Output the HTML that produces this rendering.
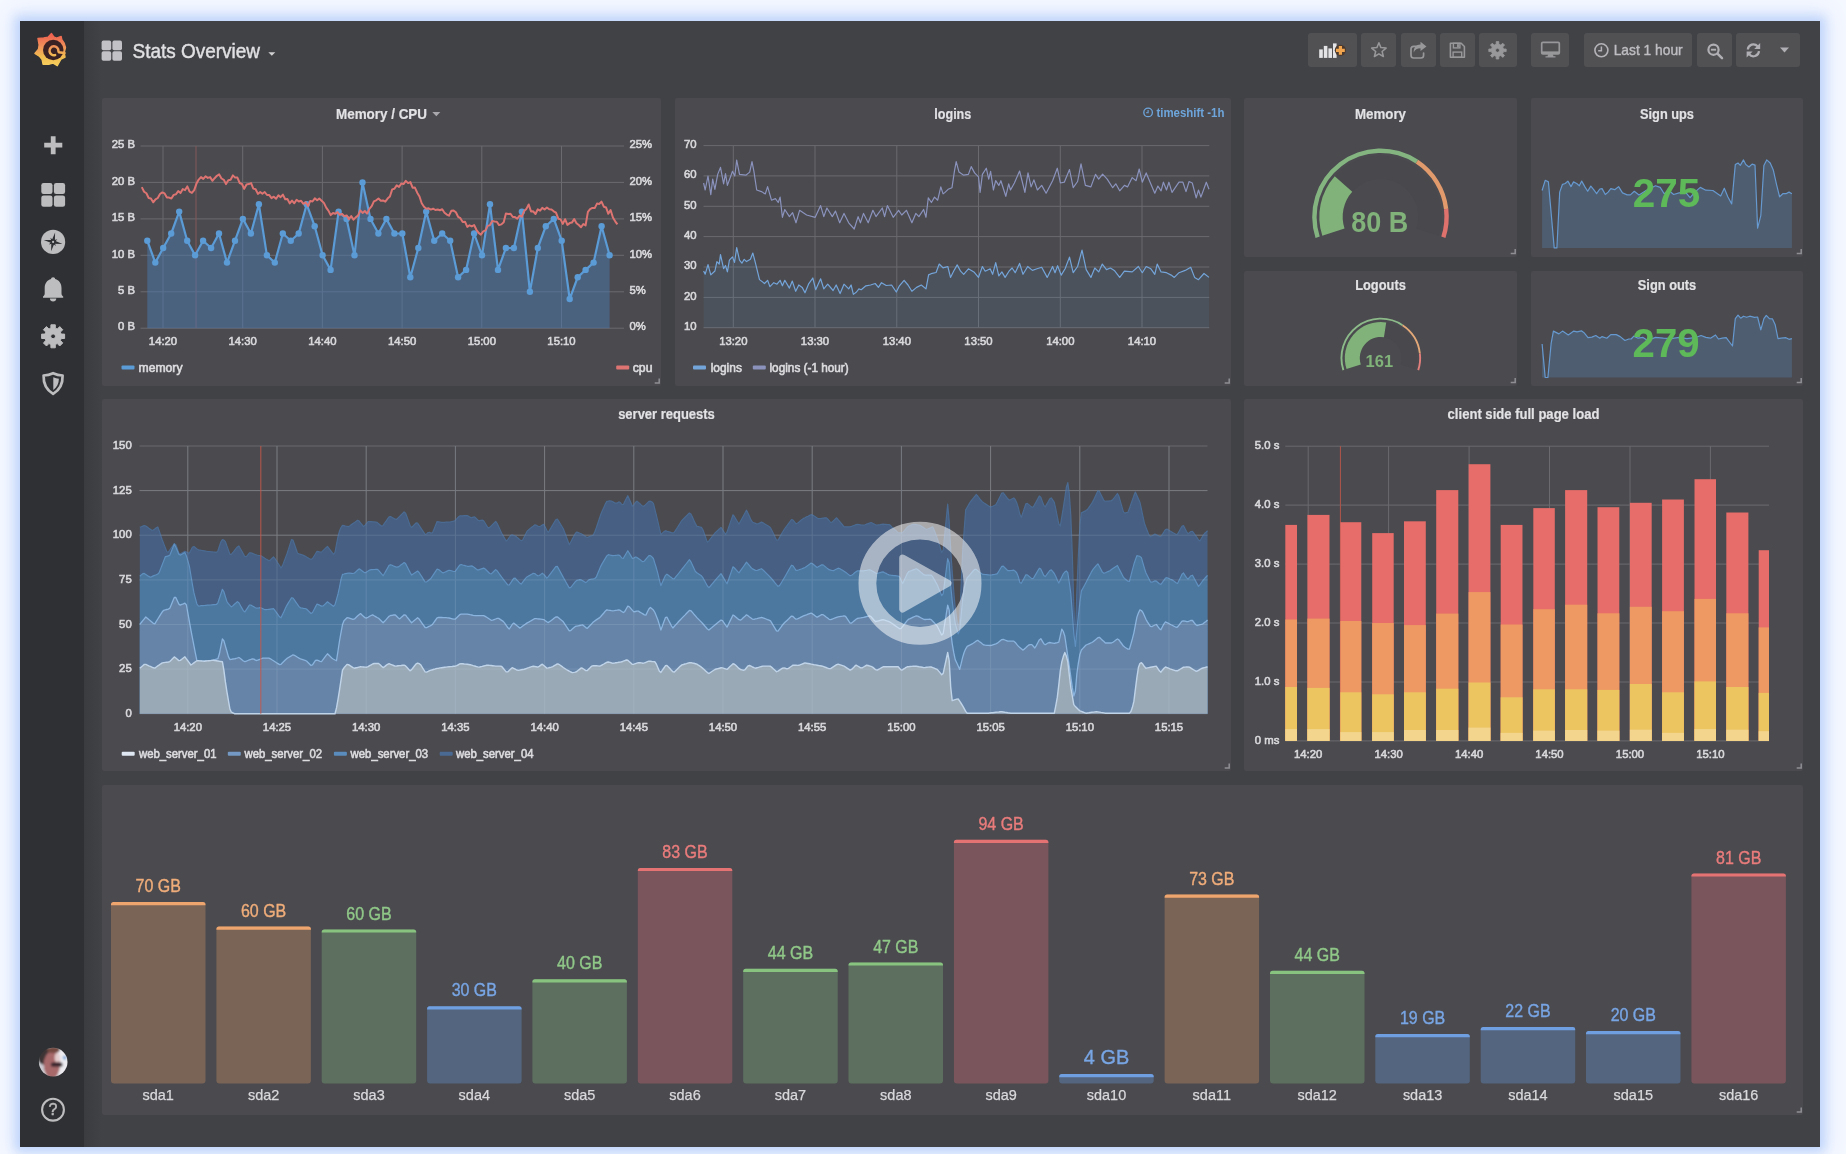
<!DOCTYPE html>
<html lang="en">
<head>
<meta charset="utf-8">
<title>Stats Overview - Grafana</title>
<style>
*{box-sizing:border-box;margin:0;padding:0}
html,body{width:1846px;height:1154px;overflow:hidden}
body{background:#f5f8ff;font-family:"Liberation Sans",sans-serif;position:relative}
.glow{position:absolute;left:20px;top:21px;width:1800px;height:1126px;box-shadow:0 0 10px 5px #c0d5fb,0 -2px 22px 8px #e2ebfd;}
.window{position:absolute;left:20px;top:21px;width:1800px;height:1126px;background:#414245;overflow:hidden}
.sidebar{position:absolute;left:0;top:0;width:64px;height:1126px;background:#2f3033}
.sideshade{position:absolute;left:64px;top:0;width:18px;height:1126px;background:linear-gradient(90deg,#3b3c3f,#414245)}
.panel{position:absolute;background:#4a4a4f;border-radius:2px}
svg{position:absolute;left:0;top:0;overflow:visible;will-change:transform;filter:blur(0.45px)}
svg text{font-family:"Liberation Sans",sans-serif}
.navbtn{position:absolute;top:12px;height:34px;background:#515154;border-radius:3px}
</style>
</head>
<body>
<div class="glow"></div>
<div class="window">
<nav class="sidebar" aria-label="Side menu"></nav>
<div class="sideshade"></div>
<header class="navbar"><div class="navbtn" style="left:1287.6px;width:49.2px"></div><div class="navbtn" style="left:1341.1px;width:35.3px"></div><div class="navbtn" style="left:1380.6px;width:35.3px"></div><div class="navbtn" style="left:1420.3px;width:34.8px"></div><div class="navbtn" style="left:1459.0px;width:37.6px"></div><div class="navbtn" style="left:1511.3px;width:38.0px"></div><div class="navbtn" style="left:1564.0px;width:108.3px"></div><div class="navbtn" style="left:1676.7px;width:35.2px"></div><div class="navbtn" style="left:1716.1px;width:63.5px"></div></header>
<main>
<section class="panel" aria-label="Memory / CPU" style="left:82px;top:77px;width:559px;height:288px"></section>
<section class="panel" aria-label="logins" style="left:654.5px;top:77px;width:556.5px;height:288px"></section>
<section class="panel" aria-label="Memory" style="left:1224px;top:77px;width:273px;height:158.5px"></section>
<section class="panel" aria-label="Sign ups" style="left:1511px;top:77px;width:272px;height:158.5px"></section>
<section class="panel" aria-label="Logouts" style="left:1224px;top:249.5px;width:273px;height:115.0px"></section>
<section class="panel" aria-label="Sign outs" style="left:1511px;top:249.5px;width:272px;height:115.0px"></section>
<section class="panel" aria-label="server requests" style="left:82px;top:377.5px;width:1129px;height:372.5px"></section>
<section class="panel" aria-label="client side full page load" style="left:1224px;top:377.5px;width:559px;height:372.5px"></section>
<section class="panel" aria-label="disk usage" style="left:82px;top:763.5px;width:1701px;height:330.5px"></section>
</main>
</div>
<svg width="1846" height="1154" viewBox="0 0 1846 1154" role="img" aria-label="Stats Overview dashboard">
<g id="logo"><defs><linearGradient id="lg" gradientUnits="userSpaceOnUse" x1="0" y1="195" x2="0" y2="940"><stop offset="0" stop-color="#ee5c50"/><stop offset="0.4" stop-color="#f0925a"/><stop offset="0.72" stop-color="#f2bd50"/><stop offset="1" stop-color="#f6cf5e"/></linearGradient></defs><g transform="translate(25 25) scale(0.04335)"><path d="M610 195 L665 275 L725 300 L835 262 L850 340 L905 420 L935 520 L905 640 L925 740 L830 790 L745 940 L650 880 L560 905 L415 905 L395 800 L330 720 L228 655 L310 560 L325 460 L298 310 L430 300 L530 280Z" fill="url(#lg)" stroke="url(#lg)" stroke-width="30" stroke-linejoin="round"/><circle cx="652" cy="578" r="236" fill="#3a2224"/><path d="M912 648 L779 626 L771 601 A103 103 0 1 0 695 695" fill="none" stroke="url(#lg)" stroke-width="58" stroke-linecap="round" stroke-linejoin="round"/></g></g>
<g id="sidemenu"><path d="M53.2 136.300V154.200M44.200 145.2H62.300" stroke="#bdbdbf" stroke-width="4.800" fill="none"/><rect x="41.3" y="182.9" width="11.2" height="11.2" rx="2.3" fill="#bdbdbf"/><rect x="53.9" y="182.9" width="11.2" height="11.2" rx="2.3" fill="#bdbdbf"/><rect x="41.3" y="195.5" width="11.2" height="11.2" rx="2.3" fill="#bdbdbf"/><rect x="53.9" y="195.5" width="11.2" height="11.2" rx="2.3" fill="#bdbdbf"/><circle cx="53.1" cy="241.9" r="12.1" fill="#bdbdbf"/><path d="M55.1 232.5 L54.9 240.7 L62.5 243.9 L54.3 243.7 L51.1 251.3 L51.3 243.1 L43.7 239.9 L51.9 240.1Z" fill="#2f3033"/><path d="M57.3 239.2 L54.7 242.2 L55.8 246.1 L52.8 243.5 L48.9 244.6 L51.5 241.6 L50.4 237.7 L53.4 240.3Z" fill="#2f3033"/><circle cx="53.1" cy="241.9" r="1.1" fill="#bdbdbf"/><path d="M53.1 277.2c1.3 0 2 .8 2 1.8c4 1 6.4 4.400 6.400 9v5.400c0 1.400 .8 2.300 1.700 3v1.300h-20.200v-1.300c.9-.7 1.700-1.600 1.700-3v-5.400c0-4.600 2.400-8 6.400-9c0-1 .7-1.800 2-1.800z" fill="#bdbdbf"/><path d="M49.9 298.4h6.400c0 1.800-1.400 3.100-3.200 3.100s-3.200-1.300-3.200-3.100z" fill="#bdbdbf"/><path d="M50.9 328.2 L50.9 324.8 L55.3 324.8 L55.3 328.2 L57.3 329 L59.7 326.6 L62.8 329.7 L60.4 332.1 L61.2 334.1 L64.6 334.1 L64.6 338.5 L61.2 338.5 L60.4 340.5 L62.8 342.9 L59.7 346 L57.3 343.6 L55.3 344.4 L55.3 347.8 L50.9 347.8 L50.9 344.4 L48.9 343.6 L46.5 346 L43.4 342.9 L45.8 340.5 L45 338.5 L41.6 338.5 L41.6 334.1 L45 334.1 L45.8 332.1 L43.4 329.7 L46.5 326.6 L48.9 329ZM50.70 336.30a2.4 2.4 0 1 0 4.8 0a2.4 2.4 0 1 0 -4.8 0Z" fill="#bdbdbf" fill-rule="evenodd" stroke="#bdbdbf" stroke-width="1" stroke-linejoin="round"/><path d="M53.1 373.200c3.400 1.500 6.300 2.100 9.500 2.300c.3 8.200-3.200 14.600-9.500 18.400c-6.300-3.800-9.800-10.200-9.500-18.400c3.200-.2 6.100-.8 9.500-2.300z" fill="none" stroke="#bdbdbf" stroke-width="2.7" stroke-linejoin="round"/><path d="M53.3 377.3c2 .8 3.700 1.200 5.600 1.400c-.1 4.900-2 8.700-5.600 11.300z" fill="#bdbdbf"/><defs><clipPath id="avc"><circle cx="53.200" cy="1062.100" r="14.300"/></clipPath><filter id="avb" x="-20%" y="-20%" width="140%" height="140%"><feGaussianBlur stdDeviation="0.9"/></filter></defs><g clip-path="url(#avc)"><g filter="url(#avb)"><rect x="36" y="1045" width="35" height="35" fill="#d9d9de"/><ellipse cx="44.500" cy="1056" rx="7" ry="9.500" fill="#3d3436"/><ellipse cx="62" cy="1062" rx="6.500" ry="14" fill="#ececf1"/><ellipse cx="51.800" cy="1065" rx="8.200" ry="13.500" fill="#a8696b"/><ellipse cx="53.500" cy="1049.800" rx="6.500" ry="3.300" fill="#74483f"/><ellipse cx="57.300" cy="1057.500" rx="2.600" ry="4.600" fill="#e3cccc"/><rect x="50.800" y="1062.400" width="11.800" height="4.300" rx="1.800" fill="#38282e"/><circle cx="64.600" cy="1057.700" r="1.900" fill="#7ea9da"/><ellipse cx="41.500" cy="1068" rx="2.500" ry="4" fill="#c9c9cf"/></g></g><circle cx="53" cy="1109.700" r="10.900" fill="none" stroke="#bdbdbf" stroke-width="2.100"/><text x="53.0" y="1115.3" font-size="16" text-anchor="middle" fill="#bdbdbf" stroke="#bdbdbf" stroke-width="0.5">?</text></g>
<g id="header"><rect x="101.6" y="40.6" width="9.600" height="9.600" rx="1.800" fill="#c2c2c6"/><rect x="112.4" y="40.6" width="9.600" height="9.600" rx="1.800" fill="#c2c2c6"/><rect x="101.6" y="51.2" width="9.600" height="9.600" rx="1.800" fill="#c2c2c6"/><rect x="112.4" y="51.2" width="9.600" height="9.600" rx="1.800" fill="#c2c2c6"/><text x="132.5" y="58.2" font-size="21" fill="#e0e0e3" textLength="127.5" lengthAdjust="spacingAndGlyphs" stroke="#e0e0e3" stroke-width="0.45">Stats Overview</text><path d="M268.300 52.200h7l-3.500 3.600z" fill="#d0d0d3"/></g>
<g id="navbar"><rect x="1319.2" y="49.4" width="3.600" height="8.5" fill="#e4e4e6"/><rect x="1323.8" y="45.9" width="3.600" height="12" fill="#e4e4e6"/><rect x="1328.4" y="48.4" width="3.600" height="9.5" fill="#e4e4e6"/><rect x="1333.0" y="43.4" width="3.600" height="14.5" fill="#e4e4e6"/><circle cx="1340.4" cy="50.300" r="5.600" fill="#4d3a2e"/><path d="M1340.4 45.900v8.800M1336 50.300h8.800" stroke="#f0a54e" stroke-width="3.200" fill="none"/><path d="M1378.9 42.8 L1380.9 47.6 L1386.1 48.1 L1382.1 51.5 L1383.4 56.5 L1378.9 53.8 L1374.4 56.5 L1375.7 51.5 L1371.7 48.1 L1376.9 47.6Z" fill="none" stroke="#98989b" stroke-width="1.500" stroke-linejoin="round"/><path d="M1419.0 46.4h-5.300c-1.600 0-2.700 1.100-2.700 2.700v6.200c0 1.600 1.100 2.700 2.700 2.700h7.200c1.600 0 2.700-1.100 2.700-2.700v-2.300" fill="none" stroke="#98989b" stroke-width="1.700" stroke-linecap="round"/><path d="M1420.5 41.800000000000004l6 4.600l-6 4.600v-2.700c-3.400 0-5.400 1.200-6.800 4.100c0-5 2.300-7.700 6.800-7.900z" fill="#98989b"/><path d="M1450.4 43.3h10.800l3.200 3.200v10.800h-14z" fill="none" stroke="#98989b" stroke-width="1.600" stroke-linejoin="round"/><rect x="1453.4" y="43.3" width="6.500" height="4.600" fill="none" stroke="#98989b" stroke-width="1.400"/><rect x="1457.1000000000001" y="44.099999999999994" width="1.800" height="3" fill="#98989b"/><rect x="1453.1000000000001" y="52.099999999999994" width="8.600" height="5.200" fill="none" stroke="#98989b" stroke-width="1.400"/><path d="M1496.2 44.2 L1496.2 41.6 L1498.8 41.6 L1498.8 44.2 L1500.8 45.1 L1502.7 43.2 L1504.6 45.1 L1502.7 47 L1503.6 49 L1506.2 49 L1506.2 51.6 L1503.6 51.6 L1502.7 53.6 L1504.6 55.5 L1502.7 57.4 L1500.8 55.5 L1498.8 56.4 L1498.8 59 L1496.2 59 L1496.2 56.4 L1494.2 55.5 L1492.3 57.4 L1490.4 55.5 L1492.3 53.6 L1491.4 51.6 L1488.8 51.6 L1488.8 49 L1491.4 49 L1492.3 47 L1490.4 45.1 L1492.3 43.2 L1494.2 45.1ZM1495.50 50.30a2.0 2.0 0 1 0 4.0 0a2.0 2.0 0 1 0 -4.0 0Z" fill="#98989b" fill-rule="evenodd" stroke="#98989b" stroke-width="0.800" stroke-linejoin="round"/><rect x="1541.7" y="42.300000000000004" width="17.600" height="11.600" rx="1.200" fill="none" stroke="#98989b" stroke-width="1.700"/><rect x="1541.7" y="51.4" width="17.600" height="2.600" fill="#98989b"/><path d="M1548.3 53.9h4.400l.8 2.400h2v1.300h-10v-1.300h2z" fill="#98989b"/><circle cx="1601.4" cy="50.3" r="6.500" fill="none" stroke="#b4b4b8" stroke-width="1.600"/><path d="M1601.4 46.5v4.200h-3.200" fill="none" stroke="#b4b4b8" stroke-width="1.500"/><text x="1613.7" y="55.0" font-size="14.6" fill="#bebec2" textLength="69.0" lengthAdjust="spacingAndGlyphs" stroke="#bebec2" stroke-width="0.4">Last 1 hour</text><circle cx="1713.5" cy="49.7" r="5.100" fill="none" stroke="#b0b0b4" stroke-width="2.200"/><path d="M1717.7 53.900000000000006l4.300 4.300" stroke="#b0b0b4" stroke-width="2.500" stroke-linecap="round"/><path d="M1710.9 49.7h5.200" stroke="#b0b0b4" stroke-width="1.900"/><path d="M1747.8000000000002 49.5a5.6 5.6 0 0 1 9.800 -3.200" fill="none" stroke="#b0b0b4" stroke-width="2.200"/><path d="M1760.2 43.099999999999994v6h-6z" fill="#b0b0b4"/><path d="M1759.0 51.099999999999994a5.6 5.6 0 0 1 -9.800 3.200" fill="none" stroke="#b0b0b4" stroke-width="2.200"/><path d="M1746.6000000000001 57.5v-6h6z" fill="#b0b0b4"/><path d="M1780 47.600h9l-4.500 4.800z" fill="#b0b0b4"/></g>
<g id="memcpu"><text x="381.5" y="119.3" font-size="14" text-anchor="middle" font-weight="bold" fill="#e2e2e5" textLength="91.0" lengthAdjust="spacingAndGlyphs" stroke="#e2e2e5" stroke-width="0.2">Memory / CPU</text><path d="M432.300 112h8l-4 4.200z" fill="#a9a9ad"/><path d="M140.5 146.0H624" stroke="#6a6a6f" stroke-width="1"/><path d="M140.5 182.4H624" stroke="#6a6a6f" stroke-width="1"/><path d="M140.5 218.9H624" stroke="#6a6a6f" stroke-width="1"/><path d="M140.5 255.3H624" stroke="#6a6a6f" stroke-width="1"/><path d="M140.5 291.8H624" stroke="#6a6a6f" stroke-width="1"/><path d="M140.5 328.2H624" stroke="#6a6a6f" stroke-width="1"/><path d="M163.0 146V328.2" stroke="#6a6a6f" stroke-width="1"/><path d="M242.7 146V328.2" stroke="#6a6a6f" stroke-width="1"/><path d="M322.4 146V328.2" stroke="#6a6a6f" stroke-width="1"/><path d="M402.1 146V328.2" stroke="#6a6a6f" stroke-width="1"/><path d="M481.8 146V328.2" stroke="#6a6a6f" stroke-width="1"/><path d="M561.5 146V328.2" stroke="#6a6a6f" stroke-width="1"/><text x="135.0" y="148.2" font-size="11.5" text-anchor="end" fill="#d9d9dc" textLength="23.3" lengthAdjust="spacingAndGlyphs" stroke="#d9d9dc" stroke-width="0.6">25 B</text><text x="135.0" y="184.6" font-size="11.5" text-anchor="end" fill="#d9d9dc" textLength="23.3" lengthAdjust="spacingAndGlyphs" stroke="#d9d9dc" stroke-width="0.6">20 B</text><text x="135.0" y="221.1" font-size="11.5" text-anchor="end" fill="#d9d9dc" textLength="23.3" lengthAdjust="spacingAndGlyphs" stroke="#d9d9dc" stroke-width="0.6">15 B</text><text x="135.0" y="257.5" font-size="11.5" text-anchor="end" fill="#d9d9dc" textLength="23.3" lengthAdjust="spacingAndGlyphs" stroke="#d9d9dc" stroke-width="0.6">10 B</text><text x="135.0" y="294.0" font-size="11.5" text-anchor="end" fill="#d9d9dc" textLength="17.0" lengthAdjust="spacingAndGlyphs" stroke="#d9d9dc" stroke-width="0.6">5 B</text><text x="135.0" y="330.4" font-size="11.5" text-anchor="end" fill="#d9d9dc" textLength="17.0" lengthAdjust="spacingAndGlyphs" stroke="#d9d9dc" stroke-width="0.6">0 B</text><text x="629.5" y="148.2" font-size="11.5" fill="#d9d9dc" textLength="22.6" lengthAdjust="spacingAndGlyphs" stroke="#d9d9dc" stroke-width="0.6">25%</text><text x="629.5" y="184.6" font-size="11.5" fill="#d9d9dc" textLength="22.6" lengthAdjust="spacingAndGlyphs" stroke="#d9d9dc" stroke-width="0.6">20%</text><text x="629.5" y="221.1" font-size="11.5" fill="#d9d9dc" textLength="22.6" lengthAdjust="spacingAndGlyphs" stroke="#d9d9dc" stroke-width="0.6">15%</text><text x="629.5" y="257.5" font-size="11.5" fill="#d9d9dc" textLength="22.6" lengthAdjust="spacingAndGlyphs" stroke="#d9d9dc" stroke-width="0.6">10%</text><text x="629.5" y="294.0" font-size="11.5" fill="#d9d9dc" textLength="16.3" lengthAdjust="spacingAndGlyphs" stroke="#d9d9dc" stroke-width="0.6">5%</text><text x="629.5" y="330.4" font-size="11.5" fill="#d9d9dc" textLength="16.3" lengthAdjust="spacingAndGlyphs" stroke="#d9d9dc" stroke-width="0.6">0%</text><text x="163.0" y="345.2" font-size="11.5" text-anchor="middle" fill="#d9d9dc" textLength="28.3" lengthAdjust="spacingAndGlyphs" stroke="#d9d9dc" stroke-width="0.6">14:20</text><text x="242.7" y="345.2" font-size="11.5" text-anchor="middle" fill="#d9d9dc" textLength="28.3" lengthAdjust="spacingAndGlyphs" stroke="#d9d9dc" stroke-width="0.6">14:30</text><text x="322.4" y="345.2" font-size="11.5" text-anchor="middle" fill="#d9d9dc" textLength="28.3" lengthAdjust="spacingAndGlyphs" stroke="#d9d9dc" stroke-width="0.6">14:40</text><text x="402.1" y="345.2" font-size="11.5" text-anchor="middle" fill="#d9d9dc" textLength="28.3" lengthAdjust="spacingAndGlyphs" stroke="#d9d9dc" stroke-width="0.6">14:50</text><text x="481.8" y="345.2" font-size="11.5" text-anchor="middle" fill="#d9d9dc" textLength="28.3" lengthAdjust="spacingAndGlyphs" stroke="#d9d9dc" stroke-width="0.6">15:00</text><text x="561.5" y="345.2" font-size="11.5" text-anchor="middle" fill="#d9d9dc" textLength="28.3" lengthAdjust="spacingAndGlyphs" stroke="#d9d9dc" stroke-width="0.6">15:10</text><path d="M196 146V328.2" stroke="#85585a" stroke-width="1"/><path d="M147.3 240.7 L155.3 262.6 L163.2 248 L171.2 233.5 L179.2 211.6 L187.2 240.7 L195.1 255.3 L203.1 240.7 L211.1 248 L219 233.5 L227 262.6 L235 240.7 L242.9 218.9 L250.9 233.5 L258.9 204.3 L266.9 255.3 L274.8 262.6 L282.8 233.5 L290.8 240.7 L298.7 233.5 L306.7 204.3 L314.7 226.2 L322.6 255.3 L330.6 269.9 L338.6 211.6 L346.6 218.9 L354.5 255.3 L362.5 182.4 L370.5 218.9 L378.4 233.5 L386.4 218.9 L394.4 233.5 L402.3 233.5 L410.3 277.2 L418.3 248 L426.2 211.6 L434.2 240.7 L442.2 233.5 L450.2 240.7 L458.1 277.2 L466.1 269.9 L474.1 233.5 L482 255.3 L490 204.3 L498 269.9 L505.9 248 L513.9 248 L521.9 211.6 L529.9 291.8 L537.8 248 L545.8 226.2 L553.8 218.9 L561.7 240.7 L569.7 299 L577.7 277.2 L585.6 269.9 L593.6 262.6 L601.6 226.2 L609.6 255.3 L609.6 328.2 L147.3 328.2Z" fill="#4c79ad" fill-opacity="0.52"/><path d="M147.3 240.7 L155.3 262.6 L163.2 248 L171.2 233.5 L179.2 211.6 L187.2 240.7 L195.1 255.3 L203.1 240.7 L211.1 248 L219 233.5 L227 262.6 L235 240.7 L242.9 218.9 L250.9 233.5 L258.9 204.3 L266.9 255.3 L274.8 262.6 L282.8 233.5 L290.8 240.7 L298.7 233.5 L306.7 204.3 L314.7 226.2 L322.6 255.3 L330.6 269.9 L338.6 211.6 L346.6 218.9 L354.5 255.3 L362.5 182.4 L370.5 218.9 L378.4 233.5 L386.4 218.9 L394.4 233.5 L402.3 233.5 L410.3 277.2 L418.3 248 L426.2 211.6 L434.2 240.7 L442.2 233.5 L450.2 240.7 L458.1 277.2 L466.1 269.9 L474.1 233.5 L482 255.3 L490 204.3 L498 269.9 L505.9 248 L513.9 248 L521.9 211.6 L529.9 291.8 L537.8 248 L545.8 226.2 L553.8 218.9 L561.7 240.7 L569.7 299 L577.7 277.2 L585.6 269.9 L593.6 262.6 L601.6 226.2 L609.6 255.3" fill="none" stroke="#5b9bd6" stroke-width="2.200" stroke-linejoin="round"/><circle cx="147.3" cy="240.7" r="3.200" fill="#5b9bd6"/><circle cx="155.3" cy="262.6" r="3.200" fill="#5b9bd6"/><circle cx="163.2" cy="248.0" r="3.200" fill="#5b9bd6"/><circle cx="171.2" cy="233.5" r="3.200" fill="#5b9bd6"/><circle cx="179.2" cy="211.6" r="3.200" fill="#5b9bd6"/><circle cx="187.2" cy="240.7" r="3.200" fill="#5b9bd6"/><circle cx="195.1" cy="255.3" r="3.200" fill="#5b9bd6"/><circle cx="203.1" cy="240.7" r="3.200" fill="#5b9bd6"/><circle cx="211.1" cy="248.0" r="3.200" fill="#5b9bd6"/><circle cx="219.0" cy="233.5" r="3.200" fill="#5b9bd6"/><circle cx="227.0" cy="262.6" r="3.200" fill="#5b9bd6"/><circle cx="235.0" cy="240.7" r="3.200" fill="#5b9bd6"/><circle cx="242.9" cy="218.9" r="3.200" fill="#5b9bd6"/><circle cx="250.9" cy="233.5" r="3.200" fill="#5b9bd6"/><circle cx="258.9" cy="204.3" r="3.200" fill="#5b9bd6"/><circle cx="266.9" cy="255.3" r="3.200" fill="#5b9bd6"/><circle cx="274.8" cy="262.6" r="3.200" fill="#5b9bd6"/><circle cx="282.8" cy="233.5" r="3.200" fill="#5b9bd6"/><circle cx="290.8" cy="240.7" r="3.200" fill="#5b9bd6"/><circle cx="298.7" cy="233.5" r="3.200" fill="#5b9bd6"/><circle cx="306.7" cy="204.3" r="3.200" fill="#5b9bd6"/><circle cx="314.7" cy="226.2" r="3.200" fill="#5b9bd6"/><circle cx="322.6" cy="255.3" r="3.200" fill="#5b9bd6"/><circle cx="330.6" cy="269.9" r="3.200" fill="#5b9bd6"/><circle cx="338.6" cy="211.6" r="3.200" fill="#5b9bd6"/><circle cx="346.6" cy="218.9" r="3.200" fill="#5b9bd6"/><circle cx="354.5" cy="255.3" r="3.200" fill="#5b9bd6"/><circle cx="362.5" cy="182.4" r="3.200" fill="#5b9bd6"/><circle cx="370.5" cy="218.9" r="3.200" fill="#5b9bd6"/><circle cx="378.4" cy="233.5" r="3.200" fill="#5b9bd6"/><circle cx="386.4" cy="218.9" r="3.200" fill="#5b9bd6"/><circle cx="394.4" cy="233.5" r="3.200" fill="#5b9bd6"/><circle cx="402.3" cy="233.5" r="3.200" fill="#5b9bd6"/><circle cx="410.3" cy="277.2" r="3.200" fill="#5b9bd6"/><circle cx="418.3" cy="248.0" r="3.200" fill="#5b9bd6"/><circle cx="426.2" cy="211.6" r="3.200" fill="#5b9bd6"/><circle cx="434.2" cy="240.7" r="3.200" fill="#5b9bd6"/><circle cx="442.2" cy="233.5" r="3.200" fill="#5b9bd6"/><circle cx="450.2" cy="240.7" r="3.200" fill="#5b9bd6"/><circle cx="458.1" cy="277.2" r="3.200" fill="#5b9bd6"/><circle cx="466.1" cy="269.9" r="3.200" fill="#5b9bd6"/><circle cx="474.1" cy="233.5" r="3.200" fill="#5b9bd6"/><circle cx="482.0" cy="255.3" r="3.200" fill="#5b9bd6"/><circle cx="490.0" cy="204.3" r="3.200" fill="#5b9bd6"/><circle cx="498.0" cy="269.9" r="3.200" fill="#5b9bd6"/><circle cx="505.9" cy="248.0" r="3.200" fill="#5b9bd6"/><circle cx="513.9" cy="248.0" r="3.200" fill="#5b9bd6"/><circle cx="521.9" cy="211.6" r="3.200" fill="#5b9bd6"/><circle cx="529.9" cy="291.8" r="3.200" fill="#5b9bd6"/><circle cx="537.8" cy="248.0" r="3.200" fill="#5b9bd6"/><circle cx="545.8" cy="226.2" r="3.200" fill="#5b9bd6"/><circle cx="553.8" cy="218.9" r="3.200" fill="#5b9bd6"/><circle cx="561.7" cy="240.7" r="3.200" fill="#5b9bd6"/><circle cx="569.7" cy="299.0" r="3.200" fill="#5b9bd6"/><circle cx="577.7" cy="277.2" r="3.200" fill="#5b9bd6"/><circle cx="585.6" cy="269.9" r="3.200" fill="#5b9bd6"/><circle cx="593.6" cy="262.6" r="3.200" fill="#5b9bd6"/><circle cx="601.6" cy="226.2" r="3.200" fill="#5b9bd6"/><circle cx="609.6" cy="255.3" r="3.200" fill="#5b9bd6"/><path d="M141.8 187.1 L144.1 191.7 L146.4 193.3 L148.7 198 L150.9 198.5 L153.2 202.3 L155.5 199.4 L157.8 198 L160 194 L162.3 192.4 L164.6 193.4 L166.9 197.5 L169.1 197.6 L171.4 198.5 L173.7 194.9 L176 194.3 L178.2 191.1 L180.5 193.1 L182.8 189.1 L185.1 190.1 L187.3 186.4 L189.6 191.7 L191.9 192.9 L194.2 190.1 L196.4 183.8 L198.7 179.6 L201 177.1 L203.3 178.9 L205.5 176.3 L207.8 177.9 L210.1 177.1 L212.4 180.8 L214.6 178.2 L216.9 175.8 L219.2 174.4 L221.5 178.5 L223.8 179.8 L226 184.1 L228.3 180.2 L230.6 179.8 L232.9 175.4 L235.1 177.6 L237.4 177.6 L239.7 183 L242 184 L244.2 188.9 L246.5 184.5 L248.8 184.1 L251.1 183.1 L253.3 188.6 L255.6 189.3 L257.9 193.9 L260.2 192 L262.4 193.7 L264.7 192 L267 195 L269.3 195.1 L271.5 198.2 L273.8 196.7 L276.1 198.8 L278.4 195.3 L280.6 197.2 L282.9 194.6 L285.2 199.3 L287.5 199.1 L289.7 203.4 L292 200.6 L294.3 203.3 L296.6 199.8 L298.8 201.5 L301.1 200.8 L303.4 203.8 L305.7 202.3 L308 206.1 L310.2 200.9 L312.5 201.5 L314.8 198.3 L317.1 200.3 L319.3 198.6 L321.6 200.7 L323.9 202.9 L326.2 207.6 L328.4 210.6 L330.7 215.1 L333 213 L335.3 213.8 L337.5 212.1 L339.8 214.8 L342.1 213.9 L344.4 216.3 L346.6 215.4 L348.9 219.1 L351.2 216.1 L353.5 219.6 L355.7 217.4 L358 215.6 L360.3 210.4 L362.6 212.9 L364.8 211 L367.1 213.6 L369.4 208.9 L371.7 206.2 L373.9 201.3 L376.2 200.3 L378.5 198.5 L380.8 200.8 L383 200.4 L385.3 201.7 L387.6 198.6 L389.9 196.5 L392.2 189.4 L394.4 188.8 L396.7 185.4 L399 186.9 L401.3 183.5 L403.5 184.1 L405.8 180.9 L408.1 183.1 L410.4 182.1 L412.6 187.7 L414.9 187.6 L417.2 192.7 L419.5 196.5 L421.7 203.2 L424 206.7 L426.3 208.8 L428.6 208.3 L430.8 209.6 L433.1 208.7 L435.4 210 L437.7 209.5 L439.9 210.2 L442.2 209.3 L444.5 212.7 L446.8 214.6 L449 215.7 L451.3 210.8 L453.6 210.6 L455.9 212.3 L458.1 216.8 L460.4 218.2 L462.7 222 L465 221.7 L467.3 226.9 L469.5 225.3 L471.8 226.4 L474.1 225 L476.4 229.8 L478.6 232.9 L480.9 234.6 L483.2 231.4 L485.5 230.4 L487.7 225.9 L490 225.1 L492.3 221.1 L494.6 221.5 L496.8 221.7 L499.1 225.1 L501.4 224.4 L503.7 222.2 L505.9 213.5 L508.2 213.9 L510.5 213.7 L512.8 217 L515 217.1 L517.3 218.7 L519.6 215.6 L521.9 216.7 L524.1 211 L526.4 208.9 L528.7 204.5 L531 211.4 L533.2 211.3 L535.5 214 L537.8 209.3 L540.1 210.7 L542.3 207.9 L544.6 209.5 L546.9 207.5 L549.2 209.2 L551.5 209.5 L553.7 211.3 L556 212.7 L558.3 218.7 L560.6 219.4 L562.8 223.9 L565.1 219.2 L567.4 224.9 L569.7 223.1 L571.9 222.6 L574.2 219.1 L576.5 223.2 L578.8 225 L581 227.3 L583.3 224 L585.6 225.4 L587.9 211.9 L590.1 209.1 L592.4 207.9 L594.7 208.1 L597 203.6 L599.2 204 L601.5 201.6 L603.8 206.7 L606.1 207.5 L608.3 213.8 L610.6 210 L612.9 217.5 L615.2 221.3 L617.4 224.4" fill="none" stroke="#dd7472" stroke-width="2" stroke-linejoin="round"/><rect x="121.5" y="365.5" width="13" height="4" rx="1" fill="#5b9bd6"/><text x="138.5" y="371.7" font-size="12" fill="#dcdcdf" textLength="44.0" lengthAdjust="spacingAndGlyphs" stroke="#dcdcdf" stroke-width="0.6">memory</text><rect x="616.2" y="365.5" width="13" height="4" rx="1" fill="#dd7472"/><text x="632.7" y="371.7" font-size="12" fill="#dcdcdf" textLength="19.8" lengthAdjust="spacingAndGlyphs" stroke="#dcdcdf" stroke-width="0.6">cpu</text><path d="M654.7 383.0H659.2V378.5" stroke="#8e8e94" stroke-width="1.500" fill="none"/></g>
<g id="logins"><text x="952.8" y="119.3" font-size="14" text-anchor="middle" font-weight="bold" fill="#e2e2e5" textLength="37.0" lengthAdjust="spacingAndGlyphs" stroke="#e2e2e5" stroke-width="0.2">logins</text><path d="M703.5 145.6H1209.3" stroke="#6a6a6f" stroke-width="1"/><path d="M703.5 175.9H1209.3" stroke="#6a6a6f" stroke-width="1"/><path d="M703.5 206.3H1209.3" stroke="#6a6a6f" stroke-width="1"/><path d="M703.5 236.6H1209.3" stroke="#6a6a6f" stroke-width="1"/><path d="M703.5 267.0H1209.3" stroke="#6a6a6f" stroke-width="1"/><path d="M703.5 297.4H1209.3" stroke="#6a6a6f" stroke-width="1"/><path d="M703.5 327.7H1209.3" stroke="#6a6a6f" stroke-width="1"/><path d="M733.3 145.6V327.7" stroke="#6a6a6f" stroke-width="1"/><path d="M815.0 145.6V327.7" stroke="#6a6a6f" stroke-width="1"/><path d="M896.8 145.6V327.7" stroke="#6a6a6f" stroke-width="1"/><path d="M978.5 145.6V327.7" stroke="#6a6a6f" stroke-width="1"/><path d="M1060.3 145.6V327.7" stroke="#6a6a6f" stroke-width="1"/><path d="M1142.0 145.6V327.7" stroke="#6a6a6f" stroke-width="1"/><text x="696.6" y="148.0" font-size="11.5" text-anchor="end" fill="#d9d9dc" textLength="12.6" lengthAdjust="spacingAndGlyphs" stroke="#d9d9dc" stroke-width="0.6">70</text><text x="696.6" y="178.3" font-size="11.5" text-anchor="end" fill="#d9d9dc" textLength="12.6" lengthAdjust="spacingAndGlyphs" stroke="#d9d9dc" stroke-width="0.6">60</text><text x="696.6" y="208.7" font-size="11.5" text-anchor="end" fill="#d9d9dc" textLength="12.6" lengthAdjust="spacingAndGlyphs" stroke="#d9d9dc" stroke-width="0.6">50</text><text x="696.6" y="239.0" font-size="11.5" text-anchor="end" fill="#d9d9dc" textLength="12.6" lengthAdjust="spacingAndGlyphs" stroke="#d9d9dc" stroke-width="0.6">40</text><text x="696.6" y="269.4" font-size="11.5" text-anchor="end" fill="#d9d9dc" textLength="12.6" lengthAdjust="spacingAndGlyphs" stroke="#d9d9dc" stroke-width="0.6">30</text><text x="696.6" y="299.8" font-size="11.5" text-anchor="end" fill="#d9d9dc" textLength="12.6" lengthAdjust="spacingAndGlyphs" stroke="#d9d9dc" stroke-width="0.6">20</text><text x="696.6" y="330.1" font-size="11.5" text-anchor="end" fill="#d9d9dc" textLength="12.6" lengthAdjust="spacingAndGlyphs" stroke="#d9d9dc" stroke-width="0.6">10</text><text x="733.3" y="345.2" font-size="11.5" text-anchor="middle" fill="#d9d9dc" textLength="28.3" lengthAdjust="spacingAndGlyphs" stroke="#d9d9dc" stroke-width="0.6">13:20</text><text x="815.0" y="345.2" font-size="11.5" text-anchor="middle" fill="#d9d9dc" textLength="28.3" lengthAdjust="spacingAndGlyphs" stroke="#d9d9dc" stroke-width="0.6">13:30</text><text x="896.8" y="345.2" font-size="11.5" text-anchor="middle" fill="#d9d9dc" textLength="28.3" lengthAdjust="spacingAndGlyphs" stroke="#d9d9dc" stroke-width="0.6">13:40</text><text x="978.5" y="345.2" font-size="11.5" text-anchor="middle" fill="#d9d9dc" textLength="28.3" lengthAdjust="spacingAndGlyphs" stroke="#d9d9dc" stroke-width="0.6">13:50</text><text x="1060.3" y="345.2" font-size="11.5" text-anchor="middle" fill="#d9d9dc" textLength="28.3" lengthAdjust="spacingAndGlyphs" stroke="#d9d9dc" stroke-width="0.6">14:00</text><text x="1142.0" y="345.2" font-size="11.5" text-anchor="middle" fill="#d9d9dc" textLength="28.3" lengthAdjust="spacingAndGlyphs" stroke="#d9d9dc" stroke-width="0.6">14:10</text><circle cx="1148.1" cy="112.4" r="4.300" fill="none" stroke="#6ea6dc" stroke-width="1.300"/><path d="M1148.1 109.9v2.800h-2" fill="none" stroke="#6ea6dc" stroke-width="1.100"/><text x="1156.4" y="116.6" font-size="12" font-weight="bold" fill="#6ea6dc" textLength="68.0" lengthAdjust="spacingAndGlyphs">timeshift -1h</text><path d="M703.6 183 L705.2 190 L708 176 L710.8 194.7 L712.7 179.1 L714.9 189.3 L717.7 174.4 L720.5 167.4 L723.6 183.8 L725.5 173.7 L727.4 185.4 L732.5 171.3 L734.8 176 L736.7 160.1 L739.5 174.4 L745.8 175.2 L749.7 172.1 L752 161.7 L753.9 171.3 L756.7 190 L761.4 191.6 L765.3 193.9 L767.6 186.6 L771.5 200.2 L775.4 198.6 L778.2 202.5 L780.1 197.1 L782.4 217.3 L784.8 209.5 L789.4 216.6 L792.6 212.7 L796 222.8 L799.6 210.3 L806.6 215 L815.2 217.3 L820.6 205.6 L823.8 216.6 L826.9 208 L832.3 216.6 L835.5 211.1 L839.7 222.8 L844 213.4 L848.7 222.8 L854.2 229 L858.1 216.6 L860.4 222.8 L863.5 213.4 L868.2 222.8 L872.9 210.3 L876 216.6 L882.3 208 L884.6 216.6 L887.4 205.6 L893.2 217.3 L898.6 210.3 L901.8 215 L906.4 210.3 L911.9 222.8 L915.8 213.4 L918.9 216.6 L923.6 209.5 L926 217.3 L928.3 197.8 L931.4 202.5 L934.5 197.1 L937.7 200.2 L940.8 186.9 L943.1 193.9 L945 192.4 L948.1 189.3 L952 187.7 L954.4 171.3 L956.2 161.7 L959 172.1 L963.7 175.2 L968.4 174.4 L971.2 166.6 L974.6 172.9 L978.5 176.8 L980.1 192.4 L982.4 174.4 L986.3 168.2 L988.7 179.1 L990.6 171.3 L993.4 190 L995.7 180.7 L998.8 185.4 L1000.9 180.7 L1005.8 196.3 L1008.7 183.8 L1010.5 190 L1014.4 183 L1019.6 171 L1024.9 192.4 L1028 172.9 L1031.1 186.9 L1033.9 179.9 L1037.4 190 L1041.7 185.4 L1046.1 193.2 L1052.6 180.7 L1057.3 168.2 L1060.4 183 L1064.3 182.2 L1069.5 169.5 L1073.2 187.7 L1077.6 181.5 L1081 163.8 L1085.4 185.4 L1090.9 186.9 L1095.5 174.4 L1098.7 179.1 L1102.6 174.1 L1107.2 179.1 L1112.7 187.7 L1115.8 183.8 L1119.7 190.8 L1124.4 185.4 L1127.5 186.9 L1132.2 177.6 L1136.1 180.7 L1139.2 169 L1142.3 182.2 L1146.2 172.9 L1150.1 182.2 L1154.8 193.2 L1157.9 186.1 L1161.1 190.8 L1163.4 182.2 L1166.5 190 L1168.9 182.2 L1172 192.4 L1179 182.2 L1182.9 182.2 L1186 191.6 L1189.1 181.5 L1192.3 183 L1196.2 197.8 L1198.5 190 L1200.9 197.1 L1206.3 182.2 L1209 189.3" fill="none" stroke="#8b93bd" stroke-width="1.200" stroke-linejoin="round"/><path d="M703.6 271 L705.2 274.1 L708 264.7 L710.8 274.9 L714.9 271 L716.9 261.6 L719.2 264 L720.5 254.6 L723.6 268.6 L725.5 265.5 L727.4 271.8 L729.4 260.1 L732.5 256.9 L734.5 262.4 L736.7 247.6 L739.5 260.1 L741.9 263.2 L744.2 259.3 L746.5 261.6 L750.4 259.3 L752.8 253 L755.1 261.6 L759.5 279.6 L764.5 283.5 L767.6 280.3 L769.9 286.6 L773.8 282.7 L777 284.2 L780.1 280.3 L782.4 285.8 L784.8 280.3 L789.4 288.1 L792.3 281.1 L795.7 291.3 L798.8 285 L802.2 287.4 L805 292.8 L808.5 284.2 L812.8 278 L815.7 289.7 L820.6 278.8 L823.8 288.9 L827.7 284.2 L833.1 290.5 L836.2 285 L840.1 293.6 L844 284.2 L848.7 288.9 L851.1 285 L853.4 294.4 L856.5 292 L858.9 288.9 L861.2 289.7 L865.9 285.8 L870.6 285 L875.2 283.5 L878.4 287.4 L881.5 282.7 L886.2 285.5 L891.6 285 L896.3 292 L899.4 285.8 L904.1 280.3 L908 285 L911.9 291.3 L916.6 287.4 L921.3 285 L926 288.9 L928.6 274.9 L932.2 273.3 L936.1 272.5 L939.2 264 L943.1 267.9 L945 267.3 L947.8 266.5 L950.5 277.4 L953.6 271.2 L957.2 264.9 L960.6 271.2 L963.7 274.3 L968.4 268.8 L973.9 271.9 L978.5 277.4 L982.4 266.5 L985.2 271.2 L990.2 268.8 L992.6 274.3 L995.7 262.6 L998.8 275.8 L1001.9 271.9 L1005.1 277.4 L1009 271.2 L1012.1 268 L1015.2 272.7 L1019.6 263.4 L1023 274.3 L1027.7 266.5 L1032.4 270.4 L1037 268.8 L1041.7 267.3 L1047.2 277.4 L1052.6 266.5 L1055 272.7 L1057.6 265.7 L1061.2 275.1 L1065.1 268.8 L1069.5 257.1 L1073.2 272.7 L1077.6 266.5 L1082 250.1 L1086.2 269.6 L1090.9 277.4 L1094.8 268 L1098.7 271.9 L1102.3 264.1 L1106.5 269.6 L1110.4 268 L1114.3 270.4 L1119.7 277.4 L1124.4 271.2 L1132.2 271.9 L1138.4 266.5 L1142.3 272.7 L1146.2 266.5 L1150.9 268.8 L1154.8 274.3 L1157.2 264.1 L1161.1 271.9 L1166.5 272.7 L1171.2 275.1 L1174.3 277.4 L1179 272.7 L1185.2 270.4 L1190.7 267.3 L1194.6 277.4 L1198.5 279.7 L1204 273.5 L1209 277.4 L1209.0 327.7 L703.6 327.7Z" fill="#5f9bd0" fill-opacity="0.1"/><path d="M703.6 271 L705.2 274.1 L708 264.7 L710.8 274.9 L714.9 271 L716.9 261.6 L719.2 264 L720.5 254.6 L723.6 268.6 L725.5 265.5 L727.4 271.8 L729.4 260.1 L732.5 256.9 L734.5 262.4 L736.7 247.6 L739.5 260.1 L741.9 263.2 L744.2 259.3 L746.5 261.6 L750.4 259.3 L752.8 253 L755.1 261.6 L759.5 279.6 L764.5 283.5 L767.6 280.3 L769.9 286.6 L773.8 282.7 L777 284.2 L780.1 280.3 L782.4 285.8 L784.8 280.3 L789.4 288.1 L792.3 281.1 L795.7 291.3 L798.8 285 L802.2 287.4 L805 292.8 L808.5 284.2 L812.8 278 L815.7 289.7 L820.6 278.8 L823.8 288.9 L827.7 284.2 L833.1 290.5 L836.2 285 L840.1 293.6 L844 284.2 L848.7 288.9 L851.1 285 L853.4 294.4 L856.5 292 L858.9 288.9 L861.2 289.7 L865.9 285.8 L870.6 285 L875.2 283.5 L878.4 287.4 L881.5 282.7 L886.2 285.5 L891.6 285 L896.3 292 L899.4 285.8 L904.1 280.3 L908 285 L911.9 291.3 L916.6 287.4 L921.3 285 L926 288.9 L928.6 274.9 L932.2 273.3 L936.1 272.5 L939.2 264 L943.1 267.9 L945 267.3 L947.8 266.5 L950.5 277.4 L953.6 271.2 L957.2 264.9 L960.6 271.2 L963.7 274.3 L968.4 268.8 L973.9 271.9 L978.5 277.4 L982.4 266.5 L985.2 271.2 L990.2 268.8 L992.6 274.3 L995.7 262.6 L998.8 275.8 L1001.9 271.9 L1005.1 277.4 L1009 271.2 L1012.1 268 L1015.2 272.7 L1019.6 263.4 L1023 274.3 L1027.7 266.5 L1032.4 270.4 L1037 268.8 L1041.7 267.3 L1047.2 277.4 L1052.6 266.5 L1055 272.7 L1057.6 265.7 L1061.2 275.1 L1065.1 268.8 L1069.5 257.1 L1073.2 272.7 L1077.6 266.5 L1082 250.1 L1086.2 269.6 L1090.9 277.4 L1094.8 268 L1098.7 271.9 L1102.3 264.1 L1106.5 269.6 L1110.4 268 L1114.3 270.4 L1119.7 277.4 L1124.4 271.2 L1132.2 271.9 L1138.4 266.5 L1142.3 272.7 L1146.2 266.5 L1150.9 268.8 L1154.8 274.3 L1157.2 264.1 L1161.1 271.9 L1166.5 272.7 L1171.2 275.1 L1174.3 277.4 L1179 272.7 L1185.2 270.4 L1190.7 267.3 L1194.6 277.4 L1198.5 279.7 L1204 273.5 L1209 277.4" fill="none" stroke="#74a5da" stroke-width="1.200" stroke-linejoin="round"/><rect x="693.0" y="365.6" width="13" height="4" rx="1" fill="#74a5da"/><text x="710.7" y="371.8" font-size="12" fill="#dcdcdf" textLength="31.2" lengthAdjust="spacingAndGlyphs" stroke="#dcdcdf" stroke-width="0.6">logins</text><rect x="752.8" y="365.6" width="13" height="4" rx="1" fill="#8b93bd"/><text x="769.5" y="371.8" font-size="12" fill="#dcdcdf" textLength="79.2" lengthAdjust="spacingAndGlyphs" stroke="#dcdcdf" stroke-width="0.6">logins (-1 hour)</text><path d="M1224.7 383.0H1229.2V378.5" stroke="#8e8e94" stroke-width="1.500" fill="none"/></g>
<g id="memory"><text x="1380.5" y="119.1" font-size="14" text-anchor="middle" font-weight="bold" fill="#e2e2e5" textLength="51.0" lengthAdjust="spacingAndGlyphs" stroke="#e2e2e5" stroke-width="0.2">Memory</text><path d="M1322.30 235.71A61.2 61.2 0 1 1 1438.70 235.71L1416.45 228.48A37.8 37.8 0 1 0 1344.55 228.48Z" fill="#48484d"/><path d="M1315.54 237.91A68.3 68.3 0 0 1 1418.18 159.83L1415.75 163.50A63.9 63.9 0 0 0 1319.73 236.55Z" fill="#84b581"/><path d="M1418.18 159.83A68.3 68.3 0 0 1 1448.31 208.67L1443.95 209.19A63.9 63.9 0 0 0 1415.75 163.50Z" fill="#e09a6c"/><path d="M1448.31 208.67A68.3 68.3 0 0 1 1445.46 237.91L1441.27 236.55A63.9 63.9 0 0 0 1443.95 209.19Z" fill="#e0726e"/><path d="M1322.30 235.71A61.2 61.2 0 0 1 1334.75 176.15L1352.24 191.70A37.8 37.8 0 0 0 1344.55 228.48Z" fill="#80b279"/><text x="1379.8" y="232.1" font-size="29" text-anchor="middle" font-weight="bold" fill="#80b279" textLength="57.0" lengthAdjust="spacingAndGlyphs">80 B</text><path d="M1510.7 253.5H1515.2V249.0" stroke="#8e8e94" stroke-width="1.500" fill="none"/></g>
<g id="logouts"><text x="1380.5" y="290.3" font-size="14" text-anchor="middle" font-weight="bold" fill="#e2e2e5" textLength="50.7" lengthAdjust="spacingAndGlyphs" stroke="#e2e2e5" stroke-width="0.2">Logouts</text><clipPath id="lgc"><rect x="1244" y="270" width="273" height="115.500"/></clipPath><g clip-path="url(#lgc)"><path d="M1346.56 369.12A36 36 0 1 1 1415.04 369.12L1400.77 364.49A21 21 0 1 0 1360.83 364.49Z" fill="#48484d"/><path d="M1342.47 370.45A40.3 40.3 0 0 1 1403.03 324.39L1401.98 325.97A38.4 38.4 0 0 0 1344.28 369.87Z" fill="#8cba89"/><path d="M1403.03 324.39A40.3 40.3 0 0 1 1420.81 353.20L1418.93 353.43A38.4 38.4 0 0 0 1401.98 325.97Z" fill="#e3a878"/><path d="M1420.81 353.20A40.3 40.3 0 0 1 1419.13 370.45L1417.32 369.87A38.4 38.4 0 0 0 1418.93 353.43Z" fill="#e27f7c"/><path d="M1346.56 369.12A36 36 0 0 1 1386.21 322.41L1383.95 337.24A21 21 0 0 0 1360.83 364.49Z" fill="#80b279"/></g><text x="1379.3" y="367.2" font-size="16.5" text-anchor="middle" font-weight="bold" fill="#80b279" textLength="27.5" lengthAdjust="spacingAndGlyphs">161</text><path d="M1510.7 382.5H1515.2V378.0" stroke="#8e8e94" stroke-width="1.500" fill="none"/></g>
<g id="signups"><text x="1667.0" y="119.1" font-size="14" text-anchor="middle" font-weight="bold" fill="#e2e2e5" textLength="53.9" lengthAdjust="spacingAndGlyphs" stroke="#e2e2e5" stroke-width="0.2">Sign ups</text><path d="M1542.1 190.5 L1545.2 180.3 L1548.4 181.9 L1554.2 247.9 L1556.9 247.9 L1559.7 192.1 L1562.5 184.3 L1565.2 183.5 L1567.9 181.1 L1571 186.6 L1573.5 181.9 L1576.7 183.5 L1579.3 185.8 L1581.7 181.1 L1584.8 186.6 L1587.7 191.3 L1590.8 186.1 L1593.5 189.3 L1596.6 193.7 L1599.8 189 L1602.1 188.6 L1605.3 194.5 L1608.1 192.1 L1610.8 188.6 L1614.7 189.7 L1618.6 186.6 L1622.5 192.9 L1627.2 194.9 L1630.4 194.9 L1634.3 191.3 L1639 194.9 L1646.1 190.5 L1655.5 185.8 L1660.2 187.4 L1664.2 193.7 L1668.9 190.5 L1673.6 194.5 L1679.1 192.9 L1685.4 192.1 L1690.1 197.6 L1694.8 192.1 L1700.3 187.4 L1705.8 190.2 L1712.9 190.5 L1720.7 196 L1724.3 188.2 L1727.8 196.8 L1731.7 203.9 L1735.3 164.6 L1738 163 L1740.3 165.4 L1743.5 159.9 L1745.8 164.6 L1749 167 L1752.1 164.1 L1755 165.1 L1757.6 228.2 L1760.8 215.7 L1763.9 165.4 L1766.7 159.9 L1770.2 163 L1773.3 170.1 L1776.5 184.3 L1779.6 196.8 L1782.8 193.7 L1785.9 193.7 L1789 192.1 L1791.9 193.7 L1791.9 247.9 L1542.1 247.9Z" fill="#5f8ec4" fill-opacity="0.28"/><path d="M1542.1 190.5 L1545.2 180.3 L1548.4 181.9 L1554.2 247.9 L1556.9 247.9 L1559.7 192.1 L1562.5 184.3 L1565.2 183.5 L1567.9 181.1 L1571 186.6 L1573.5 181.9 L1576.7 183.5 L1579.3 185.8 L1581.7 181.1 L1584.8 186.6 L1587.7 191.3 L1590.8 186.1 L1593.5 189.3 L1596.6 193.7 L1599.8 189 L1602.1 188.6 L1605.3 194.5 L1608.1 192.1 L1610.8 188.6 L1614.7 189.7 L1618.6 186.6 L1622.5 192.9 L1627.2 194.9 L1630.4 194.9 L1634.3 191.3 L1639 194.9 L1646.1 190.5 L1655.5 185.8 L1660.2 187.4 L1664.2 193.7 L1668.9 190.5 L1673.6 194.5 L1679.1 192.9 L1685.4 192.1 L1690.1 197.6 L1694.8 192.1 L1700.3 187.4 L1705.8 190.2 L1712.9 190.5 L1720.7 196 L1724.3 188.2 L1727.8 196.8 L1731.7 203.9 L1735.3 164.6 L1738 163 L1740.3 165.4 L1743.5 159.9 L1745.8 164.6 L1749 167 L1752.1 164.1 L1755 165.1 L1757.6 228.2 L1760.8 215.7 L1763.9 165.4 L1766.7 159.9 L1770.2 163 L1773.3 170.1 L1776.5 184.3 L1779.6 196.8 L1782.8 193.7 L1785.9 193.7 L1789 192.1 L1791.9 193.7" fill="none" stroke="#6699cf" stroke-width="1.200" stroke-linejoin="round"/><text x="1666.5" y="207.0" font-size="40" text-anchor="middle" font-weight="bold" fill="#5eba59" textLength="67.5" lengthAdjust="spacingAndGlyphs">275</text><path d="M1796.7 253.5H1801.2V249.0" stroke="#8e8e94" stroke-width="1.500" fill="none"/></g>
<g id="signouts"><text x="1667.0" y="290.3" font-size="14" text-anchor="middle" font-weight="bold" fill="#e2e2e5" textLength="58.4" lengthAdjust="spacingAndGlyphs" stroke="#e2e2e5" stroke-width="0.2">Sign outs</text><path d="M1542.1 344 L1545.2 377.5 L1547.9 377.5 L1551.1 343.7 L1553.4 331.1 L1558.9 333.9 L1562.5 331.1 L1568.3 335 L1573.8 331.1 L1577 331.9 L1581.4 330.8 L1584 332.7 L1588 337.7 L1591.9 337.1 L1595.8 335.5 L1599.8 338.2 L1602.1 336.6 L1606.8 338.2 L1610.8 334.6 L1616.3 334.6 L1620.2 336.6 L1624.9 340.5 L1628.8 339 L1631.2 339 L1633.8 336.1 L1638.2 338.2 L1643 337.4 L1647.7 340.5 L1655.5 337.4 L1663.4 338.2 L1671.2 338.7 L1679.1 337.4 L1686.9 338.7 L1694.8 337.7 L1701.1 335.5 L1705.8 337.4 L1710.5 338.2 L1715.5 335 L1718.4 339 L1722.3 338.2 L1726.2 337.7 L1732.5 346 L1735.3 318.6 L1738 315.1 L1740.7 318.2 L1743.5 316.2 L1746.6 317.3 L1749.8 316.2 L1754.5 317.3 L1757.6 317 L1760.8 329.9 L1763.9 318.6 L1766.3 315.4 L1769.4 318.6 L1772.5 318.9 L1775.2 324.8 L1778 338.7 L1781.2 338.2 L1785.9 337.7 L1789 339.3 L1791.9 338.7 L1791.9 377.5 L1542.1 377.5Z" fill="#5f8ec4" fill-opacity="0.28"/><path d="M1542.1 344 L1545.2 377.5 L1547.9 377.5 L1551.1 343.7 L1553.4 331.1 L1558.9 333.9 L1562.5 331.1 L1568.3 335 L1573.8 331.1 L1577 331.9 L1581.4 330.8 L1584 332.7 L1588 337.7 L1591.9 337.1 L1595.8 335.5 L1599.8 338.2 L1602.1 336.6 L1606.8 338.2 L1610.8 334.6 L1616.3 334.6 L1620.2 336.6 L1624.9 340.5 L1628.8 339 L1631.2 339 L1633.8 336.1 L1638.2 338.2 L1643 337.4 L1647.7 340.5 L1655.5 337.4 L1663.4 338.2 L1671.2 338.7 L1679.1 337.4 L1686.9 338.7 L1694.8 337.7 L1701.1 335.5 L1705.8 337.4 L1710.5 338.2 L1715.5 335 L1718.4 339 L1722.3 338.2 L1726.2 337.7 L1732.5 346 L1735.3 318.6 L1738 315.1 L1740.7 318.2 L1743.5 316.2 L1746.6 317.3 L1749.8 316.2 L1754.5 317.3 L1757.6 317 L1760.8 329.9 L1763.9 318.6 L1766.3 315.4 L1769.4 318.6 L1772.5 318.9 L1775.2 324.8 L1778 338.7 L1781.2 338.2 L1785.9 337.7 L1789 339.3 L1791.9 338.7" fill="none" stroke="#6699cf" stroke-width="1.200" stroke-linejoin="round"/><text x="1666.1" y="357.0" font-size="40" text-anchor="middle" font-weight="bold" fill="#5eba59" textLength="67.0" lengthAdjust="spacingAndGlyphs">279</text><path d="M1796.7 382.5H1801.2V378.0" stroke="#8e8e94" stroke-width="1.500" fill="none"/></g>
<g id="server"><text x="666.5" y="419.0" font-size="14" text-anchor="middle" font-weight="bold" fill="#e2e2e5" textLength="96.7" lengthAdjust="spacingAndGlyphs" stroke="#e2e2e5" stroke-width="0.2">server requests</text><path d="M139.5 446.0H1207.5" stroke="#6a6a6f" stroke-width="1"/><path d="M139.5 490.6H1207.5" stroke="#6a6a6f" stroke-width="1"/><path d="M139.5 535.2H1207.5" stroke="#6a6a6f" stroke-width="1"/><path d="M139.5 579.9H1207.5" stroke="#6a6a6f" stroke-width="1"/><path d="M139.5 624.5H1207.5" stroke="#6a6a6f" stroke-width="1"/><path d="M139.5 669.1H1207.5" stroke="#6a6a6f" stroke-width="1"/><path d="M139.5 713.7H1207.5" stroke="#6a6a6f" stroke-width="1"/><path d="M187.8 446V713.7" stroke="#6a6a6f" stroke-width="1"/><path d="M277.0 446V713.7" stroke="#6a6a6f" stroke-width="1"/><path d="M366.2 446V713.7" stroke="#6a6a6f" stroke-width="1"/><path d="M455.4 446V713.7" stroke="#6a6a6f" stroke-width="1"/><path d="M544.6 446V713.7" stroke="#6a6a6f" stroke-width="1"/><path d="M633.8 446V713.7" stroke="#6a6a6f" stroke-width="1"/><path d="M723.0 446V713.7" stroke="#6a6a6f" stroke-width="1"/><path d="M812.2 446V713.7" stroke="#6a6a6f" stroke-width="1"/><path d="M901.4 446V713.7" stroke="#6a6a6f" stroke-width="1"/><path d="M990.6 446V713.7" stroke="#6a6a6f" stroke-width="1"/><path d="M1079.8 446V713.7" stroke="#6a6a6f" stroke-width="1"/><path d="M1169.0 446V713.7" stroke="#6a6a6f" stroke-width="1"/><text x="131.7" y="449.2" font-size="11.5" text-anchor="end" fill="#d9d9dc" textLength="18.9" lengthAdjust="spacingAndGlyphs" stroke="#d9d9dc" stroke-width="0.6">150</text><text x="131.7" y="493.8" font-size="11.5" text-anchor="end" fill="#d9d9dc" textLength="18.9" lengthAdjust="spacingAndGlyphs" stroke="#d9d9dc" stroke-width="0.6">125</text><text x="131.7" y="538.4" font-size="11.5" text-anchor="end" fill="#d9d9dc" textLength="18.9" lengthAdjust="spacingAndGlyphs" stroke="#d9d9dc" stroke-width="0.6">100</text><text x="131.7" y="583.1" font-size="11.5" text-anchor="end" fill="#d9d9dc" textLength="12.6" lengthAdjust="spacingAndGlyphs" stroke="#d9d9dc" stroke-width="0.6">75</text><text x="131.7" y="627.7" font-size="11.5" text-anchor="end" fill="#d9d9dc" textLength="12.6" lengthAdjust="spacingAndGlyphs" stroke="#d9d9dc" stroke-width="0.6">50</text><text x="131.7" y="672.3" font-size="11.5" text-anchor="end" fill="#d9d9dc" textLength="12.6" lengthAdjust="spacingAndGlyphs" stroke="#d9d9dc" stroke-width="0.6">25</text><text x="131.7" y="716.9" font-size="11.5" text-anchor="end" fill="#d9d9dc" textLength="6.3" lengthAdjust="spacingAndGlyphs" stroke="#d9d9dc" stroke-width="0.6">0</text><text x="187.8" y="731.2" font-size="11.5" text-anchor="middle" fill="#d9d9dc" textLength="28.3" lengthAdjust="spacingAndGlyphs" stroke="#d9d9dc" stroke-width="0.6">14:20</text><text x="277.0" y="731.2" font-size="11.5" text-anchor="middle" fill="#d9d9dc" textLength="28.3" lengthAdjust="spacingAndGlyphs" stroke="#d9d9dc" stroke-width="0.6">14:25</text><text x="366.2" y="731.2" font-size="11.5" text-anchor="middle" fill="#d9d9dc" textLength="28.3" lengthAdjust="spacingAndGlyphs" stroke="#d9d9dc" stroke-width="0.6">14:30</text><text x="455.4" y="731.2" font-size="11.5" text-anchor="middle" fill="#d9d9dc" textLength="28.3" lengthAdjust="spacingAndGlyphs" stroke="#d9d9dc" stroke-width="0.6">14:35</text><text x="544.6" y="731.2" font-size="11.5" text-anchor="middle" fill="#d9d9dc" textLength="28.3" lengthAdjust="spacingAndGlyphs" stroke="#d9d9dc" stroke-width="0.6">14:40</text><text x="633.8" y="731.2" font-size="11.5" text-anchor="middle" fill="#d9d9dc" textLength="28.3" lengthAdjust="spacingAndGlyphs" stroke="#d9d9dc" stroke-width="0.6">14:45</text><text x="723.0" y="731.2" font-size="11.5" text-anchor="middle" fill="#d9d9dc" textLength="28.3" lengthAdjust="spacingAndGlyphs" stroke="#d9d9dc" stroke-width="0.6">14:50</text><text x="812.2" y="731.2" font-size="11.5" text-anchor="middle" fill="#d9d9dc" textLength="28.3" lengthAdjust="spacingAndGlyphs" stroke="#d9d9dc" stroke-width="0.6">14:55</text><text x="901.4" y="731.2" font-size="11.5" text-anchor="middle" fill="#d9d9dc" textLength="28.3" lengthAdjust="spacingAndGlyphs" stroke="#d9d9dc" stroke-width="0.6">15:00</text><text x="990.6" y="731.2" font-size="11.5" text-anchor="middle" fill="#d9d9dc" textLength="28.3" lengthAdjust="spacingAndGlyphs" stroke="#d9d9dc" stroke-width="0.6">15:05</text><text x="1079.8" y="731.2" font-size="11.5" text-anchor="middle" fill="#d9d9dc" textLength="28.3" lengthAdjust="spacingAndGlyphs" stroke="#d9d9dc" stroke-width="0.6">15:10</text><text x="1169.0" y="731.2" font-size="11.5" text-anchor="middle" fill="#d9d9dc" textLength="28.3" lengthAdjust="spacingAndGlyphs" stroke="#d9d9dc" stroke-width="0.6">15:15</text><path d="M139.8 527.4 L141.3 526.8 L142.8 526.1 L144.3 525.5 L145.8 526 L147.3 527.1 L148.8 528.2 L150.3 529.2 L151.8 530.3 L153.3 530 L154.8 528.9 L156.3 527.8 L157.8 527 L159.3 531.3 L160.8 535.7 L162.3 540 L163.8 543.9 L165.3 547.8 L166.8 551.7 L168.3 552.2 L169.8 550 L171.3 547.9 L172.8 545.8 L174.3 543.7 L175.8 544.7 L177.3 548.8 L178.8 552.9 L180.3 554 L181.8 553.1 L183.3 552.2 L184.9 551.3 L186.4 552 L187.9 552.8 L189.4 553.1 L190.9 550.2 L192.4 547.3 L193.9 546.5 L195.4 547.7 L196.9 548.9 L198.4 549.8 L199.9 550.1 L201.4 550.4 L202.9 550.6 L204.4 550.9 L205.9 551.2 L207.4 551.4 L208.9 551.5 L210.4 551.7 L211.9 551.8 L213.4 552 L214.9 552.1 L216.4 552.3 L217.9 550.8 L219.4 546.3 L220.9 541.8 L222.4 539.6 L223.9 540.1 L225.4 541.7 L226.9 545.9 L228.4 550.1 L229.9 554.3 L231.4 554.3 L232.9 552.5 L234.4 550.6 L235.9 548.7 L237.4 546.9 L238.9 546 L240.4 548.7 L241.9 551.3 L243.4 554 L244.9 556.7 L246.4 556.7 L247.9 554.8 L249.4 552.9 L250.9 552.8 L252.4 553.4 L253.9 554 L255.4 554.6 L256.9 555 L258.4 555.3 L259.9 555.5 L261.4 556.1 L262.9 557 L264.4 557.9 L265.9 558.9 L267.4 559.8 L268.9 560.8 L270.4 560 L271.9 558.5 L273.5 557 L275 558.6 L276.5 561 L278 563.4 L279.5 565.7 L281 568.1 L282.5 565.6 L284 561.7 L285.5 557.8 L287 553.7 L288.5 549.1 L290 544.4 L291.5 539.7 L293 540.1 L294.5 544.5 L296 548.8 L297.5 553.2 L299 553.9 L300.5 554.4 L302 554.9 L303.5 555.4 L305 556.1 L306.5 557 L308 557.9 L309.5 558.7 L311 559.6 L312.5 558.6 L314 556.2 L315.5 553.8 L317 551.4 L318.5 551.6 L320 552 L321.5 552.2 L323 550.7 L324.5 549.2 L326 547.7 L327.5 546.4 L329 548.4 L330.5 550.4 L332 552.4 L333.5 554.4 L335 552.3 L336.5 544.4 L338 536.6 L339.5 531 L341 527.5 L342.5 525.4 L344 525.7 L345.5 526.1 L347 526.4 L348.5 526.7 L350 525.7 L351.5 524.6 L353 523.5 L354.5 522.5 L356 521.4 L357.5 520.3 L359 520.9 L360.5 522.8 L362 524.7 L363.6 526.7 L365.1 525.1 L366.6 523.3 L368.1 521.6 L369.6 521.7 L371.1 521.7 L372.6 521.8 L374.1 521.9 L375.6 522 L377.1 522.4 L378.6 523.7 L380.1 525 L381.6 526.3 L383.1 525.4 L384.6 523.2 L386.1 521.1 L387.6 518.9 L389.1 516.8 L390.6 516.5 L392.1 517.4 L393.6 518.3 L395.1 519.2 L396.6 519.4 L398.1 517.9 L399.6 516.4 L401.1 514.9 L402.6 513.4 L404.1 511.9 L405.6 513.3 L407.1 517.3 L408.6 521.4 L410.1 525.5 L411.6 527.5 L413.1 526 L414.6 524.4 L416.1 522.9 L417.6 523.1 L419.1 525.3 L420.6 527.6 L422.1 529.8 L423.6 532.1 L425.1 534.3 L426.6 534 L428.1 532.5 L429.6 532.3 L431.1 533.3 L432.6 532.6 L434.1 528.9 L435.6 525.2 L437.1 521.6 L438.6 521.8 L440.1 522 L441.6 522.3 L443.1 522.4 L444.6 522.3 L446.1 522.2 L447.6 522.1 L449.1 522 L450.6 521.8 L452.2 521.5 L453.7 521.2 L455.2 520.6 L456.7 518.9 L458.2 517.1 L459.7 515.9 L461.2 515.8 L462.7 515.8 L464.2 515.7 L465.7 515.6 L467.2 515.5 L468.7 516.2 L470.2 517.4 L471.7 517.8 L473.2 517.1 L474.7 516.9 L476.2 518.4 L477.7 519.9 L479.2 520.8 L480.7 520.4 L482.2 520.1 L483.7 520.9 L485.2 523.3 L486.7 525.7 L488.2 528.1 L489.7 527.3 L491.2 525.8 L492.7 524.3 L494.2 522.8 L495.7 521.3 L497.2 523.5 L498.7 526.8 L500.2 530.1 L501.7 533.3 L503.2 535.9 L504.7 538.5 L506.2 541.1 L507.7 539.7 L509.2 537.5 L510.7 535.3 L512.2 534.9 L513.7 535.5 L515.2 536 L516.7 537.1 L518.2 538.3 L519.7 539.6 L521.2 540.8 L522.7 540.1 L524.2 537.1 L525.7 534.1 L527.2 531.1 L528.7 529.7 L530.2 528.5 L531.7 527.3 L533.2 526.1 L534.7 524.9 L536.2 525.2 L537.7 526 L539.2 526.7 L540.8 526 L542.3 525.1 L543.8 524.3 L545.3 527.3 L546.8 530.3 L548.3 532.5 L549.8 529.9 L551.3 527.4 L552.8 524.8 L554.3 522.3 L555.8 519.7 L557.3 519 L558.8 521.4 L560.3 523.8 L561.8 526.2 L563.3 528.7 L564.8 532.7 L566.3 536.7 L567.8 540.8 L569.3 544.8 L570.8 542 L572.3 539.1 L573.8 536.3 L575.3 533.5 L576.8 532 L578.3 532.6 L579.8 533.2 L581.3 533.8 L582.8 534.7 L584.3 535.7 L585.8 536.8 L587.3 537.5 L588.8 536.9 L590.3 536.3 L591.8 535.7 L593.3 535.1 L594.8 531.7 L596.3 527.7 L597.8 523.3 L599.3 518.8 L600.8 514.3 L602.3 510.8 L603.8 507.5 L605.3 504.1 L606.8 501.4 L608.3 501.2 L609.8 500.9 L611.3 501 L612.8 501.8 L614.3 502.6 L615.8 503.3 L617.3 502.9 L618.8 501.9 L620.3 502.5 L621.8 504.5 L623.3 504.7 L624.8 501.6 L626.3 498.5 L627.8 495.7 L629.4 499.2 L630.9 502.8 L632.4 506.3 L633.9 504.8 L635.4 502.5 L636.9 501.1 L638.4 502.4 L639.9 503.7 L641.4 505.1 L642.9 506.4 L644.4 505.9 L645.9 504.4 L647.4 502.9 L648.9 501.4 L650.4 501.2 L651.9 501.9 L653.4 503.4 L654.9 509.4 L656.4 515.4 L657.9 521.6 L659.4 528.4 L660.9 534.5 L662.4 533.1 L663.9 531.8 L665.4 530.8 L666.9 531.2 L668.4 531.7 L669.9 532.1 L671.4 532.6 L672.9 533 L674.4 532.2 L675.9 529.9 L677.4 527.5 L678.9 525.1 L680.4 522.7 L681.9 520.5 L683.4 519 L684.9 517.5 L686.4 516 L687.9 514.5 L689.4 513 L690.9 513.9 L692.4 517.1 L693.9 520.4 L695.4 523.6 L696.9 526.4 L698.4 526.7 L699.9 527 L701.4 527.3 L702.9 529.8 L704.4 534 L705.9 538.2 L707.4 542.4 L708.9 540.8 L710.4 538.8 L711.9 536.9 L713.4 535 L714.9 533 L716.4 531.6 L717.9 530.2 L719.5 528.8 L721 527.4 L722.5 529.7 L724 532 L725.5 534.3 L727 532.1 L728.5 527.7 L730 523.4 L731.5 519.1 L733 514.8 L734.5 516.7 L736 519.2 L737.5 521.7 L739 524.1 L740.5 521.3 L742 518.5 L743.5 515.7 L745 513 L746.5 510.2 L748 513.3 L749.5 516.6 L751 519.9 L752.5 522.2 L754 522.8 L755.5 523.4 L757 524 L758.5 523.6 L760 522.9 L761.5 522.1 L763 522.8 L764.5 523.8 L766 524.7 L767.5 525.6 L769 526.6 L770.5 527.7 L772 530.8 L773.5 533.8 L775 536.9 L776.5 539.9 L778 540.2 L779.5 537.6 L781 534.9 L782.5 532.2 L784 529.8 L785.5 527.7 L787 525.7 L788.5 523.6 L790 521.5 L791.5 519.5 L793 520 L794.5 521.9 L796 523.8 L797.5 523.2 L799 522 L800.5 520.7 L802 519.5 L803.5 518.4 L805 517.7 L806.5 516.9 L808.1 516.2 L809.6 515.4 L811.1 514.7 L812.6 515.1 L814.1 516.1 L815.6 517.1 L817.1 518.1 L818.6 518.7 L820.1 518.5 L821.6 518.3 L823.1 518.1 L824.6 517.9 L826.1 517.8 L827.6 518.8 L829.1 520.6 L830.6 522.5 L832.1 522.1 L833.6 520.6 L835.1 519.1 L836.6 517.8 L838.1 519.6 L839.6 521.4 L841.1 523.2 L842.6 525 L844.1 526.8 L845.6 526.8 L847.1 526.8 L848.6 526.8 L850.1 526.8 L851.6 526.4 L853.1 525.8 L854.6 525.2 L856.1 524.6 L857.6 524.3 L859.1 524.5 L860.6 524.8 L862.1 525 L863.6 525.2 L865.1 524.7 L866.6 524.1 L868.1 523.6 L869.6 523 L871.1 522.5 L872.6 523.2 L874.1 524 L875.6 524.8 L877.1 525.2 L878.6 524.9 L880.1 524.7 L881.6 524.4 L883.1 524.2 L884.6 524.3 L886.1 524.4 L887.6 524.5 L889.1 524.6 L890.6 525.6 L892.1 527.1 L893.6 528.5 L895.1 529.9 L896.7 531.3 L898.2 532.8 L899.7 532.9 L901.2 532.9 L902.7 532.7 L904.2 530.9 L905.7 529.1 L907.2 527.3 L908.7 526.1 L910.2 525.5 L911.7 524.9 L913.2 524.3 L914.7 524.4 L916.2 524.6 L917.7 524.9 L919.2 525.1 L920.7 525.8 L922.2 526.8 L923.7 527.8 L925.2 528.8 L926.7 529.5 L928.2 528.8 L929.7 528.2 L931.2 527.5 L932.7 526.9 L934.2 530.3 L935.7 534.4 L937.2 538.4 L938.7 542.7 L940.2 547.6 L941.7 552.5 L943.2 550.1 L944.7 534.8 L946.2 519.5 L947.7 504.2 L949.2 521.6 L950.7 550 L952.2 571.5 L953.7 590.9 L955.2 607.7 L956.7 618.6 L958.2 629.5 L959.7 620.4 L961.2 583.8 L962.7 551.2 L964.2 529.6 L965.7 509.9 L967.2 507.2 L968.7 504.6 L970.2 502.1 L971.7 500.2 L973.2 498.3 L974.7 496.4 L976.2 494.5 L977.7 496 L979.2 498 L980.7 500 L982.2 501.7 L983.7 502.7 L985.3 503.7 L986.8 504.7 L988.3 505.8 L989.8 506.8 L991.3 506.9 L992.8 506.2 L994.3 505.5 L995.8 504.8 L997.3 502 L998.8 499 L1000.3 496 L1001.8 493 L1003.3 492.8 L1004.8 494.8 L1006.3 496.8 L1007.8 498.8 L1009.3 500.2 L1010.8 499.5 L1012.3 498.7 L1013.8 498 L1015.3 499.7 L1016.8 502.9 L1018.3 507.6 L1019.8 514.1 L1021.3 517.5 L1022.8 513 L1024.3 508.5 L1025.8 503.9 L1027.3 503.4 L1028.8 504.6 L1030.3 505.9 L1031.8 507.1 L1033.3 507 L1034.8 504.2 L1036.3 501.5 L1037.8 498.8 L1039.3 496 L1040.8 497.3 L1042.3 501.4 L1043.8 505.5 L1045.3 506.8 L1046.8 504.1 L1048.3 501.5 L1049.8 498.8 L1051.3 497.9 L1052.8 500.1 L1054.3 502.3 L1055.8 509.2 L1057.3 516.6 L1058.8 523.9 L1060.3 526.1 L1061.8 516.9 L1063.3 507.8 L1064.8 498 L1066.3 487.5 L1067.8 482.6 L1069.3 493.6 L1070.8 515.3 L1072.3 554.3 L1073.8 606.1 L1075.4 637.7 L1076.9 589.7 L1078.4 555.4 L1079.9 525.4 L1081.4 512.9 L1082.9 512.1 L1084.4 511.4 L1085.9 510.6 L1087.4 509.5 L1088.9 507.4 L1090.4 505.3 L1091.9 503.2 L1093.4 500.4 L1094.9 497.2 L1096.4 493.9 L1097.9 490.7 L1099.4 491.4 L1100.9 494.5 L1102.4 497.5 L1103.9 500.6 L1105.4 501.3 L1106.9 501.2 L1108.4 501.1 L1109.9 500.9 L1111.4 500.8 L1112.9 499.4 L1114.4 497.5 L1115.9 495.5 L1117.4 493.5 L1118.9 496.1 L1120.4 501.4 L1121.9 506.7 L1123.4 511.9 L1124.9 513.1 L1126.4 512.7 L1127.9 512.3 L1129.4 508.6 L1130.9 504.3 L1132.4 499.9 L1133.9 495.6 L1135.4 492 L1136.9 495.4 L1138.4 498.8 L1139.9 502.2 L1141.4 509 L1142.9 516.1 L1144.4 523.2 L1145.9 527.1 L1147.4 531 L1148.9 534.9 L1150.4 536.8 L1151.9 535.9 L1153.4 535 L1154.9 534.1 L1156.4 534.7 L1157.9 535.6 L1159.4 536.5 L1160.9 536.7 L1162.4 534.3 L1164 531.9 L1165.5 529.5 L1167 529.1 L1168.5 530 L1170 530.9 L1171.5 531.8 L1173 532.7 L1174.5 533.6 L1176 534.5 L1177.5 534.1 L1179 531.5 L1180.5 528.9 L1182 526.3 L1183.5 525.6 L1185 528.5 L1186.5 531.5 L1188 533.8 L1189.5 532.6 L1191 531.5 L1192.5 531.3 L1194 533.4 L1195.5 535.6 L1197 537.7 L1198.5 539.9 L1200 540.9 L1201.5 538.3 L1203 535.7 L1204.5 533.5 L1206 532.2 L1207.5 530.8 L1207.5 713.7 L139.8 713.7Z" fill="#465f82"/><path d="M139.8 527.4 L141.3 526.8 L142.8 526.1 L144.3 525.5 L145.8 526 L147.3 527.1 L148.8 528.2 L150.3 529.2 L151.8 530.3 L153.3 530 L154.8 528.9 L156.3 527.8 L157.8 527 L159.3 531.3 L160.8 535.7 L162.3 540 L163.8 543.9 L165.3 547.8 L166.8 551.7 L168.3 552.2 L169.8 550 L171.3 547.9 L172.8 545.8 L174.3 543.7 L175.8 544.7 L177.3 548.8 L178.8 552.9 L180.3 554 L181.8 553.1 L183.3 552.2 L184.9 551.3 L186.4 552 L187.9 552.8 L189.4 553.1 L190.9 550.2 L192.4 547.3 L193.9 546.5 L195.4 547.7 L196.9 548.9 L198.4 549.8 L199.9 550.1 L201.4 550.4 L202.9 550.6 L204.4 550.9 L205.9 551.2 L207.4 551.4 L208.9 551.5 L210.4 551.7 L211.9 551.8 L213.4 552 L214.9 552.1 L216.4 552.3 L217.9 550.8 L219.4 546.3 L220.9 541.8 L222.4 539.6 L223.9 540.1 L225.4 541.7 L226.9 545.9 L228.4 550.1 L229.9 554.3 L231.4 554.3 L232.9 552.5 L234.4 550.6 L235.9 548.7 L237.4 546.9 L238.9 546 L240.4 548.7 L241.9 551.3 L243.4 554 L244.9 556.7 L246.4 556.7 L247.9 554.8 L249.4 552.9 L250.9 552.8 L252.4 553.4 L253.9 554 L255.4 554.6 L256.9 555 L258.4 555.3 L259.9 555.5 L261.4 556.1 L262.9 557 L264.4 557.9 L265.9 558.9 L267.4 559.8 L268.9 560.8 L270.4 560 L271.9 558.5 L273.5 557 L275 558.6 L276.5 561 L278 563.4 L279.5 565.7 L281 568.1 L282.5 565.6 L284 561.7 L285.5 557.8 L287 553.7 L288.5 549.1 L290 544.4 L291.5 539.7 L293 540.1 L294.5 544.5 L296 548.8 L297.5 553.2 L299 553.9 L300.5 554.4 L302 554.9 L303.5 555.4 L305 556.1 L306.5 557 L308 557.9 L309.5 558.7 L311 559.6 L312.5 558.6 L314 556.2 L315.5 553.8 L317 551.4 L318.5 551.6 L320 552 L321.5 552.2 L323 550.7 L324.5 549.2 L326 547.7 L327.5 546.4 L329 548.4 L330.5 550.4 L332 552.4 L333.5 554.4 L335 552.3 L336.5 544.4 L338 536.6 L339.5 531 L341 527.5 L342.5 525.4 L344 525.7 L345.5 526.1 L347 526.4 L348.5 526.7 L350 525.7 L351.5 524.6 L353 523.5 L354.5 522.5 L356 521.4 L357.5 520.3 L359 520.9 L360.5 522.8 L362 524.7 L363.6 526.7 L365.1 525.1 L366.6 523.3 L368.1 521.6 L369.6 521.7 L371.1 521.7 L372.6 521.8 L374.1 521.9 L375.6 522 L377.1 522.4 L378.6 523.7 L380.1 525 L381.6 526.3 L383.1 525.4 L384.6 523.2 L386.1 521.1 L387.6 518.9 L389.1 516.8 L390.6 516.5 L392.1 517.4 L393.6 518.3 L395.1 519.2 L396.6 519.4 L398.1 517.9 L399.6 516.4 L401.1 514.9 L402.6 513.4 L404.1 511.9 L405.6 513.3 L407.1 517.3 L408.6 521.4 L410.1 525.5 L411.6 527.5 L413.1 526 L414.6 524.4 L416.1 522.9 L417.6 523.1 L419.1 525.3 L420.6 527.6 L422.1 529.8 L423.6 532.1 L425.1 534.3 L426.6 534 L428.1 532.5 L429.6 532.3 L431.1 533.3 L432.6 532.6 L434.1 528.9 L435.6 525.2 L437.1 521.6 L438.6 521.8 L440.1 522 L441.6 522.3 L443.1 522.4 L444.6 522.3 L446.1 522.2 L447.6 522.1 L449.1 522 L450.6 521.8 L452.2 521.5 L453.7 521.2 L455.2 520.6 L456.7 518.9 L458.2 517.1 L459.7 515.9 L461.2 515.8 L462.7 515.8 L464.2 515.7 L465.7 515.6 L467.2 515.5 L468.7 516.2 L470.2 517.4 L471.7 517.8 L473.2 517.1 L474.7 516.9 L476.2 518.4 L477.7 519.9 L479.2 520.8 L480.7 520.4 L482.2 520.1 L483.7 520.9 L485.2 523.3 L486.7 525.7 L488.2 528.1 L489.7 527.3 L491.2 525.8 L492.7 524.3 L494.2 522.8 L495.7 521.3 L497.2 523.5 L498.7 526.8 L500.2 530.1 L501.7 533.3 L503.2 535.9 L504.7 538.5 L506.2 541.1 L507.7 539.7 L509.2 537.5 L510.7 535.3 L512.2 534.9 L513.7 535.5 L515.2 536 L516.7 537.1 L518.2 538.3 L519.7 539.6 L521.2 540.8 L522.7 540.1 L524.2 537.1 L525.7 534.1 L527.2 531.1 L528.7 529.7 L530.2 528.5 L531.7 527.3 L533.2 526.1 L534.7 524.9 L536.2 525.2 L537.7 526 L539.2 526.7 L540.8 526 L542.3 525.1 L543.8 524.3 L545.3 527.3 L546.8 530.3 L548.3 532.5 L549.8 529.9 L551.3 527.4 L552.8 524.8 L554.3 522.3 L555.8 519.7 L557.3 519 L558.8 521.4 L560.3 523.8 L561.8 526.2 L563.3 528.7 L564.8 532.7 L566.3 536.7 L567.8 540.8 L569.3 544.8 L570.8 542 L572.3 539.1 L573.8 536.3 L575.3 533.5 L576.8 532 L578.3 532.6 L579.8 533.2 L581.3 533.8 L582.8 534.7 L584.3 535.7 L585.8 536.8 L587.3 537.5 L588.8 536.9 L590.3 536.3 L591.8 535.7 L593.3 535.1 L594.8 531.7 L596.3 527.7 L597.8 523.3 L599.3 518.8 L600.8 514.3 L602.3 510.8 L603.8 507.5 L605.3 504.1 L606.8 501.4 L608.3 501.2 L609.8 500.9 L611.3 501 L612.8 501.8 L614.3 502.6 L615.8 503.3 L617.3 502.9 L618.8 501.9 L620.3 502.5 L621.8 504.5 L623.3 504.7 L624.8 501.6 L626.3 498.5 L627.8 495.7 L629.4 499.2 L630.9 502.8 L632.4 506.3 L633.9 504.8 L635.4 502.5 L636.9 501.1 L638.4 502.4 L639.9 503.7 L641.4 505.1 L642.9 506.4 L644.4 505.9 L645.9 504.4 L647.4 502.9 L648.9 501.4 L650.4 501.2 L651.9 501.9 L653.4 503.4 L654.9 509.4 L656.4 515.4 L657.9 521.6 L659.4 528.4 L660.9 534.5 L662.4 533.1 L663.9 531.8 L665.4 530.8 L666.9 531.2 L668.4 531.7 L669.9 532.1 L671.4 532.6 L672.9 533 L674.4 532.2 L675.9 529.9 L677.4 527.5 L678.9 525.1 L680.4 522.7 L681.9 520.5 L683.4 519 L684.9 517.5 L686.4 516 L687.9 514.5 L689.4 513 L690.9 513.9 L692.4 517.1 L693.9 520.4 L695.4 523.6 L696.9 526.4 L698.4 526.7 L699.9 527 L701.4 527.3 L702.9 529.8 L704.4 534 L705.9 538.2 L707.4 542.4 L708.9 540.8 L710.4 538.8 L711.9 536.9 L713.4 535 L714.9 533 L716.4 531.6 L717.9 530.2 L719.5 528.8 L721 527.4 L722.5 529.7 L724 532 L725.5 534.3 L727 532.1 L728.5 527.7 L730 523.4 L731.5 519.1 L733 514.8 L734.5 516.7 L736 519.2 L737.5 521.7 L739 524.1 L740.5 521.3 L742 518.5 L743.5 515.7 L745 513 L746.5 510.2 L748 513.3 L749.5 516.6 L751 519.9 L752.5 522.2 L754 522.8 L755.5 523.4 L757 524 L758.5 523.6 L760 522.9 L761.5 522.1 L763 522.8 L764.5 523.8 L766 524.7 L767.5 525.6 L769 526.6 L770.5 527.7 L772 530.8 L773.5 533.8 L775 536.9 L776.5 539.9 L778 540.2 L779.5 537.6 L781 534.9 L782.5 532.2 L784 529.8 L785.5 527.7 L787 525.7 L788.5 523.6 L790 521.5 L791.5 519.5 L793 520 L794.5 521.9 L796 523.8 L797.5 523.2 L799 522 L800.5 520.7 L802 519.5 L803.5 518.4 L805 517.7 L806.5 516.9 L808.1 516.2 L809.6 515.4 L811.1 514.7 L812.6 515.1 L814.1 516.1 L815.6 517.1 L817.1 518.1 L818.6 518.7 L820.1 518.5 L821.6 518.3 L823.1 518.1 L824.6 517.9 L826.1 517.8 L827.6 518.8 L829.1 520.6 L830.6 522.5 L832.1 522.1 L833.6 520.6 L835.1 519.1 L836.6 517.8 L838.1 519.6 L839.6 521.4 L841.1 523.2 L842.6 525 L844.1 526.8 L845.6 526.8 L847.1 526.8 L848.6 526.8 L850.1 526.8 L851.6 526.4 L853.1 525.8 L854.6 525.2 L856.1 524.6 L857.6 524.3 L859.1 524.5 L860.6 524.8 L862.1 525 L863.6 525.2 L865.1 524.7 L866.6 524.1 L868.1 523.6 L869.6 523 L871.1 522.5 L872.6 523.2 L874.1 524 L875.6 524.8 L877.1 525.2 L878.6 524.9 L880.1 524.7 L881.6 524.4 L883.1 524.2 L884.6 524.3 L886.1 524.4 L887.6 524.5 L889.1 524.6 L890.6 525.6 L892.1 527.1 L893.6 528.5 L895.1 529.9 L896.7 531.3 L898.2 532.8 L899.7 532.9 L901.2 532.9 L902.7 532.7 L904.2 530.9 L905.7 529.1 L907.2 527.3 L908.7 526.1 L910.2 525.5 L911.7 524.9 L913.2 524.3 L914.7 524.4 L916.2 524.6 L917.7 524.9 L919.2 525.1 L920.7 525.8 L922.2 526.8 L923.7 527.8 L925.2 528.8 L926.7 529.5 L928.2 528.8 L929.7 528.2 L931.2 527.5 L932.7 526.9 L934.2 530.3 L935.7 534.4 L937.2 538.4 L938.7 542.7 L940.2 547.6 L941.7 552.5 L943.2 550.1 L944.7 534.8 L946.2 519.5 L947.7 504.2 L949.2 521.6 L950.7 550 L952.2 571.5 L953.7 590.9 L955.2 607.7 L956.7 618.6 L958.2 629.5 L959.7 620.4 L961.2 583.8 L962.7 551.2 L964.2 529.6 L965.7 509.9 L967.2 507.2 L968.7 504.6 L970.2 502.1 L971.7 500.2 L973.2 498.3 L974.7 496.4 L976.2 494.5 L977.7 496 L979.2 498 L980.7 500 L982.2 501.7 L983.7 502.7 L985.3 503.7 L986.8 504.7 L988.3 505.8 L989.8 506.8 L991.3 506.9 L992.8 506.2 L994.3 505.5 L995.8 504.8 L997.3 502 L998.8 499 L1000.3 496 L1001.8 493 L1003.3 492.8 L1004.8 494.8 L1006.3 496.8 L1007.8 498.8 L1009.3 500.2 L1010.8 499.5 L1012.3 498.7 L1013.8 498 L1015.3 499.7 L1016.8 502.9 L1018.3 507.6 L1019.8 514.1 L1021.3 517.5 L1022.8 513 L1024.3 508.5 L1025.8 503.9 L1027.3 503.4 L1028.8 504.6 L1030.3 505.9 L1031.8 507.1 L1033.3 507 L1034.8 504.2 L1036.3 501.5 L1037.8 498.8 L1039.3 496 L1040.8 497.3 L1042.3 501.4 L1043.8 505.5 L1045.3 506.8 L1046.8 504.1 L1048.3 501.5 L1049.8 498.8 L1051.3 497.9 L1052.8 500.1 L1054.3 502.3 L1055.8 509.2 L1057.3 516.6 L1058.8 523.9 L1060.3 526.1 L1061.8 516.9 L1063.3 507.8 L1064.8 498 L1066.3 487.5 L1067.8 482.6 L1069.3 493.6 L1070.8 515.3 L1072.3 554.3 L1073.8 606.1 L1075.4 637.7 L1076.9 589.7 L1078.4 555.4 L1079.9 525.4 L1081.4 512.9 L1082.9 512.1 L1084.4 511.4 L1085.9 510.6 L1087.4 509.5 L1088.9 507.4 L1090.4 505.3 L1091.9 503.2 L1093.4 500.4 L1094.9 497.2 L1096.4 493.9 L1097.9 490.7 L1099.4 491.4 L1100.9 494.5 L1102.4 497.5 L1103.9 500.6 L1105.4 501.3 L1106.9 501.2 L1108.4 501.1 L1109.9 500.9 L1111.4 500.8 L1112.9 499.4 L1114.4 497.5 L1115.9 495.5 L1117.4 493.5 L1118.9 496.1 L1120.4 501.4 L1121.9 506.7 L1123.4 511.9 L1124.9 513.1 L1126.4 512.7 L1127.9 512.3 L1129.4 508.6 L1130.9 504.3 L1132.4 499.9 L1133.9 495.6 L1135.4 492 L1136.9 495.4 L1138.4 498.8 L1139.9 502.2 L1141.4 509 L1142.9 516.1 L1144.4 523.2 L1145.9 527.1 L1147.4 531 L1148.9 534.9 L1150.4 536.8 L1151.9 535.9 L1153.4 535 L1154.9 534.1 L1156.4 534.7 L1157.9 535.6 L1159.4 536.5 L1160.9 536.7 L1162.4 534.3 L1164 531.9 L1165.5 529.5 L1167 529.1 L1168.5 530 L1170 530.9 L1171.5 531.8 L1173 532.7 L1174.5 533.6 L1176 534.5 L1177.5 534.1 L1179 531.5 L1180.5 528.9 L1182 526.3 L1183.5 525.6 L1185 528.5 L1186.5 531.5 L1188 533.8 L1189.5 532.6 L1191 531.5 L1192.5 531.3 L1194 533.4 L1195.5 535.6 L1197 537.7 L1198.5 539.9 L1200 540.9 L1201.5 538.3 L1203 535.7 L1204.5 533.5 L1206 532.2 L1207.5 530.8" fill="none" stroke="#4b6b93" stroke-width="1.2" stroke-linejoin="round"/><path d="M139.8 576.2 L141.3 574.9 L142.8 573.7 L144.3 573.4 L145.8 574.4 L147.3 575.4 L148.8 576.4 L150.3 577.2 L151.8 576.6 L153.3 575.9 L154.8 575.3 L156.3 574.7 L157.8 574 L159.3 572.3 L160.8 568.4 L162.3 564.5 L163.8 560.6 L165.3 556.7 L166.8 556.3 L168.3 555.9 L169.8 555.2 L171.3 551.5 L172.8 547.7 L174.3 544 L175.8 547 L177.3 550.6 L178.8 554.2 L180.3 555.1 L181.8 554.3 L183.3 553.4 L184.9 552.6 L186.4 555.9 L187.9 560.9 L189.4 566.4 L190.9 575.4 L192.4 584.4 L193.9 592.7 L195.4 598.3 L196.9 604 L198.4 606 L199.9 605.9 L201.4 605.7 L202.9 605.6 L204.4 605.5 L205.9 605.3 L207.4 605.2 L208.9 605.1 L210.4 605 L211.9 604.8 L213.4 604.7 L214.9 604.6 L216.4 604.5 L217.9 602.8 L219.4 598.3 L220.9 593.8 L222.4 589.3 L223.9 591.8 L225.4 596.6 L226.9 601.5 L228.4 603.6 L229.9 605.3 L231.4 606.9 L232.9 605.7 L234.4 604.3 L235.9 603 L237.4 601.6 L238.9 602.8 L240.4 605.5 L241.9 608.1 L243.4 610.8 L244.9 611.9 L246.4 609.6 L247.9 607.3 L249.4 605 L250.9 605 L252.4 605.9 L253.9 606.8 L255.4 607.7 L256.9 608.2 L258.4 608 L259.9 607.7 L261.4 608 L262.9 608.7 L264.4 609.5 L265.9 609.7 L267.4 609.5 L268.9 609.3 L270.4 609.1 L271.9 608.9 L273.5 608.7 L275 610.5 L276.5 612.6 L278 614.7 L279.5 616.8 L281 617.8 L282.5 614.6 L284 611.4 L285.5 608.1 L287 605.1 L288.5 602.6 L290 600.2 L291.5 597.8 L293 598 L294.5 600.1 L296 602.3 L297.5 604.4 L299 606.6 L300.5 607.8 L302 608 L303.5 608.3 L305 608.5 L306.5 609 L308 610.5 L309.5 612 L311 613.5 L312.5 612.5 L314 609.7 L315.5 606.9 L317 604 L318.5 604.6 L320 605.4 L321.5 606.1 L323 606 L324.5 604.6 L326 603.2 L327.5 601.8 L329 602.9 L330.5 604.1 L332 605.2 L333.5 606.3 L335 604.7 L336.5 599.3 L338 593.9 L339.5 587.2 L341 579.4 L342.5 574.3 L344 574 L345.5 573.6 L347 573.3 L348.5 573 L350 573.1 L351.5 573.3 L353 573.5 L354.5 573 L356 571.6 L357.5 570.2 L359 568.9 L360.5 569.6 L362 570.8 L363.6 572 L365.1 572.8 L366.6 571.9 L368.1 571 L369.6 570.1 L371.1 569.6 L372.6 569.6 L374.1 569.5 L375.6 569.4 L377.1 569.3 L378.6 570.3 L380.1 572.1 L381.6 573.9 L383.1 575.7 L384.6 573.3 L386.1 570.6 L387.6 568 L389.1 565.3 L390.6 564.7 L392.1 565.3 L393.6 566 L395.1 566.6 L396.6 567.2 L398.1 566.9 L399.6 565.9 L401.1 564.8 L402.6 563.7 L404.1 562.6 L405.6 563.6 L407.1 566.5 L408.6 569.5 L410.1 572.4 L411.6 575 L413.1 574 L414.6 573 L416.1 572 L417.6 571 L419.1 572.5 L420.6 574.9 L422.1 577.2 L423.6 579.6 L425.1 582 L426.6 581.9 L428.1 580.7 L429.6 579.5 L431.1 578.2 L432.6 575.9 L434.1 573.7 L435.6 571.4 L437.1 569.2 L438.6 569.5 L440.1 570.7 L441.6 571.9 L443.1 572.9 L444.6 572.2 L446.1 571.6 L447.6 570.9 L449.1 570.3 L450.6 570.5 L452.2 571 L453.7 571.5 L455.2 571.4 L456.7 569.3 L458.2 567.2 L459.7 565.1 L461.2 564.5 L462.7 565 L464.2 565.4 L465.7 565.8 L467.2 566.3 L468.7 566.3 L470.2 566.1 L471.7 565.9 L473.2 566.6 L474.7 567.8 L476.2 569 L477.7 570.1 L479.2 569.6 L480.7 569.1 L482.2 568.6 L483.7 568.1 L485.2 569 L486.7 570.5 L488.2 572 L489.7 573.5 L491.2 573.9 L492.7 572.5 L494.2 571 L495.7 569.6 L497.2 570.9 L498.7 573 L500.2 575.1 L501.7 577.2 L503.2 579.2 L504.7 581.1 L506.2 583 L507.7 584.8 L509.2 585 L510.7 582.8 L512.2 580.6 L513.7 578.4 L515.2 578.1 L516.7 579.8 L518.2 581.4 L519.7 583.1 L521.2 584.1 L522.7 582.1 L524.2 580.1 L525.7 578.1 L527.2 576.8 L528.7 575.9 L530.2 575.1 L531.7 574.2 L533.2 573.4 L534.7 573.5 L536.2 574.7 L537.7 575.8 L539.2 575.5 L540.8 574.4 L542.3 573.2 L543.8 574.4 L545.3 576.2 L546.8 578.1 L548.3 576.6 L549.8 574.6 L551.3 572.6 L552.8 570.6 L554.3 568.6 L555.8 566.6 L557.3 566.4 L558.8 569.1 L560.3 571.9 L561.8 574.6 L563.3 577.4 L564.8 580 L566.3 582.7 L567.8 585.4 L569.3 588 L570.8 587.4 L572.3 585.5 L573.8 583.6 L575.3 581.7 L576.8 580.4 L578.3 580 L579.8 579.6 L581.3 579.9 L582.8 580.8 L584.3 581.7 L585.8 582.6 L587.3 581.4 L588.8 579.9 L590.3 579.3 L591.8 579 L593.3 578.8 L594.8 578.5 L596.3 577 L597.8 573.3 L599.3 569.7 L600.8 566.1 L602.3 563.4 L603.8 560.9 L605.3 558.4 L606.8 555.9 L608.3 554.7 L609.8 555 L611.3 555.3 L612.8 555.6 L614.3 555.5 L615.8 555.3 L617.3 555.2 L618.8 555 L620.3 556 L621.8 558 L623.3 558.4 L624.8 555.8 L626.3 553.2 L627.8 550.7 L629.4 553.3 L630.9 555.9 L632.4 558.5 L633.9 558 L635.4 557 L636.9 557.4 L638.4 558.5 L639.9 559.6 L641.4 560.7 L642.9 561.7 L644.4 561 L645.9 559.2 L647.4 557.4 L648.9 555.7 L650.4 555.6 L651.9 556.8 L653.4 558.5 L654.9 563.4 L656.4 568.3 L657.9 573.6 L659.4 580.1 L660.9 585.6 L662.4 582.2 L663.9 578.8 L665.4 575.4 L666.9 574.2 L668.4 575.3 L669.9 576.5 L671.4 577.6 L672.9 578.8 L674.4 578.6 L675.9 576.7 L677.4 574.9 L678.9 573 L680.4 571.1 L681.9 569.2 L683.4 567.3 L684.9 565.4 L686.4 563.5 L687.9 561.6 L689.4 559.7 L690.9 561.8 L692.4 565.1 L693.9 568.3 L695.4 571.5 L696.9 572.8 L698.4 573.8 L699.9 574.8 L701.4 575.8 L702.9 577.7 L704.4 580.5 L705.9 583.2 L707.4 586 L708.9 587.7 L710.4 586 L711.9 584.2 L713.4 582.5 L714.9 580.7 L716.4 578.9 L717.9 577.2 L719.5 575.4 L721 573.6 L722.5 576.1 L724 578.6 L725.5 581.2 L727 583.7 L728.5 579.7 L730 575.4 L731.5 571.1 L733 566.8 L734.5 568 L736 569.7 L737.5 571.3 L739 572.9 L740.5 570.7 L742 568.6 L743.5 566.5 L745 564.3 L746.5 562.2 L748 563.9 L749.5 565.7 L751 567.5 L752.5 568.9 L754 569.6 L755.5 570.4 L757 570.5 L758.5 569.9 L760 569.3 L761.5 568.7 L763 569.9 L764.5 571.4 L766 572.9 L767.5 574.4 L769 575.9 L770.5 577.5 L772 579.2 L773.5 581 L775 582.8 L776.5 584.6 L778 586.3 L779.5 585.6 L781 583.2 L782.5 580.8 L784 578.3 L785.5 575.7 L787 573 L788.5 570.4 L790 567.8 L791.5 565.2 L793 565.8 L794.5 568 L796 570.3 L797.5 570.3 L799 569.8 L800.5 569.2 L802 568.7 L803.5 568.1 L805 567.5 L806.5 566.4 L808.1 565.3 L809.6 564.2 L811.1 563.1 L812.6 563.7 L814.1 565 L815.6 566.3 L817.1 567.5 L818.6 566.6 L820.1 565.7 L821.6 564.8 L823.1 564.9 L824.6 566.1 L826.1 567.4 L827.6 568.6 L829.1 569.7 L830.6 570.1 L832.1 570.5 L833.6 570.6 L835.1 569.8 L836.6 569 L838.1 568.2 L839.6 568.5 L841.1 569.4 L842.6 570.3 L844.1 571.2 L845.6 572.2 L847.1 573.4 L848.6 574.6 L850.1 575.8 L851.6 575.3 L853.1 574.1 L854.6 572.8 L856.1 571.6 L857.6 570.8 L859.1 570.8 L860.6 570.8 L862.1 570.8 L863.6 570.8 L865.1 570.5 L866.6 570.3 L868.1 570 L869.6 569.8 L871.1 570.3 L872.6 571.2 L874.1 572.1 L875.6 573 L877.1 573.4 L878.6 573 L880.1 572.6 L881.6 572.2 L883.1 571.9 L884.6 572.7 L886.1 573.4 L887.6 574.2 L889.1 574.9 L890.6 575.2 L892.1 575.4 L893.6 575.6 L895.1 575.7 L896.7 575.9 L898.2 576.1 L899.7 577 L901.2 580.5 L902.7 583.6 L904.2 580.3 L905.7 577 L907.2 573.7 L908.7 571.6 L910.2 571 L911.7 570.5 L913.2 569.9 L914.7 569.4 L916.2 568.8 L917.7 569.5 L919.2 570.8 L920.7 572.1 L922.2 573.3 L923.7 574.6 L925.2 575.1 L926.7 575.1 L928.2 575.1 L929.7 575.1 L931.2 575.1 L932.7 576.7 L934.2 579.4 L935.7 582.1 L937.2 584.8 L938.7 588.4 L940.2 592 L941.7 595.6 L943.2 593.7 L944.7 582 L946.2 570.3 L947.7 558.6 L949.2 563 L950.7 585.9 L952.2 600.8 L953.7 613.2 L955.2 623.3 L956.7 628.6 L958.2 633.8 L959.7 630.2 L961.2 614.5 L962.7 598.7 L964.2 588.2 L965.7 582.1 L967.2 577.7 L968.7 576.1 L970.2 574.4 L971.7 572.7 L973.2 571 L974.7 569.3 L976.2 569.4 L977.7 570.6 L979.2 571.9 L980.7 573.1 L982.2 574.1 L983.7 574.3 L985.3 574.5 L986.8 574.6 L988.3 574.8 L989.8 575 L991.3 575 L992.8 574.7 L994.3 574.5 L995.8 574.2 L997.3 573.6 L998.8 571.2 L1000.3 568.8 L1001.8 566.4 L1003.3 566.2 L1004.8 567.7 L1006.3 569.2 L1007.8 570.7 L1009.3 570.6 L1010.8 570.5 L1012.3 570.3 L1013.8 570.2 L1015.3 571.2 L1016.8 573 L1018.3 576.7 L1019.8 582.4 L1021.3 583.3 L1022.8 580.5 L1024.3 577.7 L1025.8 574.9 L1027.3 574.9 L1028.8 576.1 L1030.3 577.4 L1031.8 578.6 L1033.3 578.5 L1034.8 575.9 L1036.3 573.4 L1037.8 570.8 L1039.3 568.2 L1040.8 569 L1042.3 572.2 L1043.8 575.4 L1045.3 576.5 L1046.8 574.5 L1048.3 572.5 L1049.8 570.5 L1051.3 569.9 L1052.8 571.7 L1054.3 573.5 L1055.8 576.6 L1057.3 579.9 L1058.8 583 L1060.3 580 L1061.8 576.9 L1063.3 573.8 L1064.8 572.1 L1066.3 571 L1067.8 572.7 L1069.3 582.5 L1070.8 593.3 L1072.3 613.3 L1073.8 633.5 L1075.4 646.5 L1076.9 630.2 L1078.4 615.5 L1079.9 602.3 L1081.4 590.9 L1082.9 588.2 L1084.4 585.5 L1085.9 582.7 L1087.4 579.8 L1088.9 576.9 L1090.4 574 L1091.9 571.1 L1093.4 568.9 L1094.9 567.1 L1096.4 565.3 L1097.9 563.8 L1099.4 566.5 L1100.9 569.3 L1102.4 572.1 L1103.9 573.3 L1105.4 572.7 L1106.9 572 L1108.4 571.4 L1109.9 570.7 L1111.4 569.6 L1112.9 568.5 L1114.4 567.4 L1115.9 566.4 L1117.4 565.5 L1118.9 568.5 L1120.4 571.4 L1121.9 574.3 L1123.4 577.2 L1124.9 578.8 L1126.4 580 L1127.9 581.2 L1129.4 581.5 L1130.9 575.7 L1132.4 569.8 L1133.9 564.3 L1135.4 559.8 L1136.9 555.6 L1138.4 556 L1139.9 556.4 L1141.4 557.7 L1142.9 562.9 L1144.4 568.2 L1145.9 572.8 L1147.4 575.8 L1148.9 578.8 L1150.4 581.8 L1151.9 582.2 L1153.4 581.5 L1154.9 580.9 L1156.4 581.2 L1157.9 582.5 L1159.4 583.8 L1160.9 584.4 L1162.4 582.3 L1164 580.2 L1165.5 578.1 L1167 577.7 L1168.5 578.3 L1170 579 L1171.5 579.6 L1173 580.4 L1174.5 581.6 L1176 582.7 L1177.5 583.5 L1179 580.5 L1180.5 577.4 L1182 574.3 L1183.5 573 L1185 575.3 L1186.5 577.6 L1188 579.2 L1189.5 577.4 L1191 575.7 L1192.5 575.2 L1194 578 L1195.5 580.8 L1197 583.6 L1198.5 586.4 L1200 584.6 L1201.5 582.5 L1203 580.4 L1204.5 578.7 L1206 577 L1207.5 575.3 L1207.5 713.7 L139.8 713.7Z" fill="#4c78a0"/><path d="M139.8 576.2 L141.3 574.9 L142.8 573.7 L144.3 573.4 L145.8 574.4 L147.3 575.4 L148.8 576.4 L150.3 577.2 L151.8 576.6 L153.3 575.9 L154.8 575.3 L156.3 574.7 L157.8 574 L159.3 572.3 L160.8 568.4 L162.3 564.5 L163.8 560.6 L165.3 556.7 L166.8 556.3 L168.3 555.9 L169.8 555.2 L171.3 551.5 L172.8 547.7 L174.3 544 L175.8 547 L177.3 550.6 L178.8 554.2 L180.3 555.1 L181.8 554.3 L183.3 553.4 L184.9 552.6 L186.4 555.9 L187.9 560.9 L189.4 566.4 L190.9 575.4 L192.4 584.4 L193.9 592.7 L195.4 598.3 L196.9 604 L198.4 606 L199.9 605.9 L201.4 605.7 L202.9 605.6 L204.4 605.5 L205.9 605.3 L207.4 605.2 L208.9 605.1 L210.4 605 L211.9 604.8 L213.4 604.7 L214.9 604.6 L216.4 604.5 L217.9 602.8 L219.4 598.3 L220.9 593.8 L222.4 589.3 L223.9 591.8 L225.4 596.6 L226.9 601.5 L228.4 603.6 L229.9 605.3 L231.4 606.9 L232.9 605.7 L234.4 604.3 L235.9 603 L237.4 601.6 L238.9 602.8 L240.4 605.5 L241.9 608.1 L243.4 610.8 L244.9 611.9 L246.4 609.6 L247.9 607.3 L249.4 605 L250.9 605 L252.4 605.9 L253.9 606.8 L255.4 607.7 L256.9 608.2 L258.4 608 L259.9 607.7 L261.4 608 L262.9 608.7 L264.4 609.5 L265.9 609.7 L267.4 609.5 L268.9 609.3 L270.4 609.1 L271.9 608.9 L273.5 608.7 L275 610.5 L276.5 612.6 L278 614.7 L279.5 616.8 L281 617.8 L282.5 614.6 L284 611.4 L285.5 608.1 L287 605.1 L288.5 602.6 L290 600.2 L291.5 597.8 L293 598 L294.5 600.1 L296 602.3 L297.5 604.4 L299 606.6 L300.5 607.8 L302 608 L303.5 608.3 L305 608.5 L306.5 609 L308 610.5 L309.5 612 L311 613.5 L312.5 612.5 L314 609.7 L315.5 606.9 L317 604 L318.5 604.6 L320 605.4 L321.5 606.1 L323 606 L324.5 604.6 L326 603.2 L327.5 601.8 L329 602.9 L330.5 604.1 L332 605.2 L333.5 606.3 L335 604.7 L336.5 599.3 L338 593.9 L339.5 587.2 L341 579.4 L342.5 574.3 L344 574 L345.5 573.6 L347 573.3 L348.5 573 L350 573.1 L351.5 573.3 L353 573.5 L354.5 573 L356 571.6 L357.5 570.2 L359 568.9 L360.5 569.6 L362 570.8 L363.6 572 L365.1 572.8 L366.6 571.9 L368.1 571 L369.6 570.1 L371.1 569.6 L372.6 569.6 L374.1 569.5 L375.6 569.4 L377.1 569.3 L378.6 570.3 L380.1 572.1 L381.6 573.9 L383.1 575.7 L384.6 573.3 L386.1 570.6 L387.6 568 L389.1 565.3 L390.6 564.7 L392.1 565.3 L393.6 566 L395.1 566.6 L396.6 567.2 L398.1 566.9 L399.6 565.9 L401.1 564.8 L402.6 563.7 L404.1 562.6 L405.6 563.6 L407.1 566.5 L408.6 569.5 L410.1 572.4 L411.6 575 L413.1 574 L414.6 573 L416.1 572 L417.6 571 L419.1 572.5 L420.6 574.9 L422.1 577.2 L423.6 579.6 L425.1 582 L426.6 581.9 L428.1 580.7 L429.6 579.5 L431.1 578.2 L432.6 575.9 L434.1 573.7 L435.6 571.4 L437.1 569.2 L438.6 569.5 L440.1 570.7 L441.6 571.9 L443.1 572.9 L444.6 572.2 L446.1 571.6 L447.6 570.9 L449.1 570.3 L450.6 570.5 L452.2 571 L453.7 571.5 L455.2 571.4 L456.7 569.3 L458.2 567.2 L459.7 565.1 L461.2 564.5 L462.7 565 L464.2 565.4 L465.7 565.8 L467.2 566.3 L468.7 566.3 L470.2 566.1 L471.7 565.9 L473.2 566.6 L474.7 567.8 L476.2 569 L477.7 570.1 L479.2 569.6 L480.7 569.1 L482.2 568.6 L483.7 568.1 L485.2 569 L486.7 570.5 L488.2 572 L489.7 573.5 L491.2 573.9 L492.7 572.5 L494.2 571 L495.7 569.6 L497.2 570.9 L498.7 573 L500.2 575.1 L501.7 577.2 L503.2 579.2 L504.7 581.1 L506.2 583 L507.7 584.8 L509.2 585 L510.7 582.8 L512.2 580.6 L513.7 578.4 L515.2 578.1 L516.7 579.8 L518.2 581.4 L519.7 583.1 L521.2 584.1 L522.7 582.1 L524.2 580.1 L525.7 578.1 L527.2 576.8 L528.7 575.9 L530.2 575.1 L531.7 574.2 L533.2 573.4 L534.7 573.5 L536.2 574.7 L537.7 575.8 L539.2 575.5 L540.8 574.4 L542.3 573.2 L543.8 574.4 L545.3 576.2 L546.8 578.1 L548.3 576.6 L549.8 574.6 L551.3 572.6 L552.8 570.6 L554.3 568.6 L555.8 566.6 L557.3 566.4 L558.8 569.1 L560.3 571.9 L561.8 574.6 L563.3 577.4 L564.8 580 L566.3 582.7 L567.8 585.4 L569.3 588 L570.8 587.4 L572.3 585.5 L573.8 583.6 L575.3 581.7 L576.8 580.4 L578.3 580 L579.8 579.6 L581.3 579.9 L582.8 580.8 L584.3 581.7 L585.8 582.6 L587.3 581.4 L588.8 579.9 L590.3 579.3 L591.8 579 L593.3 578.8 L594.8 578.5 L596.3 577 L597.8 573.3 L599.3 569.7 L600.8 566.1 L602.3 563.4 L603.8 560.9 L605.3 558.4 L606.8 555.9 L608.3 554.7 L609.8 555 L611.3 555.3 L612.8 555.6 L614.3 555.5 L615.8 555.3 L617.3 555.2 L618.8 555 L620.3 556 L621.8 558 L623.3 558.4 L624.8 555.8 L626.3 553.2 L627.8 550.7 L629.4 553.3 L630.9 555.9 L632.4 558.5 L633.9 558 L635.4 557 L636.9 557.4 L638.4 558.5 L639.9 559.6 L641.4 560.7 L642.9 561.7 L644.4 561 L645.9 559.2 L647.4 557.4 L648.9 555.7 L650.4 555.6 L651.9 556.8 L653.4 558.5 L654.9 563.4 L656.4 568.3 L657.9 573.6 L659.4 580.1 L660.9 585.6 L662.4 582.2 L663.9 578.8 L665.4 575.4 L666.9 574.2 L668.4 575.3 L669.9 576.5 L671.4 577.6 L672.9 578.8 L674.4 578.6 L675.9 576.7 L677.4 574.9 L678.9 573 L680.4 571.1 L681.9 569.2 L683.4 567.3 L684.9 565.4 L686.4 563.5 L687.9 561.6 L689.4 559.7 L690.9 561.8 L692.4 565.1 L693.9 568.3 L695.4 571.5 L696.9 572.8 L698.4 573.8 L699.9 574.8 L701.4 575.8 L702.9 577.7 L704.4 580.5 L705.9 583.2 L707.4 586 L708.9 587.7 L710.4 586 L711.9 584.2 L713.4 582.5 L714.9 580.7 L716.4 578.9 L717.9 577.2 L719.5 575.4 L721 573.6 L722.5 576.1 L724 578.6 L725.5 581.2 L727 583.7 L728.5 579.7 L730 575.4 L731.5 571.1 L733 566.8 L734.5 568 L736 569.7 L737.5 571.3 L739 572.9 L740.5 570.7 L742 568.6 L743.5 566.5 L745 564.3 L746.5 562.2 L748 563.9 L749.5 565.7 L751 567.5 L752.5 568.9 L754 569.6 L755.5 570.4 L757 570.5 L758.5 569.9 L760 569.3 L761.5 568.7 L763 569.9 L764.5 571.4 L766 572.9 L767.5 574.4 L769 575.9 L770.5 577.5 L772 579.2 L773.5 581 L775 582.8 L776.5 584.6 L778 586.3 L779.5 585.6 L781 583.2 L782.5 580.8 L784 578.3 L785.5 575.7 L787 573 L788.5 570.4 L790 567.8 L791.5 565.2 L793 565.8 L794.5 568 L796 570.3 L797.5 570.3 L799 569.8 L800.5 569.2 L802 568.7 L803.5 568.1 L805 567.5 L806.5 566.4 L808.1 565.3 L809.6 564.2 L811.1 563.1 L812.6 563.7 L814.1 565 L815.6 566.3 L817.1 567.5 L818.6 566.6 L820.1 565.7 L821.6 564.8 L823.1 564.9 L824.6 566.1 L826.1 567.4 L827.6 568.6 L829.1 569.7 L830.6 570.1 L832.1 570.5 L833.6 570.6 L835.1 569.8 L836.6 569 L838.1 568.2 L839.6 568.5 L841.1 569.4 L842.6 570.3 L844.1 571.2 L845.6 572.2 L847.1 573.4 L848.6 574.6 L850.1 575.8 L851.6 575.3 L853.1 574.1 L854.6 572.8 L856.1 571.6 L857.6 570.8 L859.1 570.8 L860.6 570.8 L862.1 570.8 L863.6 570.8 L865.1 570.5 L866.6 570.3 L868.1 570 L869.6 569.8 L871.1 570.3 L872.6 571.2 L874.1 572.1 L875.6 573 L877.1 573.4 L878.6 573 L880.1 572.6 L881.6 572.2 L883.1 571.9 L884.6 572.7 L886.1 573.4 L887.6 574.2 L889.1 574.9 L890.6 575.2 L892.1 575.4 L893.6 575.6 L895.1 575.7 L896.7 575.9 L898.2 576.1 L899.7 577 L901.2 580.5 L902.7 583.6 L904.2 580.3 L905.7 577 L907.2 573.7 L908.7 571.6 L910.2 571 L911.7 570.5 L913.2 569.9 L914.7 569.4 L916.2 568.8 L917.7 569.5 L919.2 570.8 L920.7 572.1 L922.2 573.3 L923.7 574.6 L925.2 575.1 L926.7 575.1 L928.2 575.1 L929.7 575.1 L931.2 575.1 L932.7 576.7 L934.2 579.4 L935.7 582.1 L937.2 584.8 L938.7 588.4 L940.2 592 L941.7 595.6 L943.2 593.7 L944.7 582 L946.2 570.3 L947.7 558.6 L949.2 563 L950.7 585.9 L952.2 600.8 L953.7 613.2 L955.2 623.3 L956.7 628.6 L958.2 633.8 L959.7 630.2 L961.2 614.5 L962.7 598.7 L964.2 588.2 L965.7 582.1 L967.2 577.7 L968.7 576.1 L970.2 574.4 L971.7 572.7 L973.2 571 L974.7 569.3 L976.2 569.4 L977.7 570.6 L979.2 571.9 L980.7 573.1 L982.2 574.1 L983.7 574.3 L985.3 574.5 L986.8 574.6 L988.3 574.8 L989.8 575 L991.3 575 L992.8 574.7 L994.3 574.5 L995.8 574.2 L997.3 573.6 L998.8 571.2 L1000.3 568.8 L1001.8 566.4 L1003.3 566.2 L1004.8 567.7 L1006.3 569.2 L1007.8 570.7 L1009.3 570.6 L1010.8 570.5 L1012.3 570.3 L1013.8 570.2 L1015.3 571.2 L1016.8 573 L1018.3 576.7 L1019.8 582.4 L1021.3 583.3 L1022.8 580.5 L1024.3 577.7 L1025.8 574.9 L1027.3 574.9 L1028.8 576.1 L1030.3 577.4 L1031.8 578.6 L1033.3 578.5 L1034.8 575.9 L1036.3 573.4 L1037.8 570.8 L1039.3 568.2 L1040.8 569 L1042.3 572.2 L1043.8 575.4 L1045.3 576.5 L1046.8 574.5 L1048.3 572.5 L1049.8 570.5 L1051.3 569.9 L1052.8 571.7 L1054.3 573.5 L1055.8 576.6 L1057.3 579.9 L1058.8 583 L1060.3 580 L1061.8 576.9 L1063.3 573.8 L1064.8 572.1 L1066.3 571 L1067.8 572.7 L1069.3 582.5 L1070.8 593.3 L1072.3 613.3 L1073.8 633.5 L1075.4 646.5 L1076.9 630.2 L1078.4 615.5 L1079.9 602.3 L1081.4 590.9 L1082.9 588.2 L1084.4 585.5 L1085.9 582.7 L1087.4 579.8 L1088.9 576.9 L1090.4 574 L1091.9 571.1 L1093.4 568.9 L1094.9 567.1 L1096.4 565.3 L1097.9 563.8 L1099.4 566.5 L1100.9 569.3 L1102.4 572.1 L1103.9 573.3 L1105.4 572.7 L1106.9 572 L1108.4 571.4 L1109.9 570.7 L1111.4 569.6 L1112.9 568.5 L1114.4 567.4 L1115.9 566.4 L1117.4 565.5 L1118.9 568.5 L1120.4 571.4 L1121.9 574.3 L1123.4 577.2 L1124.9 578.8 L1126.4 580 L1127.9 581.2 L1129.4 581.5 L1130.9 575.7 L1132.4 569.8 L1133.9 564.3 L1135.4 559.8 L1136.9 555.6 L1138.4 556 L1139.9 556.4 L1141.4 557.7 L1142.9 562.9 L1144.4 568.2 L1145.9 572.8 L1147.4 575.8 L1148.9 578.8 L1150.4 581.8 L1151.9 582.2 L1153.4 581.5 L1154.9 580.9 L1156.4 581.2 L1157.9 582.5 L1159.4 583.8 L1160.9 584.4 L1162.4 582.3 L1164 580.2 L1165.5 578.1 L1167 577.7 L1168.5 578.3 L1170 579 L1171.5 579.6 L1173 580.4 L1174.5 581.6 L1176 582.7 L1177.5 583.5 L1179 580.5 L1180.5 577.4 L1182 574.3 L1183.5 573 L1185 575.3 L1186.5 577.6 L1188 579.2 L1189.5 577.4 L1191 575.7 L1192.5 575.2 L1194 578 L1195.5 580.8 L1197 583.6 L1198.5 586.4 L1200 584.6 L1201.5 582.5 L1203 580.4 L1204.5 578.7 L1206 577 L1207.5 575.3" fill="none" stroke="#5f90bf" stroke-width="1.2" stroke-linejoin="round"/><path d="M139.8 624.3 L141.3 622.5 L142.8 620.6 L144.3 618.8 L145.8 617 L147.3 618.2 L148.8 619.5 L150.3 620.7 L151.8 622 L153.3 623.3 L154.8 623.8 L156.3 621.4 L157.8 619 L159.3 616.6 L160.8 614.2 L162.3 611.8 L163.8 610.3 L165.3 609.9 L166.8 609.5 L168.3 609.1 L169.8 608.3 L171.3 604.7 L172.8 601.1 L174.3 597.5 L175.8 597.4 L177.3 600.8 L178.8 604.1 L180.3 605.1 L181.8 604.4 L183.3 603.8 L184.9 603.1 L186.4 605 L187.9 613.3 L189.4 621.7 L190.9 630.1 L192.4 637.9 L193.9 645.6 L195.4 653.4 L196.9 660.7 L198.4 660.8 L199.9 660.9 L201.4 661 L202.9 661.1 L204.4 661.2 L205.9 661 L207.4 660.9 L208.9 660.7 L210.4 660.6 L211.9 660.4 L213.4 660.2 L214.9 659.7 L216.4 659.2 L217.9 658.7 L219.4 653.8 L220.9 646.3 L222.4 638.8 L223.9 640.8 L225.4 646.1 L226.9 651.3 L228.4 656.6 L229.9 659.5 L231.4 659.3 L232.9 659 L234.4 658.8 L235.9 658.5 L237.4 658 L238.9 657.5 L240.4 658.6 L241.9 659.8 L243.4 661 L244.9 661.6 L246.4 661.1 L247.9 660.5 L249.4 659.9 L250.9 659.4 L252.4 658.8 L253.9 659.1 L255.4 660.1 L256.9 660.5 L258.4 659.9 L259.9 659.3 L261.4 658.7 L262.9 658.1 L264.4 658.1 L265.9 658.1 L267.4 658.1 L268.9 658.1 L270.4 658.8 L271.9 659.8 L273.5 660.7 L275 661.7 L276.5 662.7 L278 663.6 L279.5 664.6 L281 664.3 L282.5 662.8 L284 661.3 L285.5 659.8 L287 658.4 L288.5 657.5 L290 656.6 L291.5 655.7 L293 654.8 L294.5 655.4 L296 656.3 L297.5 657.2 L299 658.1 L300.5 658.8 L302 659.3 L303.5 659.8 L305 660.3 L306.5 661 L308 662.5 L309.5 664 L311 665.5 L312.5 664.9 L314 662.6 L315.5 660.4 L317 660.1 L318.5 660.7 L320 661.3 L321.5 661.7 L323 659.7 L324.5 657.7 L326 655.7 L327.5 653.8 L329 655.3 L330.5 656.8 L332 658.3 L333.5 659.2 L335 660 L336.5 660.7 L338 651 L339.5 641 L341 632.6 L342.5 624.6 L344 620.7 L345.5 619.2 L347 617.7 L348.5 617.8 L350 618.3 L351.5 618.8 L353 619.3 L354.5 618.9 L356 617.5 L357.5 616.1 L359 614.7 L360.5 613.6 L362 615 L363.6 616.4 L365.1 617.8 L366.6 618 L368.1 617.2 L369.6 616.3 L371.1 615.5 L372.6 614.9 L374.1 615.8 L375.6 616.6 L377.1 617.5 L378.6 618.3 L380.1 619.7 L381.6 621.2 L383.1 622.7 L384.6 621.2 L386.1 619.6 L387.6 617.9 L389.1 616.3 L390.6 615.5 L392.1 615.3 L393.6 615 L395.1 614.8 L396.6 616.3 L398.1 617.8 L399.6 618.9 L401.1 617.6 L402.6 616.2 L404.1 614.8 L405.6 615.1 L407.1 617.1 L408.6 619 L410.1 621 L411.6 622.7 L413.1 621.5 L414.6 620.2 L416.1 619 L417.6 617.7 L419.1 619 L420.6 621.1 L422.1 623.3 L423.6 625.4 L425.1 627.5 L426.6 627.7 L428.1 626.9 L429.6 626.2 L431.1 625.4 L432.6 624.2 L434.1 622.1 L435.6 620 L437.1 617.9 L438.6 617.4 L440.1 617.5 L441.6 617.5 L443.1 617.6 L444.6 617.7 L446.1 617.7 L447.6 617.8 L449.1 618 L450.6 618.4 L452.2 618.8 L453.7 619.2 L455.2 619.2 L456.7 617.7 L458.2 616.2 L459.7 614.7 L461.2 614.1 L462.7 614.1 L464.2 614.1 L465.7 614.1 L467.2 614.1 L468.7 614.3 L470.2 614.7 L471.7 615 L473.2 615.4 L474.7 615.6 L476.2 615.6 L477.7 615.6 L479.2 615.6 L480.7 615.6 L482.2 615.6 L483.7 615.6 L485.2 616.4 L486.7 617.3 L488.2 618.3 L489.7 619.3 L491.2 620.3 L492.7 620.2 L494.2 619.6 L495.7 619 L497.2 618.4 L498.7 618.4 L500.2 619.4 L501.7 620.4 L503.2 621.4 L504.7 623.2 L506.2 625.4 L507.7 627.5 L509.2 629 L510.7 626.8 L512.2 624.5 L513.7 623.1 L515.2 624.3 L516.7 625.6 L518.2 626.8 L519.7 628.1 L521.2 627.2 L522.7 626.1 L524.2 625 L525.7 623.9 L527.2 622.9 L528.7 622.1 L530.2 621.2 L531.7 620.4 L533.2 619.5 L534.7 618.6 L536.2 618.6 L537.7 618.8 L539.2 619 L540.8 619.2 L542.3 619.4 L543.8 619.6 L545.3 620.7 L546.8 621.8 L548.3 622.6 L549.8 621.5 L551.3 620.4 L552.8 619.3 L554.3 618.1 L555.8 617 L557.3 616.8 L558.8 618 L560.3 619.3 L561.8 620.5 L563.3 621.8 L564.8 624.1 L566.3 626.3 L567.8 628.6 L569.3 630.8 L570.8 630.5 L572.3 629.1 L573.8 627.7 L575.3 626.4 L576.8 626.1 L578.3 625.8 L579.8 625.5 L581.3 625.2 L582.8 625 L584.3 626.3 L585.8 627.6 L587.3 628.4 L588.8 626.8 L590.3 625.2 L591.8 623.6 L593.3 622 L594.8 620.9 L596.3 619.9 L597.8 618.9 L599.3 617.9 L600.8 616.5 L602.3 614.7 L603.8 613 L605.3 611.2 L606.8 609.8 L608.3 610.1 L609.8 610.3 L611.3 610.6 L612.8 610.8 L614.3 610.7 L615.8 610.4 L617.3 610.2 L618.8 609.9 L620.3 610.4 L621.8 611.5 L623.3 612.6 L624.8 611.4 L626.3 608.8 L627.8 606.1 L629.4 606.8 L630.9 608.6 L632.4 610.4 L633.9 611.9 L635.4 611.5 L636.9 611.2 L638.4 611.1 L639.9 612.1 L641.4 613 L642.9 613.9 L644.4 614.9 L645.9 615.1 L647.4 612 L648.9 609 L650.4 607.4 L651.9 608.7 L653.4 610.1 L654.9 612.5 L656.4 616.2 L657.9 620 L659.4 624.9 L660.9 630 L662.4 625.9 L663.9 621.8 L665.4 617.7 L666.9 617.1 L668.4 620 L669.9 622.9 L671.4 625.8 L672.9 628 L674.4 626.3 L675.9 624.6 L677.4 623 L678.9 621.3 L680.4 619.7 L681.9 618.1 L683.4 616.6 L684.9 615.1 L686.4 613.5 L687.9 612 L689.4 610.5 L690.9 610.7 L692.4 612.4 L693.9 614.2 L695.4 615.9 L696.9 617.6 L698.4 619.1 L699.9 620.6 L701.4 622.1 L702.9 623.8 L704.4 625.5 L705.9 627.3 L707.4 629 L708.9 630.1 L710.4 628.8 L711.9 627.6 L713.4 626.3 L714.9 625.1 L716.4 623.8 L717.9 622.6 L719.5 621.3 L721 620.1 L722.5 620.7 L724 622.8 L725.5 625 L727 627.1 L728.5 624.2 L730 621.1 L731.5 618.1 L733 615 L734.5 615.9 L736 617.2 L737.5 618.5 L739 619.7 L740.5 620.2 L742 618.9 L743.5 617.5 L745 616.2 L746.5 614.8 L748 615.8 L749.5 617 L751 618.1 L752.5 619.2 L754 619.3 L755.5 618.9 L757 618.6 L758.5 618.2 L760 617.8 L761.5 617.4 L763 617.9 L764.5 618.4 L766 619 L767.5 619.6 L769 620.1 L770.5 620.9 L772 623.4 L773.5 625.8 L775 628.3 L776.5 630.8 L778 631.1 L779.5 629.1 L781 627.1 L782.5 625 L784 623.3 L785.5 621.8 L787 620.4 L788.5 619 L790 617.5 L791.5 616.1 L793 616.5 L794.5 617.9 L796 619.2 L797.5 618.9 L799 618.2 L800.5 617.4 L802 616.6 L803.5 615.9 L805 615.3 L806.5 614.8 L808.1 614.2 L809.6 613.7 L811.1 613.2 L812.6 613.9 L814.1 615.1 L815.6 616.3 L817.1 617.3 L818.6 616.4 L820.1 615.5 L821.6 614.6 L823.1 614.7 L824.6 615.8 L826.1 617 L827.6 618.1 L829.1 619.3 L830.6 619.7 L832.1 619.1 L833.6 618.5 L835.1 617.9 L836.6 617.3 L838.1 616.9 L839.6 616.6 L841.1 616.3 L842.6 616.1 L844.1 615.8 L845.6 616.3 L847.1 618.6 L848.6 620.9 L850.1 623.2 L851.6 623 L853.1 621.8 L854.6 620.5 L856.1 619.3 L857.6 618.4 L859.1 618.1 L860.6 617.9 L862.1 617.6 L863.6 617.4 L865.1 617 L866.6 616.6 L868.1 616.2 L869.6 615.8 L871.1 616.8 L872.6 618.5 L874.1 620.2 L875.6 621.7 L877.1 621.2 L878.6 620.8 L880.1 620.4 L881.6 620 L883.1 619.6 L884.6 620.1 L886.1 620.6 L887.6 621.1 L889.1 621.6 L890.6 622.5 L892.1 623.5 L893.6 624.6 L895.1 625.6 L896.7 626.7 L898.2 627.7 L899.7 628.8 L901.2 628.3 L902.7 626.4 L904.2 624.5 L905.7 622.5 L907.2 620.6 L908.7 619.2 L910.2 618.6 L911.7 617.9 L913.2 617.2 L914.7 616.5 L916.2 615.9 L917.7 616.2 L919.2 616.9 L920.7 617.7 L922.2 618.5 L923.7 619.3 L925.2 619.5 L926.7 619.4 L928.2 619.3 L929.7 619.2 L931.2 619.6 L932.7 621.2 L934.2 622.8 L935.7 624.4 L937.2 626 L938.7 629 L940.2 632 L941.7 635 L943.2 633.5 L944.7 624 L946.2 614.6 L947.7 605.1 L949.2 610.1 L950.7 631.7 L952.2 643.6 L953.7 652.4 L955.2 659.6 L956.7 662.8 L958.2 666.1 L959.7 669.4 L961.2 663.3 L962.7 657.1 L964.2 652.3 L965.7 648.8 L967.2 646.4 L968.7 645.6 L970.2 644.9 L971.7 644.1 L973.2 643.3 L974.7 642.2 L976.2 641.1 L977.7 640.3 L979.2 641.5 L980.7 642.6 L982.2 643.8 L983.7 644.9 L985.3 645.2 L986.8 645.3 L988.3 645.4 L989.8 645.5 L991.3 645.3 L992.8 644.8 L994.3 644.3 L995.8 643.8 L997.3 643.2 L998.8 642 L1000.3 640.8 L1001.8 639.6 L1003.3 639.4 L1004.8 640 L1006.3 640.6 L1007.8 641.2 L1009.3 641.2 L1010.8 641.2 L1012.3 641.2 L1013.8 641.2 L1015.3 642.4 L1016.8 644.3 L1018.3 646.1 L1019.8 647.6 L1021.3 648.8 L1022.8 650.1 L1024.3 649.1 L1025.8 647.7 L1027.3 646.2 L1028.8 645 L1030.3 644.7 L1031.8 644.6 L1033.3 646.3 L1034.8 648 L1036.3 645.6 L1037.8 642.8 L1039.3 639.9 L1040.8 638.7 L1042.3 641.2 L1043.8 643.7 L1045.3 644.7 L1046.8 643.7 L1048.3 642.8 L1049.8 642.5 L1051.3 642.8 L1052.8 643.1 L1054.3 643.4 L1055.8 643 L1057.3 642.7 L1058.8 642.1 L1060.3 635.6 L1061.8 629.1 L1063.3 631.5 L1064.8 636.1 L1066.3 646.1 L1067.8 656.1 L1069.3 666.4 L1070.8 676.9 L1072.3 687.4 L1073.8 696 L1075.4 691 L1076.9 673.5 L1078.4 662.9 L1079.9 654.4 L1081.4 650 L1082.9 648.4 L1084.4 646.8 L1085.9 645.1 L1087.4 644.5 L1088.9 643.8 L1090.4 643.2 L1091.9 642.5 L1093.4 641.5 L1094.9 640.2 L1096.4 639 L1097.9 637.7 L1099.4 637.3 L1100.9 638.8 L1102.4 640.2 L1103.9 641.6 L1105.4 643 L1106.9 643 L1108.4 643 L1109.9 643 L1111.4 643 L1112.9 642.2 L1114.4 641.2 L1115.9 640.1 L1117.4 639 L1118.9 639.9 L1120.4 642 L1121.9 644 L1123.4 646.1 L1124.9 647.3 L1126.4 648.2 L1127.9 649.1 L1129.4 649.2 L1130.9 644 L1132.4 638.7 L1133.9 632.8 L1135.4 624.8 L1136.9 617.1 L1138.4 613 L1139.9 609.9 L1141.4 610.5 L1142.9 612.5 L1144.4 615.8 L1145.9 619.2 L1147.4 621.9 L1148.9 624.2 L1150.4 626.4 L1151.9 626.6 L1153.4 625.8 L1154.9 625 L1156.4 624.5 L1157.9 626.6 L1159.4 628.7 L1160.9 629.8 L1162.4 626.8 L1164 623.8 L1165.5 621.9 L1167 622.7 L1168.5 623.4 L1170 624.2 L1171.5 625 L1173 625.7 L1174.5 626.5 L1176 627.3 L1177.5 627 L1179 625.1 L1180.5 623.1 L1182 621.1 L1183.5 620.9 L1185 621.2 L1186.5 621.5 L1188 621.6 L1189.5 621 L1191 620.4 L1192.5 620.5 L1194 622.5 L1195.5 624.4 L1197 625.5 L1198.5 625.1 L1200 624.7 L1201.5 624.3 L1203 623.8 L1204.5 622.6 L1206 621.4 L1207.5 620.1 L1207.5 713.7 L139.8 713.7Z" fill="#6584a8"/><path d="M139.8 624.3 L141.3 622.5 L142.8 620.6 L144.3 618.8 L145.8 617 L147.3 618.2 L148.8 619.5 L150.3 620.7 L151.8 622 L153.3 623.3 L154.8 623.8 L156.3 621.4 L157.8 619 L159.3 616.6 L160.8 614.2 L162.3 611.8 L163.8 610.3 L165.3 609.9 L166.8 609.5 L168.3 609.1 L169.8 608.3 L171.3 604.7 L172.8 601.1 L174.3 597.5 L175.8 597.4 L177.3 600.8 L178.8 604.1 L180.3 605.1 L181.8 604.4 L183.3 603.8 L184.9 603.1 L186.4 605 L187.9 613.3 L189.4 621.7 L190.9 630.1 L192.4 637.9 L193.9 645.6 L195.4 653.4 L196.9 660.7 L198.4 660.8 L199.9 660.9 L201.4 661 L202.9 661.1 L204.4 661.2 L205.9 661 L207.4 660.9 L208.9 660.7 L210.4 660.6 L211.9 660.4 L213.4 660.2 L214.9 659.7 L216.4 659.2 L217.9 658.7 L219.4 653.8 L220.9 646.3 L222.4 638.8 L223.9 640.8 L225.4 646.1 L226.9 651.3 L228.4 656.6 L229.9 659.5 L231.4 659.3 L232.9 659 L234.4 658.8 L235.9 658.5 L237.4 658 L238.9 657.5 L240.4 658.6 L241.9 659.8 L243.4 661 L244.9 661.6 L246.4 661.1 L247.9 660.5 L249.4 659.9 L250.9 659.4 L252.4 658.8 L253.9 659.1 L255.4 660.1 L256.9 660.5 L258.4 659.9 L259.9 659.3 L261.4 658.7 L262.9 658.1 L264.4 658.1 L265.9 658.1 L267.4 658.1 L268.9 658.1 L270.4 658.8 L271.9 659.8 L273.5 660.7 L275 661.7 L276.5 662.7 L278 663.6 L279.5 664.6 L281 664.3 L282.5 662.8 L284 661.3 L285.5 659.8 L287 658.4 L288.5 657.5 L290 656.6 L291.5 655.7 L293 654.8 L294.5 655.4 L296 656.3 L297.5 657.2 L299 658.1 L300.5 658.8 L302 659.3 L303.5 659.8 L305 660.3 L306.5 661 L308 662.5 L309.5 664 L311 665.5 L312.5 664.9 L314 662.6 L315.5 660.4 L317 660.1 L318.5 660.7 L320 661.3 L321.5 661.7 L323 659.7 L324.5 657.7 L326 655.7 L327.5 653.8 L329 655.3 L330.5 656.8 L332 658.3 L333.5 659.2 L335 660 L336.5 660.7 L338 651 L339.5 641 L341 632.6 L342.5 624.6 L344 620.7 L345.5 619.2 L347 617.7 L348.5 617.8 L350 618.3 L351.5 618.8 L353 619.3 L354.5 618.9 L356 617.5 L357.5 616.1 L359 614.7 L360.5 613.6 L362 615 L363.6 616.4 L365.1 617.8 L366.6 618 L368.1 617.2 L369.6 616.3 L371.1 615.5 L372.6 614.9 L374.1 615.8 L375.6 616.6 L377.1 617.5 L378.6 618.3 L380.1 619.7 L381.6 621.2 L383.1 622.7 L384.6 621.2 L386.1 619.6 L387.6 617.9 L389.1 616.3 L390.6 615.5 L392.1 615.3 L393.6 615 L395.1 614.8 L396.6 616.3 L398.1 617.8 L399.6 618.9 L401.1 617.6 L402.6 616.2 L404.1 614.8 L405.6 615.1 L407.1 617.1 L408.6 619 L410.1 621 L411.6 622.7 L413.1 621.5 L414.6 620.2 L416.1 619 L417.6 617.7 L419.1 619 L420.6 621.1 L422.1 623.3 L423.6 625.4 L425.1 627.5 L426.6 627.7 L428.1 626.9 L429.6 626.2 L431.1 625.4 L432.6 624.2 L434.1 622.1 L435.6 620 L437.1 617.9 L438.6 617.4 L440.1 617.5 L441.6 617.5 L443.1 617.6 L444.6 617.7 L446.1 617.7 L447.6 617.8 L449.1 618 L450.6 618.4 L452.2 618.8 L453.7 619.2 L455.2 619.2 L456.7 617.7 L458.2 616.2 L459.7 614.7 L461.2 614.1 L462.7 614.1 L464.2 614.1 L465.7 614.1 L467.2 614.1 L468.7 614.3 L470.2 614.7 L471.7 615 L473.2 615.4 L474.7 615.6 L476.2 615.6 L477.7 615.6 L479.2 615.6 L480.7 615.6 L482.2 615.6 L483.7 615.6 L485.2 616.4 L486.7 617.3 L488.2 618.3 L489.7 619.3 L491.2 620.3 L492.7 620.2 L494.2 619.6 L495.7 619 L497.2 618.4 L498.7 618.4 L500.2 619.4 L501.7 620.4 L503.2 621.4 L504.7 623.2 L506.2 625.4 L507.7 627.5 L509.2 629 L510.7 626.8 L512.2 624.5 L513.7 623.1 L515.2 624.3 L516.7 625.6 L518.2 626.8 L519.7 628.1 L521.2 627.2 L522.7 626.1 L524.2 625 L525.7 623.9 L527.2 622.9 L528.7 622.1 L530.2 621.2 L531.7 620.4 L533.2 619.5 L534.7 618.6 L536.2 618.6 L537.7 618.8 L539.2 619 L540.8 619.2 L542.3 619.4 L543.8 619.6 L545.3 620.7 L546.8 621.8 L548.3 622.6 L549.8 621.5 L551.3 620.4 L552.8 619.3 L554.3 618.1 L555.8 617 L557.3 616.8 L558.8 618 L560.3 619.3 L561.8 620.5 L563.3 621.8 L564.8 624.1 L566.3 626.3 L567.8 628.6 L569.3 630.8 L570.8 630.5 L572.3 629.1 L573.8 627.7 L575.3 626.4 L576.8 626.1 L578.3 625.8 L579.8 625.5 L581.3 625.2 L582.8 625 L584.3 626.3 L585.8 627.6 L587.3 628.4 L588.8 626.8 L590.3 625.2 L591.8 623.6 L593.3 622 L594.8 620.9 L596.3 619.9 L597.8 618.9 L599.3 617.9 L600.8 616.5 L602.3 614.7 L603.8 613 L605.3 611.2 L606.8 609.8 L608.3 610.1 L609.8 610.3 L611.3 610.6 L612.8 610.8 L614.3 610.7 L615.8 610.4 L617.3 610.2 L618.8 609.9 L620.3 610.4 L621.8 611.5 L623.3 612.6 L624.8 611.4 L626.3 608.8 L627.8 606.1 L629.4 606.8 L630.9 608.6 L632.4 610.4 L633.9 611.9 L635.4 611.5 L636.9 611.2 L638.4 611.1 L639.9 612.1 L641.4 613 L642.9 613.9 L644.4 614.9 L645.9 615.1 L647.4 612 L648.9 609 L650.4 607.4 L651.9 608.7 L653.4 610.1 L654.9 612.5 L656.4 616.2 L657.9 620 L659.4 624.9 L660.9 630 L662.4 625.9 L663.9 621.8 L665.4 617.7 L666.9 617.1 L668.4 620 L669.9 622.9 L671.4 625.8 L672.9 628 L674.4 626.3 L675.9 624.6 L677.4 623 L678.9 621.3 L680.4 619.7 L681.9 618.1 L683.4 616.6 L684.9 615.1 L686.4 613.5 L687.9 612 L689.4 610.5 L690.9 610.7 L692.4 612.4 L693.9 614.2 L695.4 615.9 L696.9 617.6 L698.4 619.1 L699.9 620.6 L701.4 622.1 L702.9 623.8 L704.4 625.5 L705.9 627.3 L707.4 629 L708.9 630.1 L710.4 628.8 L711.9 627.6 L713.4 626.3 L714.9 625.1 L716.4 623.8 L717.9 622.6 L719.5 621.3 L721 620.1 L722.5 620.7 L724 622.8 L725.5 625 L727 627.1 L728.5 624.2 L730 621.1 L731.5 618.1 L733 615 L734.5 615.9 L736 617.2 L737.5 618.5 L739 619.7 L740.5 620.2 L742 618.9 L743.5 617.5 L745 616.2 L746.5 614.8 L748 615.8 L749.5 617 L751 618.1 L752.5 619.2 L754 619.3 L755.5 618.9 L757 618.6 L758.5 618.2 L760 617.8 L761.5 617.4 L763 617.9 L764.5 618.4 L766 619 L767.5 619.6 L769 620.1 L770.5 620.9 L772 623.4 L773.5 625.8 L775 628.3 L776.5 630.8 L778 631.1 L779.5 629.1 L781 627.1 L782.5 625 L784 623.3 L785.5 621.8 L787 620.4 L788.5 619 L790 617.5 L791.5 616.1 L793 616.5 L794.5 617.9 L796 619.2 L797.5 618.9 L799 618.2 L800.5 617.4 L802 616.6 L803.5 615.9 L805 615.3 L806.5 614.8 L808.1 614.2 L809.6 613.7 L811.1 613.2 L812.6 613.9 L814.1 615.1 L815.6 616.3 L817.1 617.3 L818.6 616.4 L820.1 615.5 L821.6 614.6 L823.1 614.7 L824.6 615.8 L826.1 617 L827.6 618.1 L829.1 619.3 L830.6 619.7 L832.1 619.1 L833.6 618.5 L835.1 617.9 L836.6 617.3 L838.1 616.9 L839.6 616.6 L841.1 616.3 L842.6 616.1 L844.1 615.8 L845.6 616.3 L847.1 618.6 L848.6 620.9 L850.1 623.2 L851.6 623 L853.1 621.8 L854.6 620.5 L856.1 619.3 L857.6 618.4 L859.1 618.1 L860.6 617.9 L862.1 617.6 L863.6 617.4 L865.1 617 L866.6 616.6 L868.1 616.2 L869.6 615.8 L871.1 616.8 L872.6 618.5 L874.1 620.2 L875.6 621.7 L877.1 621.2 L878.6 620.8 L880.1 620.4 L881.6 620 L883.1 619.6 L884.6 620.1 L886.1 620.6 L887.6 621.1 L889.1 621.6 L890.6 622.5 L892.1 623.5 L893.6 624.6 L895.1 625.6 L896.7 626.7 L898.2 627.7 L899.7 628.8 L901.2 628.3 L902.7 626.4 L904.2 624.5 L905.7 622.5 L907.2 620.6 L908.7 619.2 L910.2 618.6 L911.7 617.9 L913.2 617.2 L914.7 616.5 L916.2 615.9 L917.7 616.2 L919.2 616.9 L920.7 617.7 L922.2 618.5 L923.7 619.3 L925.2 619.5 L926.7 619.4 L928.2 619.3 L929.7 619.2 L931.2 619.6 L932.7 621.2 L934.2 622.8 L935.7 624.4 L937.2 626 L938.7 629 L940.2 632 L941.7 635 L943.2 633.5 L944.7 624 L946.2 614.6 L947.7 605.1 L949.2 610.1 L950.7 631.7 L952.2 643.6 L953.7 652.4 L955.2 659.6 L956.7 662.8 L958.2 666.1 L959.7 669.4 L961.2 663.3 L962.7 657.1 L964.2 652.3 L965.7 648.8 L967.2 646.4 L968.7 645.6 L970.2 644.9 L971.7 644.1 L973.2 643.3 L974.7 642.2 L976.2 641.1 L977.7 640.3 L979.2 641.5 L980.7 642.6 L982.2 643.8 L983.7 644.9 L985.3 645.2 L986.8 645.3 L988.3 645.4 L989.8 645.5 L991.3 645.3 L992.8 644.8 L994.3 644.3 L995.8 643.8 L997.3 643.2 L998.8 642 L1000.3 640.8 L1001.8 639.6 L1003.3 639.4 L1004.8 640 L1006.3 640.6 L1007.8 641.2 L1009.3 641.2 L1010.8 641.2 L1012.3 641.2 L1013.8 641.2 L1015.3 642.4 L1016.8 644.3 L1018.3 646.1 L1019.8 647.6 L1021.3 648.8 L1022.8 650.1 L1024.3 649.1 L1025.8 647.7 L1027.3 646.2 L1028.8 645 L1030.3 644.7 L1031.8 644.6 L1033.3 646.3 L1034.8 648 L1036.3 645.6 L1037.8 642.8 L1039.3 639.9 L1040.8 638.7 L1042.3 641.2 L1043.8 643.7 L1045.3 644.7 L1046.8 643.7 L1048.3 642.8 L1049.8 642.5 L1051.3 642.8 L1052.8 643.1 L1054.3 643.4 L1055.8 643 L1057.3 642.7 L1058.8 642.1 L1060.3 635.6 L1061.8 629.1 L1063.3 631.5 L1064.8 636.1 L1066.3 646.1 L1067.8 656.1 L1069.3 666.4 L1070.8 676.9 L1072.3 687.4 L1073.8 696 L1075.4 691 L1076.9 673.5 L1078.4 662.9 L1079.9 654.4 L1081.4 650 L1082.9 648.4 L1084.4 646.8 L1085.9 645.1 L1087.4 644.5 L1088.9 643.8 L1090.4 643.2 L1091.9 642.5 L1093.4 641.5 L1094.9 640.2 L1096.4 639 L1097.9 637.7 L1099.4 637.3 L1100.9 638.8 L1102.4 640.2 L1103.9 641.6 L1105.4 643 L1106.9 643 L1108.4 643 L1109.9 643 L1111.4 643 L1112.9 642.2 L1114.4 641.2 L1115.9 640.1 L1117.4 639 L1118.9 639.9 L1120.4 642 L1121.9 644 L1123.4 646.1 L1124.9 647.3 L1126.4 648.2 L1127.9 649.1 L1129.4 649.2 L1130.9 644 L1132.4 638.7 L1133.9 632.8 L1135.4 624.8 L1136.9 617.1 L1138.4 613 L1139.9 609.9 L1141.4 610.5 L1142.9 612.5 L1144.4 615.8 L1145.9 619.2 L1147.4 621.9 L1148.9 624.2 L1150.4 626.4 L1151.9 626.6 L1153.4 625.8 L1154.9 625 L1156.4 624.5 L1157.9 626.6 L1159.4 628.7 L1160.9 629.8 L1162.4 626.8 L1164 623.8 L1165.5 621.9 L1167 622.7 L1168.5 623.4 L1170 624.2 L1171.5 625 L1173 625.7 L1174.5 626.5 L1176 627.3 L1177.5 627 L1179 625.1 L1180.5 623.1 L1182 621.1 L1183.5 620.9 L1185 621.2 L1186.5 621.5 L1188 621.6 L1189.5 621 L1191 620.4 L1192.5 620.5 L1194 622.5 L1195.5 624.4 L1197 625.5 L1198.5 625.1 L1200 624.7 L1201.5 624.3 L1203 623.8 L1204.5 622.6 L1206 621.4 L1207.5 620.1" fill="none" stroke="#8ab3dd" stroke-width="1.3" stroke-linejoin="round"/><path d="M139.8 668.3 L141.3 667 L142.8 665.7 L144.3 664.4 L145.8 664.4 L147.3 665.1 L148.8 665.8 L150.3 666.4 L151.8 667.1 L153.3 667.8 L154.8 668.1 L156.3 667 L157.8 665.9 L159.3 664.9 L160.8 663.8 L162.3 662.9 L163.8 662.6 L165.3 662.4 L166.8 662.2 L168.3 662 L169.8 661.6 L171.3 660.1 L172.8 658.5 L174.3 656.9 L175.8 658 L177.3 659.3 L178.8 660.6 L180.3 660.4 L181.8 659.2 L183.3 658 L184.9 656.8 L186.4 658.9 L187.9 660.9 L189.4 662.9 L190.9 665 L192.4 664 L193.9 662.9 L195.4 661.8 L196.9 660.7 L198.4 660.8 L199.9 660.9 L201.4 661 L202.9 661.1 L204.4 661.2 L205.9 661 L207.4 660.9 L208.9 660.7 L210.4 660.6 L211.9 660.4 L213.4 660.3 L214.9 660.6 L216.4 660.8 L217.9 661 L219.4 661.3 L220.9 661.5 L222.4 661.7 L223.9 670.4 L225.4 681.9 L226.9 691.7 L228.4 700.4 L229.9 709 L231.4 712.2 L232.9 712.9 L234.4 713.7 L235.9 713.7 L237.4 713.7 L238.9 713.7 L240.4 713.7 L241.9 713.7 L243.4 713.7 L244.9 713.7 L246.4 713.7 L247.9 713.7 L249.4 713.7 L250.9 713.7 L252.4 713.7 L253.9 713.7 L255.4 713.7 L256.9 713.7 L258.4 713.7 L259.9 713.7 L261.4 713.7 L262.9 713.7 L264.4 713.7 L265.9 713.7 L267.4 713.7 L268.9 713.7 L270.4 713.7 L271.9 713.7 L273.5 713.7 L275 713.7 L276.5 713.7 L278 713.7 L279.5 713.7 L281 713.7 L282.5 713.7 L284 713.7 L285.5 713.7 L287 713.7 L288.5 713.7 L290 713.7 L291.5 713.7 L293 713.7 L294.5 713.7 L296 713.7 L297.5 713.7 L299 713.7 L300.5 713.7 L302 713.7 L303.5 713.7 L305 713.7 L306.5 713.7 L308 713.7 L309.5 713.7 L311 713.7 L312.5 713.7 L314 713.7 L315.5 713.7 L317 713.7 L318.5 713.7 L320 713.7 L321.5 713.7 L323 713.7 L324.5 713.7 L326 713.7 L327.5 713.7 L329 713.7 L330.5 713.7 L332 713.7 L333.5 713.7 L335 713.7 L336.5 707.9 L338 699.4 L339.5 690.1 L341 680.1 L342.5 670.1 L344 667.8 L345.5 666.1 L347 664.4 L348.5 664.7 L350 665.7 L351.5 666.7 L353 667.7 L354.5 668.2 L356 667.8 L357.5 667.5 L359 667.1 L360.5 666.8 L362 666.9 L363.6 667 L365.1 667.1 L366.6 667.2 L368.1 666.6 L369.6 665.7 L371.1 664.9 L372.6 664 L374.1 663.5 L375.6 663.5 L377.1 663.5 L378.6 663.5 L380.1 664.7 L381.6 666.2 L383.1 667.6 L384.6 666.6 L386.1 665.4 L387.6 664.3 L389.1 663.7 L390.6 664.3 L392.1 664.9 L393.6 665.5 L395.1 666.1 L396.6 666 L398.1 665.8 L399.6 665.6 L401.1 665.5 L402.6 665.3 L404.1 665.1 L405.6 665.9 L407.1 667.5 L408.6 669.2 L410.1 670.8 L411.6 669.6 L413.1 667.7 L414.6 665.8 L416.1 663.9 L417.6 663.1 L419.1 663.6 L420.6 664.7 L422.1 667.1 L423.6 669.5 L425.1 671.9 L426.6 672.1 L428.1 671.4 L429.6 670.6 L431.1 670.1 L432.6 669.7 L434.1 669.3 L435.6 668.8 L437.1 668.4 L438.6 668.2 L440.1 667.9 L441.6 667.7 L443.1 667.5 L444.6 667.3 L446.1 667.1 L447.6 666.9 L449.1 666.7 L450.6 666.6 L452.2 666.5 L453.7 666.3 L455.2 666.2 L456.7 665.7 L458.2 664.8 L459.7 663.9 L461.2 663.6 L462.7 663.8 L464.2 664 L465.7 664.1 L467.2 664.3 L468.7 664.5 L470.2 664.7 L471.7 665.1 L473.2 665.6 L474.7 666 L476.2 666.5 L477.7 666.9 L479.2 667.1 L480.7 666.7 L482.2 666.4 L483.7 666 L485.2 665.6 L486.7 665.2 L488.2 665.2 L489.7 665.4 L491.2 665.5 L492.7 665.7 L494.2 665.9 L495.7 666.1 L497.2 666.1 L498.7 666.1 L500.2 666.1 L501.7 666.5 L503.2 668.3 L504.7 670.1 L506.2 671.9 L507.7 671.9 L509.2 670.5 L510.7 669.1 L512.2 667.7 L513.7 668.4 L515.2 669.2 L516.7 670 L518.2 670.4 L519.7 670.1 L521.2 669.8 L522.7 669.5 L524.2 669.2 L525.7 668.8 L527.2 668.2 L528.7 667.7 L530.2 667.1 L531.7 666.6 L533.2 666.2 L534.7 666.5 L536.2 666.8 L537.7 667.1 L539.2 666.4 L540.8 665.1 L542.3 664.2 L543.8 665.5 L545.3 666.8 L546.8 668.1 L548.3 667.9 L549.8 667.5 L551.3 667.1 L552.8 666.6 L554.3 665.7 L555.8 664.8 L557.3 663.9 L558.8 664.2 L560.3 665.3 L561.8 666.4 L563.3 667.5 L564.8 668.5 L566.3 669.5 L567.8 670.3 L569.3 671.2 L570.8 672 L572.3 672.6 L573.8 672.4 L575.3 672.1 L576.8 671.5 L578.3 670.3 L579.8 669.1 L581.3 667.9 L582.8 668.5 L584.3 669.5 L585.8 670.6 L587.3 670.5 L588.8 669 L590.3 667.6 L591.8 666.1 L593.3 665.6 L594.8 665.7 L596.3 665.8 L597.8 665.9 L599.3 666.1 L600.8 665.7 L602.3 664.8 L603.8 664 L605.3 663.1 L606.8 662.3 L608.3 662 L609.8 662.4 L611.3 662.8 L612.8 663.3 L614.3 663.1 L615.8 662.8 L617.3 662.6 L618.8 662.3 L620.3 662.1 L621.8 661.8 L623.3 661.2 L624.8 660.6 L626.3 660 L627.8 660.3 L629.4 661.7 L630.9 663 L632.4 664.4 L633.9 664.2 L635.4 663.7 L636.9 663.2 L638.4 662.7 L639.9 662.6 L641.4 662.9 L642.9 663.2 L644.4 662.9 L645.9 662.3 L647.4 661.7 L648.9 661.2 L650.4 661.3 L651.9 661.5 L653.4 661.6 L654.9 661.8 L656.4 664.2 L657.9 667.7 L659.4 671.2 L660.9 672.4 L662.4 670.2 L663.9 668 L665.4 665.8 L666.9 665.4 L668.4 667 L669.9 668.6 L671.4 670.2 L672.9 671.7 L674.4 672 L675.9 670.5 L677.4 669.1 L678.9 667.6 L680.4 666.1 L681.9 664.9 L683.4 664.5 L684.9 664 L686.4 663.6 L687.9 663.1 L689.4 662.7 L690.9 662.6 L692.4 663 L693.9 663.3 L695.4 663.7 L696.9 664.1 L698.4 665.2 L699.9 666.2 L701.4 667.2 L702.9 668.4 L704.4 669.8 L705.9 671.2 L707.4 672.6 L708.9 673.5 L710.4 672.5 L711.9 671.5 L713.4 670.5 L714.9 669.5 L716.4 669 L717.9 668.6 L719.5 668.2 L721 667.8 L722.5 667.9 L724 668.4 L725.5 668.9 L727 669.4 L728.5 668 L730 666.6 L731.5 665.2 L733 663.8 L734.5 664.2 L736 665.6 L737.5 667 L739 668.4 L740.5 669.5 L742 669.9 L743.5 670.3 L745 669.7 L746.5 667.8 L748 665.9 L749.5 665.5 L751 666.2 L752.5 667 L754 667.7 L755.5 668.2 L757 667.8 L758.5 667.4 L760 666.9 L761.5 666.5 L763 666.1 L764.5 666.1 L766 666.1 L767.5 666.1 L769 666.1 L770.5 666.3 L772 667.6 L773.5 669 L775 670.3 L776.5 671.7 L778 671.2 L779.5 670.2 L781 669.2 L782.5 668.2 L784 667.9 L785.5 668.3 L787 668.8 L788.5 668.4 L790 667.3 L791.5 666.2 L793 665.1 L794.5 665.2 L796 665.3 L797.5 665.4 L799 665.3 L800.5 664.7 L802 664.1 L803.5 663.5 L805 662.9 L806.5 663.2 L808.1 663.5 L809.6 663.8 L811.1 664.1 L812.6 664.4 L814.1 664.7 L815.6 664.9 L817.1 665.2 L818.6 665.5 L820.1 665.7 L821.6 666 L823.1 666.4 L824.6 667 L826.1 667.5 L827.6 668.1 L829.1 668.6 L830.6 668.6 L832.1 667.6 L833.6 666.6 L835.1 665.6 L836.6 664.6 L838.1 664.2 L839.6 664.7 L841.1 665.2 L842.6 665.7 L844.1 666.2 L845.6 667.2 L847.1 668.2 L848.6 669.2 L850.1 670.2 L851.6 669.4 L853.1 667.9 L854.6 666.4 L856.1 665.1 L857.6 666 L859.1 666.9 L860.6 667.8 L862.1 667.9 L863.6 667 L865.1 666.1 L866.6 665.2 L868.1 665.5 L869.6 666 L871.1 666.4 L872.6 667.1 L874.1 668.4 L875.6 669.7 L877.1 670.2 L878.6 669.3 L880.1 668.5 L881.6 667.6 L883.1 666.8 L884.6 666.8 L886.1 666.8 L887.6 666.8 L889.1 666.8 L890.6 666.8 L892.1 666.8 L893.6 666.8 L895.1 666.8 L896.7 666.8 L898.2 666.8 L899.7 668.4 L901.2 670.1 L902.7 669.7 L904.2 668.7 L905.7 667.6 L907.2 666.8 L908.7 666.7 L910.2 666.5 L911.7 666.4 L913.2 666.3 L914.7 666.2 L916.2 666.2 L917.7 666.5 L919.2 666.8 L920.7 667 L922.2 667.3 L923.7 667.6 L925.2 667.5 L926.7 667.3 L928.2 667.1 L929.7 666.9 L931.2 667 L932.7 667.6 L934.2 668.2 L935.7 668.8 L937.2 669.4 L938.7 671.1 L940.2 672.9 L941.7 674.7 L943.2 673.4 L944.7 666.4 L946.2 659.5 L947.7 652.5 L949.2 660.9 L950.7 687.1 L952.2 700.6 L953.7 700.1 L955.2 699.6 L956.7 699.1 L958.2 699 L959.7 701.2 L961.2 703.5 L962.7 705.9 L964.2 708.6 L965.7 711.4 L967.2 713.2 L968.7 713.2 L970.2 713.2 L971.7 713.2 L973.2 713.2 L974.7 713.2 L976.2 713.2 L977.7 713.2 L979.2 713.2 L980.7 713.2 L982.2 713.2 L983.7 713.2 L985.3 713.2 L986.8 713.2 L988.3 713.2 L989.8 713 L991.3 712.8 L992.8 712.7 L994.3 712.5 L995.8 712.3 L997.3 712.1 L998.8 712 L1000.3 711.8 L1001.8 711.7 L1003.3 712 L1004.8 712.3 L1006.3 712.5 L1007.8 712.8 L1009.3 713 L1010.8 713.2 L1012.3 713.2 L1013.8 713.2 L1015.3 713.2 L1016.8 713.2 L1018.3 713.2 L1019.8 713.2 L1021.3 713.2 L1022.8 713.2 L1024.3 713.2 L1025.8 713.2 L1027.3 713.2 L1028.8 713.2 L1030.3 713.2 L1031.8 713.2 L1033.3 713.2 L1034.8 713.2 L1036.3 713.2 L1037.8 713.2 L1039.3 713.2 L1040.8 713.2 L1042.3 713.2 L1043.8 713.2 L1045.3 713.2 L1046.8 713.2 L1048.3 713.2 L1049.8 713.2 L1051.3 713.2 L1052.8 713.2 L1054.3 713.2 L1055.8 705.6 L1057.3 697.4 L1058.8 684.8 L1060.3 670.8 L1061.8 661.9 L1063.3 656.6 L1064.8 652.5 L1066.3 656 L1067.8 661.9 L1069.3 674.9 L1070.8 687.5 L1072.3 696 L1073.8 704.6 L1075.4 706.6 L1076.9 708.1 L1078.4 709.6 L1079.9 710.8 L1081.4 711.4 L1082.9 712 L1084.4 712.6 L1085.9 713.2 L1087.4 713 L1088.9 712.8 L1090.4 712.5 L1091.9 712.3 L1093.4 712.1 L1094.9 711.9 L1096.4 711.7 L1097.9 711.9 L1099.4 712.1 L1100.9 712.4 L1102.4 712.6 L1103.9 712.9 L1105.4 713.2 L1106.9 713.2 L1108.4 713.2 L1109.9 713.2 L1111.4 713.2 L1112.9 713.2 L1114.4 713.2 L1115.9 713.2 L1117.4 713.2 L1118.9 713.2 L1120.4 713.2 L1121.9 713.2 L1123.4 713.2 L1124.9 713.2 L1126.4 713.2 L1127.9 713.2 L1129.4 713.2 L1130.9 711.5 L1132.4 707.3 L1133.9 701.2 L1135.4 689.2 L1136.9 677.3 L1138.4 667.6 L1139.9 663.5 L1141.4 662.7 L1142.9 664.3 L1144.4 666.6 L1145.9 668.2 L1147.4 667.9 L1148.9 667.6 L1150.4 667.3 L1151.9 667 L1153.4 666.7 L1154.9 666.4 L1156.4 666.3 L1157.9 668.6 L1159.4 670.8 L1160.9 672.2 L1162.4 670.2 L1164 668.2 L1165.5 667 L1167 667.6 L1168.5 668.2 L1170 668.8 L1171.5 669.3 L1173 669.8 L1174.5 670.3 L1176 670.8 L1177.5 670.8 L1179 669.9 L1180.5 669 L1182 668.1 L1183.5 667.2 L1185 667.1 L1186.5 667 L1188 666.9 L1189.5 667.2 L1191 668.1 L1192.5 669.1 L1194 670 L1195.5 671 L1197 671.2 L1198.5 670.3 L1200 669.4 L1201.5 668.5 L1203 668 L1204.5 667.6 L1206 667.2 L1207.5 666.8 L1207.5 713.7 L139.8 713.7Z" fill="#9aa9b6"/><path d="M139.8 668.3 L141.3 667 L142.8 665.7 L144.3 664.4 L145.8 664.4 L147.3 665.1 L148.8 665.8 L150.3 666.4 L151.8 667.1 L153.3 667.8 L154.8 668.1 L156.3 667 L157.8 665.9 L159.3 664.9 L160.8 663.8 L162.3 662.9 L163.8 662.6 L165.3 662.4 L166.8 662.2 L168.3 662 L169.8 661.6 L171.3 660.1 L172.8 658.5 L174.3 656.9 L175.8 658 L177.3 659.3 L178.8 660.6 L180.3 660.4 L181.8 659.2 L183.3 658 L184.9 656.8 L186.4 658.9 L187.9 660.9 L189.4 662.9 L190.9 665 L192.4 664 L193.9 662.9 L195.4 661.8 L196.9 660.7 L198.4 660.8 L199.9 660.9 L201.4 661 L202.9 661.1 L204.4 661.2 L205.9 661 L207.4 660.9 L208.9 660.7 L210.4 660.6 L211.9 660.4 L213.4 660.3 L214.9 660.6 L216.4 660.8 L217.9 661 L219.4 661.3 L220.9 661.5 L222.4 661.7 L223.9 670.4 L225.4 681.9 L226.9 691.7 L228.4 700.4 L229.9 709 L231.4 712.2 L232.9 712.9 L234.4 713.7 L235.9 713.7 L237.4 713.7 L238.9 713.7 L240.4 713.7 L241.9 713.7 L243.4 713.7 L244.9 713.7 L246.4 713.7 L247.9 713.7 L249.4 713.7 L250.9 713.7 L252.4 713.7 L253.9 713.7 L255.4 713.7 L256.9 713.7 L258.4 713.7 L259.9 713.7 L261.4 713.7 L262.9 713.7 L264.4 713.7 L265.9 713.7 L267.4 713.7 L268.9 713.7 L270.4 713.7 L271.9 713.7 L273.5 713.7 L275 713.7 L276.5 713.7 L278 713.7 L279.5 713.7 L281 713.7 L282.5 713.7 L284 713.7 L285.5 713.7 L287 713.7 L288.5 713.7 L290 713.7 L291.5 713.7 L293 713.7 L294.5 713.7 L296 713.7 L297.5 713.7 L299 713.7 L300.5 713.7 L302 713.7 L303.5 713.7 L305 713.7 L306.5 713.7 L308 713.7 L309.5 713.7 L311 713.7 L312.5 713.7 L314 713.7 L315.5 713.7 L317 713.7 L318.5 713.7 L320 713.7 L321.5 713.7 L323 713.7 L324.5 713.7 L326 713.7 L327.5 713.7 L329 713.7 L330.5 713.7 L332 713.7 L333.5 713.7 L335 713.7 L336.5 707.9 L338 699.4 L339.5 690.1 L341 680.1 L342.5 670.1 L344 667.8 L345.5 666.1 L347 664.4 L348.5 664.7 L350 665.7 L351.5 666.7 L353 667.7 L354.5 668.2 L356 667.8 L357.5 667.5 L359 667.1 L360.5 666.8 L362 666.9 L363.6 667 L365.1 667.1 L366.6 667.2 L368.1 666.6 L369.6 665.7 L371.1 664.9 L372.6 664 L374.1 663.5 L375.6 663.5 L377.1 663.5 L378.6 663.5 L380.1 664.7 L381.6 666.2 L383.1 667.6 L384.6 666.6 L386.1 665.4 L387.6 664.3 L389.1 663.7 L390.6 664.3 L392.1 664.9 L393.6 665.5 L395.1 666.1 L396.6 666 L398.1 665.8 L399.6 665.6 L401.1 665.5 L402.6 665.3 L404.1 665.1 L405.6 665.9 L407.1 667.5 L408.6 669.2 L410.1 670.8 L411.6 669.6 L413.1 667.7 L414.6 665.8 L416.1 663.9 L417.6 663.1 L419.1 663.6 L420.6 664.7 L422.1 667.1 L423.6 669.5 L425.1 671.9 L426.6 672.1 L428.1 671.4 L429.6 670.6 L431.1 670.1 L432.6 669.7 L434.1 669.3 L435.6 668.8 L437.1 668.4 L438.6 668.2 L440.1 667.9 L441.6 667.7 L443.1 667.5 L444.6 667.3 L446.1 667.1 L447.6 666.9 L449.1 666.7 L450.6 666.6 L452.2 666.5 L453.7 666.3 L455.2 666.2 L456.7 665.7 L458.2 664.8 L459.7 663.9 L461.2 663.6 L462.7 663.8 L464.2 664 L465.7 664.1 L467.2 664.3 L468.7 664.5 L470.2 664.7 L471.7 665.1 L473.2 665.6 L474.7 666 L476.2 666.5 L477.7 666.9 L479.2 667.1 L480.7 666.7 L482.2 666.4 L483.7 666 L485.2 665.6 L486.7 665.2 L488.2 665.2 L489.7 665.4 L491.2 665.5 L492.7 665.7 L494.2 665.9 L495.7 666.1 L497.2 666.1 L498.7 666.1 L500.2 666.1 L501.7 666.5 L503.2 668.3 L504.7 670.1 L506.2 671.9 L507.7 671.9 L509.2 670.5 L510.7 669.1 L512.2 667.7 L513.7 668.4 L515.2 669.2 L516.7 670 L518.2 670.4 L519.7 670.1 L521.2 669.8 L522.7 669.5 L524.2 669.2 L525.7 668.8 L527.2 668.2 L528.7 667.7 L530.2 667.1 L531.7 666.6 L533.2 666.2 L534.7 666.5 L536.2 666.8 L537.7 667.1 L539.2 666.4 L540.8 665.1 L542.3 664.2 L543.8 665.5 L545.3 666.8 L546.8 668.1 L548.3 667.9 L549.8 667.5 L551.3 667.1 L552.8 666.6 L554.3 665.7 L555.8 664.8 L557.3 663.9 L558.8 664.2 L560.3 665.3 L561.8 666.4 L563.3 667.5 L564.8 668.5 L566.3 669.5 L567.8 670.3 L569.3 671.2 L570.8 672 L572.3 672.6 L573.8 672.4 L575.3 672.1 L576.8 671.5 L578.3 670.3 L579.8 669.1 L581.3 667.9 L582.8 668.5 L584.3 669.5 L585.8 670.6 L587.3 670.5 L588.8 669 L590.3 667.6 L591.8 666.1 L593.3 665.6 L594.8 665.7 L596.3 665.8 L597.8 665.9 L599.3 666.1 L600.8 665.7 L602.3 664.8 L603.8 664 L605.3 663.1 L606.8 662.3 L608.3 662 L609.8 662.4 L611.3 662.8 L612.8 663.3 L614.3 663.1 L615.8 662.8 L617.3 662.6 L618.8 662.3 L620.3 662.1 L621.8 661.8 L623.3 661.2 L624.8 660.6 L626.3 660 L627.8 660.3 L629.4 661.7 L630.9 663 L632.4 664.4 L633.9 664.2 L635.4 663.7 L636.9 663.2 L638.4 662.7 L639.9 662.6 L641.4 662.9 L642.9 663.2 L644.4 662.9 L645.9 662.3 L647.4 661.7 L648.9 661.2 L650.4 661.3 L651.9 661.5 L653.4 661.6 L654.9 661.8 L656.4 664.2 L657.9 667.7 L659.4 671.2 L660.9 672.4 L662.4 670.2 L663.9 668 L665.4 665.8 L666.9 665.4 L668.4 667 L669.9 668.6 L671.4 670.2 L672.9 671.7 L674.4 672 L675.9 670.5 L677.4 669.1 L678.9 667.6 L680.4 666.1 L681.9 664.9 L683.4 664.5 L684.9 664 L686.4 663.6 L687.9 663.1 L689.4 662.7 L690.9 662.6 L692.4 663 L693.9 663.3 L695.4 663.7 L696.9 664.1 L698.4 665.2 L699.9 666.2 L701.4 667.2 L702.9 668.4 L704.4 669.8 L705.9 671.2 L707.4 672.6 L708.9 673.5 L710.4 672.5 L711.9 671.5 L713.4 670.5 L714.9 669.5 L716.4 669 L717.9 668.6 L719.5 668.2 L721 667.8 L722.5 667.9 L724 668.4 L725.5 668.9 L727 669.4 L728.5 668 L730 666.6 L731.5 665.2 L733 663.8 L734.5 664.2 L736 665.6 L737.5 667 L739 668.4 L740.5 669.5 L742 669.9 L743.5 670.3 L745 669.7 L746.5 667.8 L748 665.9 L749.5 665.5 L751 666.2 L752.5 667 L754 667.7 L755.5 668.2 L757 667.8 L758.5 667.4 L760 666.9 L761.5 666.5 L763 666.1 L764.5 666.1 L766 666.1 L767.5 666.1 L769 666.1 L770.5 666.3 L772 667.6 L773.5 669 L775 670.3 L776.5 671.7 L778 671.2 L779.5 670.2 L781 669.2 L782.5 668.2 L784 667.9 L785.5 668.3 L787 668.8 L788.5 668.4 L790 667.3 L791.5 666.2 L793 665.1 L794.5 665.2 L796 665.3 L797.5 665.4 L799 665.3 L800.5 664.7 L802 664.1 L803.5 663.5 L805 662.9 L806.5 663.2 L808.1 663.5 L809.6 663.8 L811.1 664.1 L812.6 664.4 L814.1 664.7 L815.6 664.9 L817.1 665.2 L818.6 665.5 L820.1 665.7 L821.6 666 L823.1 666.4 L824.6 667 L826.1 667.5 L827.6 668.1 L829.1 668.6 L830.6 668.6 L832.1 667.6 L833.6 666.6 L835.1 665.6 L836.6 664.6 L838.1 664.2 L839.6 664.7 L841.1 665.2 L842.6 665.7 L844.1 666.2 L845.6 667.2 L847.1 668.2 L848.6 669.2 L850.1 670.2 L851.6 669.4 L853.1 667.9 L854.6 666.4 L856.1 665.1 L857.6 666 L859.1 666.9 L860.6 667.8 L862.1 667.9 L863.6 667 L865.1 666.1 L866.6 665.2 L868.1 665.5 L869.6 666 L871.1 666.4 L872.6 667.1 L874.1 668.4 L875.6 669.7 L877.1 670.2 L878.6 669.3 L880.1 668.5 L881.6 667.6 L883.1 666.8 L884.6 666.8 L886.1 666.8 L887.6 666.8 L889.1 666.8 L890.6 666.8 L892.1 666.8 L893.6 666.8 L895.1 666.8 L896.7 666.8 L898.2 666.8 L899.7 668.4 L901.2 670.1 L902.7 669.7 L904.2 668.7 L905.7 667.6 L907.2 666.8 L908.7 666.7 L910.2 666.5 L911.7 666.4 L913.2 666.3 L914.7 666.2 L916.2 666.2 L917.7 666.5 L919.2 666.8 L920.7 667 L922.2 667.3 L923.7 667.6 L925.2 667.5 L926.7 667.3 L928.2 667.1 L929.7 666.9 L931.2 667 L932.7 667.6 L934.2 668.2 L935.7 668.8 L937.2 669.4 L938.7 671.1 L940.2 672.9 L941.7 674.7 L943.2 673.4 L944.7 666.4 L946.2 659.5 L947.7 652.5 L949.2 660.9 L950.7 687.1 L952.2 700.6 L953.7 700.1 L955.2 699.6 L956.7 699.1 L958.2 699 L959.7 701.2 L961.2 703.5 L962.7 705.9 L964.2 708.6 L965.7 711.4 L967.2 713.2 L968.7 713.2 L970.2 713.2 L971.7 713.2 L973.2 713.2 L974.7 713.2 L976.2 713.2 L977.7 713.2 L979.2 713.2 L980.7 713.2 L982.2 713.2 L983.7 713.2 L985.3 713.2 L986.8 713.2 L988.3 713.2 L989.8 713 L991.3 712.8 L992.8 712.7 L994.3 712.5 L995.8 712.3 L997.3 712.1 L998.8 712 L1000.3 711.8 L1001.8 711.7 L1003.3 712 L1004.8 712.3 L1006.3 712.5 L1007.8 712.8 L1009.3 713 L1010.8 713.2 L1012.3 713.2 L1013.8 713.2 L1015.3 713.2 L1016.8 713.2 L1018.3 713.2 L1019.8 713.2 L1021.3 713.2 L1022.8 713.2 L1024.3 713.2 L1025.8 713.2 L1027.3 713.2 L1028.8 713.2 L1030.3 713.2 L1031.8 713.2 L1033.3 713.2 L1034.8 713.2 L1036.3 713.2 L1037.8 713.2 L1039.3 713.2 L1040.8 713.2 L1042.3 713.2 L1043.8 713.2 L1045.3 713.2 L1046.8 713.2 L1048.3 713.2 L1049.8 713.2 L1051.3 713.2 L1052.8 713.2 L1054.3 713.2 L1055.8 705.6 L1057.3 697.4 L1058.8 684.8 L1060.3 670.8 L1061.8 661.9 L1063.3 656.6 L1064.8 652.5 L1066.3 656 L1067.8 661.9 L1069.3 674.9 L1070.8 687.5 L1072.3 696 L1073.8 704.6 L1075.4 706.6 L1076.9 708.1 L1078.4 709.6 L1079.9 710.8 L1081.4 711.4 L1082.9 712 L1084.4 712.6 L1085.9 713.2 L1087.4 713 L1088.9 712.8 L1090.4 712.5 L1091.9 712.3 L1093.4 712.1 L1094.9 711.9 L1096.4 711.7 L1097.9 711.9 L1099.4 712.1 L1100.9 712.4 L1102.4 712.6 L1103.9 712.9 L1105.4 713.2 L1106.9 713.2 L1108.4 713.2 L1109.9 713.2 L1111.4 713.2 L1112.9 713.2 L1114.4 713.2 L1115.9 713.2 L1117.4 713.2 L1118.9 713.2 L1120.4 713.2 L1121.9 713.2 L1123.4 713.2 L1124.9 713.2 L1126.4 713.2 L1127.9 713.2 L1129.4 713.2 L1130.9 711.5 L1132.4 707.3 L1133.9 701.2 L1135.4 689.2 L1136.9 677.3 L1138.4 667.6 L1139.9 663.5 L1141.4 662.7 L1142.9 664.3 L1144.4 666.6 L1145.9 668.2 L1147.4 667.9 L1148.9 667.6 L1150.4 667.3 L1151.9 667 L1153.4 666.7 L1154.9 666.4 L1156.4 666.3 L1157.9 668.6 L1159.4 670.8 L1160.9 672.2 L1162.4 670.2 L1164 668.2 L1165.5 667 L1167 667.6 L1168.5 668.2 L1170 668.8 L1171.5 669.3 L1173 669.8 L1174.5 670.3 L1176 670.8 L1177.5 670.8 L1179 669.9 L1180.5 669 L1182 668.1 L1183.5 667.2 L1185 667.1 L1186.5 667 L1188 666.9 L1189.5 667.2 L1191 668.1 L1192.5 669.1 L1194 670 L1195.5 671 L1197 671.2 L1198.5 670.3 L1200 669.4 L1201.5 668.5 L1203 668 L1204.5 667.6 L1206 667.2 L1207.5 666.8" fill="none" stroke="#c0d4e9" stroke-width="1.4" stroke-linejoin="round"/><g opacity="0.16"><path d="M139.5 490.6H1207.5" stroke="#c8d4e4" stroke-width="1"/><path d="M139.5 535.2H1207.5" stroke="#c8d4e4" stroke-width="1"/><path d="M139.5 579.9H1207.5" stroke="#c8d4e4" stroke-width="1"/><path d="M139.5 624.5H1207.5" stroke="#c8d4e4" stroke-width="1"/><path d="M139.5 669.1H1207.5" stroke="#c8d4e4" stroke-width="1"/><path d="M187.8 446V713.7" stroke="#c8d4e4" stroke-width="1"/><path d="M277.0 446V713.7" stroke="#c8d4e4" stroke-width="1"/><path d="M366.2 446V713.7" stroke="#c8d4e4" stroke-width="1"/><path d="M455.4 446V713.7" stroke="#c8d4e4" stroke-width="1"/><path d="M544.6 446V713.7" stroke="#c8d4e4" stroke-width="1"/><path d="M633.8 446V713.7" stroke="#c8d4e4" stroke-width="1"/><path d="M723.0 446V713.7" stroke="#c8d4e4" stroke-width="1"/><path d="M812.2 446V713.7" stroke="#c8d4e4" stroke-width="1"/><path d="M901.4 446V713.7" stroke="#c8d4e4" stroke-width="1"/><path d="M990.6 446V713.7" stroke="#c8d4e4" stroke-width="1"/><path d="M1079.8 446V713.7" stroke="#c8d4e4" stroke-width="1"/><path d="M1169.0 446V713.7" stroke="#c8d4e4" stroke-width="1"/></g><path d="M260.800 446V713.7" stroke="#c4574a" stroke-opacity="0.85" stroke-width="1.100"/><rect x="121.7" y="751.7" width="13" height="4" rx="1" fill="#dfe7f2"/><text x="139.0" y="757.9" font-size="12" fill="#dcdcdf" textLength="77.5" lengthAdjust="spacingAndGlyphs" stroke="#dcdcdf" stroke-width="0.6">web_server_01</text><rect x="227.8" y="751.7" width="13" height="4" rx="1" fill="#7399c4"/><text x="244.5" y="757.9" font-size="12" fill="#dcdcdf" textLength="77.5" lengthAdjust="spacingAndGlyphs" stroke="#dcdcdf" stroke-width="0.6">web_server_02</text><rect x="333.9" y="751.7" width="13" height="4" rx="1" fill="#5a8cbd"/><text x="350.6" y="757.9" font-size="12" fill="#dcdcdf" textLength="77.5" lengthAdjust="spacingAndGlyphs" stroke="#dcdcdf" stroke-width="0.6">web_server_03</text><rect x="439.7" y="751.7" width="13" height="4" rx="1" fill="#4a6a94"/><text x="456.0" y="757.9" font-size="12" fill="#dcdcdf" textLength="77.5" lengthAdjust="spacingAndGlyphs" stroke="#dcdcdf" stroke-width="0.6">web_server_04</text><g opacity="0.53"><circle cx="920" cy="583.200" r="52.600" fill="none" stroke="#fff" stroke-width="17.800"/><path d="M902.700 558L948 583.300L902.700 609Z" fill="#fff" stroke="#fff" stroke-width="7" stroke-linejoin="round"/></g><path d="M1224.7 768.0H1229.2V763.5" stroke="#8e8e94" stroke-width="1.500" fill="none"/></g>
<g id="client"><text x="1523.5" y="419.0" font-size="14" text-anchor="middle" font-weight="bold" fill="#e2e2e5" textLength="151.8" lengthAdjust="spacingAndGlyphs" stroke="#e2e2e5" stroke-width="0.2">client side full page load</text><path d="M1285.3 446.2H1769" stroke="#6a6a6f" stroke-width="1"/><path d="M1285.3 505.1H1769" stroke="#6a6a6f" stroke-width="1"/><path d="M1285.3 564.1H1769" stroke="#6a6a6f" stroke-width="1"/><path d="M1285.3 623.0H1769" stroke="#6a6a6f" stroke-width="1"/><path d="M1285.3 682.0H1769" stroke="#6a6a6f" stroke-width="1"/><path d="M1285.3 740.9H1769" stroke="#6a6a6f" stroke-width="1"/><path d="M1308.2 446.2V740.9" stroke="#6a6a6f" stroke-width="1"/><path d="M1388.6 446.2V740.9" stroke="#6a6a6f" stroke-width="1"/><path d="M1469.1 446.2V740.9" stroke="#6a6a6f" stroke-width="1"/><path d="M1549.5 446.2V740.9" stroke="#6a6a6f" stroke-width="1"/><path d="M1630.0 446.2V740.9" stroke="#6a6a6f" stroke-width="1"/><path d="M1710.4 446.2V740.9" stroke="#6a6a6f" stroke-width="1"/><text x="1279.3" y="448.8" font-size="11.5" text-anchor="end" fill="#d9d9dc" textLength="24.5" lengthAdjust="spacingAndGlyphs" stroke="#d9d9dc" stroke-width="0.6">5.0 s</text><text x="1279.3" y="507.7" font-size="11.5" text-anchor="end" fill="#d9d9dc" textLength="24.5" lengthAdjust="spacingAndGlyphs" stroke="#d9d9dc" stroke-width="0.6">4.0 s</text><text x="1279.3" y="566.7" font-size="11.5" text-anchor="end" fill="#d9d9dc" textLength="24.5" lengthAdjust="spacingAndGlyphs" stroke="#d9d9dc" stroke-width="0.6">3.0 s</text><text x="1279.3" y="625.6" font-size="11.5" text-anchor="end" fill="#d9d9dc" textLength="24.5" lengthAdjust="spacingAndGlyphs" stroke="#d9d9dc" stroke-width="0.6">2.0 s</text><text x="1279.3" y="684.6" font-size="11.5" text-anchor="end" fill="#d9d9dc" textLength="24.5" lengthAdjust="spacingAndGlyphs" stroke="#d9d9dc" stroke-width="0.6">1.0 s</text><text x="1279.3" y="743.5" font-size="11.5" text-anchor="end" fill="#d9d9dc" textLength="24.5" lengthAdjust="spacingAndGlyphs" stroke="#d9d9dc" stroke-width="0.6">0 ms</text><text x="1308.2" y="758.3" font-size="11.5" text-anchor="middle" fill="#d9d9dc" textLength="28.3" lengthAdjust="spacingAndGlyphs" stroke="#d9d9dc" stroke-width="0.6">14:20</text><text x="1388.6" y="758.3" font-size="11.5" text-anchor="middle" fill="#d9d9dc" textLength="28.3" lengthAdjust="spacingAndGlyphs" stroke="#d9d9dc" stroke-width="0.6">14:30</text><text x="1469.1" y="758.3" font-size="11.5" text-anchor="middle" fill="#d9d9dc" textLength="28.3" lengthAdjust="spacingAndGlyphs" stroke="#d9d9dc" stroke-width="0.6">14:40</text><text x="1549.5" y="758.3" font-size="11.5" text-anchor="middle" fill="#d9d9dc" textLength="28.3" lengthAdjust="spacingAndGlyphs" stroke="#d9d9dc" stroke-width="0.6">14:50</text><text x="1630.0" y="758.3" font-size="11.5" text-anchor="middle" fill="#d9d9dc" textLength="28.3" lengthAdjust="spacingAndGlyphs" stroke="#d9d9dc" stroke-width="0.6">15:00</text><text x="1710.4" y="758.3" font-size="11.5" text-anchor="middle" fill="#d9d9dc" textLength="28.3" lengthAdjust="spacingAndGlyphs" stroke="#d9d9dc" stroke-width="0.6">15:10</text><path d="M1340.400 446.2V740.9" stroke="#b5564a" stroke-width="1"/><rect x="1285.3" y="524.9" width="11.7" height="216.0" fill="#e66d69"/><rect x="1285.3" y="619.5" width="11.7" height="121.4" fill="#ee9963"/><rect x="1285.3" y="687.0" width="11.7" height="53.9" fill="#ecc561"/><rect x="1285.3" y="729.1" width="11.7" height="11.8" fill="#f3d58d"/><rect x="1307.4" y="514.9" width="22.1" height="226.0" fill="#e66d69"/><rect x="1307.4" y="618.6" width="22.1" height="122.3" fill="#ee9963"/><rect x="1307.4" y="687.9" width="22.1" height="53.0" fill="#ecc561"/><rect x="1307.4" y="729.1" width="22.1" height="11.8" fill="#f3d58d"/><rect x="1340.4" y="522.2" width="20.9" height="218.7" fill="#e66d69"/><rect x="1340.4" y="621.0" width="20.9" height="119.9" fill="#ee9963"/><rect x="1340.4" y="692.3" width="20.9" height="48.6" fill="#ecc561"/><rect x="1340.4" y="732.1" width="20.9" height="8.8" fill="#f3d58d"/><rect x="1372.2" y="533.1" width="21.5" height="207.8" fill="#e66d69"/><rect x="1372.2" y="623.0" width="21.5" height="117.9" fill="#ee9963"/><rect x="1372.2" y="694.3" width="21.5" height="46.6" fill="#ecc561"/><rect x="1372.2" y="732.1" width="21.5" height="8.8" fill="#f3d58d"/><rect x="1404.0" y="521.3" width="21.8" height="219.6" fill="#e66d69"/><rect x="1404.0" y="625.1" width="21.8" height="115.8" fill="#ee9963"/><rect x="1404.0" y="692.3" width="21.8" height="48.6" fill="#ecc561"/><rect x="1404.0" y="730.0" width="21.8" height="10.9" fill="#f3d58d"/><rect x="1436.2" y="490.1" width="22.1" height="250.8" fill="#e66d69"/><rect x="1436.2" y="613.6" width="22.1" height="127.3" fill="#ee9963"/><rect x="1436.2" y="688.7" width="22.1" height="52.2" fill="#ecc561"/><rect x="1436.2" y="730.0" width="22.1" height="10.9" fill="#f3d58d"/><rect x="1468.6" y="464.2" width="21.8" height="276.7" fill="#e66d69"/><rect x="1468.6" y="592.1" width="21.8" height="148.8" fill="#ee9963"/><rect x="1468.6" y="682.5" width="21.8" height="58.4" fill="#ecc561"/><rect x="1468.6" y="727.6" width="21.8" height="13.3" fill="#f3d58d"/><rect x="1500.7" y="524.9" width="21.8" height="216.0" fill="#e66d69"/><rect x="1500.7" y="624.5" width="21.8" height="116.4" fill="#ee9963"/><rect x="1500.7" y="697.3" width="21.8" height="43.6" fill="#ecc561"/><rect x="1500.7" y="732.9" width="21.8" height="8.0" fill="#f3d58d"/><rect x="1533.3" y="508.1" width="21.5" height="232.8" fill="#e66d69"/><rect x="1533.3" y="609.2" width="21.5" height="131.7" fill="#ee9963"/><rect x="1533.3" y="689.3" width="21.5" height="51.6" fill="#ecc561"/><rect x="1533.3" y="730.6" width="21.5" height="10.3" fill="#f3d58d"/><rect x="1565.1" y="490.1" width="22.1" height="250.8" fill="#e66d69"/><rect x="1565.1" y="604.7" width="22.1" height="136.2" fill="#ee9963"/><rect x="1565.1" y="689.3" width="22.1" height="51.6" fill="#ecc561"/><rect x="1565.1" y="730.0" width="22.1" height="10.9" fill="#f3d58d"/><rect x="1597.5" y="507.2" width="21.8" height="233.7" fill="#e66d69"/><rect x="1597.5" y="613.3" width="21.8" height="127.6" fill="#ee9963"/><rect x="1597.5" y="689.9" width="21.8" height="51.0" fill="#ecc561"/><rect x="1597.5" y="730.6" width="21.8" height="10.3" fill="#f3d58d"/><rect x="1629.9" y="502.8" width="21.8" height="238.1" fill="#e66d69"/><rect x="1629.9" y="606.8" width="21.8" height="134.1" fill="#ee9963"/><rect x="1629.9" y="684.0" width="21.8" height="56.9" fill="#ecc561"/><rect x="1629.9" y="729.7" width="21.8" height="11.2" fill="#f3d58d"/><rect x="1662.1" y="499.5" width="21.8" height="241.4" fill="#e66d69"/><rect x="1662.1" y="611.2" width="21.8" height="129.7" fill="#ee9963"/><rect x="1662.1" y="692.3" width="21.8" height="48.6" fill="#ecc561"/><rect x="1662.1" y="732.9" width="21.8" height="8.0" fill="#f3d58d"/><rect x="1694.5" y="479.2" width="21.5" height="261.7" fill="#e66d69"/><rect x="1694.5" y="598.9" width="21.5" height="142.0" fill="#ee9963"/><rect x="1694.5" y="681.4" width="21.5" height="59.5" fill="#ecc561"/><rect x="1694.5" y="729.1" width="21.5" height="11.8" fill="#f3d58d"/><rect x="1726.3" y="512.5" width="22.1" height="228.4" fill="#e66d69"/><rect x="1726.3" y="613.3" width="22.1" height="127.6" fill="#ee9963"/><rect x="1726.3" y="687.0" width="22.1" height="53.9" fill="#ecc561"/><rect x="1726.3" y="729.7" width="22.1" height="11.2" fill="#f3d58d"/><rect x="1758.7" y="550.2" width="10.3" height="190.7" fill="#e66d69"/><rect x="1758.7" y="627.4" width="10.3" height="113.5" fill="#ee9963"/><rect x="1758.7" y="692.9" width="10.3" height="48.0" fill="#ecc561"/><rect x="1758.7" y="731.2" width="10.3" height="9.7" fill="#f3d58d"/><path d="M1796.7 768.0H1801.2V763.5" stroke="#8e8e94" stroke-width="1.500" fill="none"/></g>
<g id="disk"><rect x="111.0" y="902.1" width="94.5" height="181.4" rx="3" fill="#7a6456"/><path d="M111.0 905.3v-0.700a2.500 2.500 0 0 1 2.500 -2.500h89.5a2.500 2.500 0 0 1 2.500 2.500v0.700z" fill="#efa56e"/><text x="158.2" y="892.2" font-size="18.2" text-anchor="middle" fill="#f0ad7a" textLength="45.3" lengthAdjust="spacingAndGlyphs" stroke="#f0ad7a" stroke-width="0.4">70 GB</text><text x="158.2" y="1100.0" font-size="15" text-anchor="middle" fill="#d9d9dc" textLength="31.4" lengthAdjust="spacingAndGlyphs" stroke="#d9d9dc" stroke-width="0.25">sda1</text><rect x="216.4" y="926.5" width="94.5" height="157.0" rx="3" fill="#7a6456"/><path d="M216.4 929.7v-0.700a2.500 2.500 0 0 1 2.500 -2.500h89.5a2.500 2.500 0 0 1 2.500 2.500v0.700z" fill="#efa56e"/><text x="263.6" y="916.6" font-size="18.2" text-anchor="middle" fill="#f0ad7a" textLength="45.3" lengthAdjust="spacingAndGlyphs" stroke="#f0ad7a" stroke-width="0.4">60 GB</text><text x="263.6" y="1100.0" font-size="15" text-anchor="middle" fill="#d9d9dc" textLength="31.4" lengthAdjust="spacingAndGlyphs" stroke="#d9d9dc" stroke-width="0.25">sda2</text><rect x="321.7" y="929.4" width="94.5" height="154.1" rx="3" fill="#5d705f"/><path d="M321.7 932.6v-0.700a2.500 2.500 0 0 1 2.500 -2.500h89.5a2.500 2.500 0 0 1 2.500 2.500v0.700z" fill="#88c380"/><text x="369.0" y="919.5" font-size="18.2" text-anchor="middle" fill="#90c888" textLength="45.3" lengthAdjust="spacingAndGlyphs" stroke="#90c888" stroke-width="0.4">60 GB</text><text x="369.0" y="1100.0" font-size="15" text-anchor="middle" fill="#d9d9dc" textLength="31.4" lengthAdjust="spacingAndGlyphs" stroke="#d9d9dc" stroke-width="0.25">sda3</text><rect x="427.1" y="1006.2" width="94.5" height="77.3" rx="3" fill="#53657f"/><path d="M427.1 1009.4v-0.700a2.500 2.500 0 0 1 2.500 -2.500h89.5a2.500 2.500 0 0 1 2.500 2.500v0.700z" fill="#6f9fe0"/><text x="474.3" y="996.3" font-size="18.2" text-anchor="middle" fill="#78a5e4" textLength="45.3" lengthAdjust="spacingAndGlyphs" stroke="#78a5e4" stroke-width="0.4">30 GB</text><text x="474.3" y="1100.0" font-size="15" text-anchor="middle" fill="#d9d9dc" textLength="31.4" lengthAdjust="spacingAndGlyphs" stroke="#d9d9dc" stroke-width="0.25">sda4</text><rect x="532.4" y="979.3" width="94.5" height="104.2" rx="3" fill="#5d705f"/><path d="M532.4 982.5v-0.700a2.500 2.500 0 0 1 2.500 -2.500h89.5a2.500 2.500 0 0 1 2.500 2.500v0.700z" fill="#88c380"/><text x="579.7" y="969.4" font-size="18.2" text-anchor="middle" fill="#90c888" textLength="45.3" lengthAdjust="spacingAndGlyphs" stroke="#90c888" stroke-width="0.4">40 GB</text><text x="579.7" y="1100.0" font-size="15" text-anchor="middle" fill="#d9d9dc" textLength="31.4" lengthAdjust="spacingAndGlyphs" stroke="#d9d9dc" stroke-width="0.25">sda5</text><rect x="637.8" y="867.9" width="94.5" height="215.6" rx="3" fill="#7a565c"/><path d="M637.8 871.1v-0.700a2.500 2.500 0 0 1 2.500 -2.500h89.5a2.500 2.500 0 0 1 2.500 2.500v0.700z" fill="#e57373"/><text x="685.0" y="858.0" font-size="18.2" text-anchor="middle" fill="#ea7c7c" textLength="45.3" lengthAdjust="spacingAndGlyphs" stroke="#ea7c7c" stroke-width="0.4">83 GB</text><text x="685.0" y="1100.0" font-size="15" text-anchor="middle" fill="#d9d9dc" textLength="31.4" lengthAdjust="spacingAndGlyphs" stroke="#d9d9dc" stroke-width="0.25">sda6</text><rect x="743.2" y="968.8" width="94.5" height="114.7" rx="3" fill="#5d705f"/><path d="M743.2 972.0v-0.700a2.500 2.500 0 0 1 2.500 -2.500h89.5a2.500 2.500 0 0 1 2.500 2.500v0.700z" fill="#88c380"/><text x="790.4" y="958.9" font-size="18.2" text-anchor="middle" fill="#90c888" textLength="45.3" lengthAdjust="spacingAndGlyphs" stroke="#90c888" stroke-width="0.4">44 GB</text><text x="790.4" y="1100.0" font-size="15" text-anchor="middle" fill="#d9d9dc" textLength="31.4" lengthAdjust="spacingAndGlyphs" stroke="#d9d9dc" stroke-width="0.25">sda7</text><rect x="848.5" y="962.4" width="94.5" height="121.1" rx="3" fill="#5d705f"/><path d="M848.5 965.6v-0.700a2.500 2.500 0 0 1 2.500 -2.500h89.5a2.500 2.500 0 0 1 2.500 2.500v0.700z" fill="#88c380"/><text x="895.8" y="952.5" font-size="18.2" text-anchor="middle" fill="#90c888" textLength="45.3" lengthAdjust="spacingAndGlyphs" stroke="#90c888" stroke-width="0.4">47 GB</text><text x="895.8" y="1100.0" font-size="15" text-anchor="middle" fill="#d9d9dc" textLength="31.4" lengthAdjust="spacingAndGlyphs" stroke="#d9d9dc" stroke-width="0.25">sda8</text><rect x="953.9" y="839.8" width="94.5" height="243.7" rx="3" fill="#7a565c"/><path d="M953.9 843.0v-0.700a2.500 2.500 0 0 1 2.500 -2.500h89.5a2.500 2.500 0 0 1 2.500 2.500v0.700z" fill="#e57373"/><text x="1001.1" y="829.9" font-size="18.2" text-anchor="middle" fill="#ea7c7c" textLength="45.3" lengthAdjust="spacingAndGlyphs" stroke="#ea7c7c" stroke-width="0.4">94 GB</text><text x="1001.1" y="1100.0" font-size="15" text-anchor="middle" fill="#d9d9dc" textLength="31.4" lengthAdjust="spacingAndGlyphs" stroke="#d9d9dc" stroke-width="0.25">sda9</text><rect x="1059.2" y="1074.1" width="94.5" height="9.4" rx="3" fill="#53657f"/><path d="M1059.2 1077.3v-0.700a2.500 2.500 0 0 1 2.500 -2.500h89.5a2.500 2.500 0 0 1 2.500 2.500v0.700z" fill="#6f9fe0"/><text x="1106.5" y="1064.2" font-size="21" text-anchor="middle" fill="#78a5e4" textLength="45.3" lengthAdjust="spacingAndGlyphs" stroke="#78a5e4" stroke-width="0.4">4 GB</text><text x="1106.5" y="1100.0" font-size="15" text-anchor="middle" fill="#d9d9dc" textLength="39.4" lengthAdjust="spacingAndGlyphs" stroke="#d9d9dc" stroke-width="0.25">sda10</text><rect x="1164.6" y="894.5" width="94.5" height="189.0" rx="3" fill="#7a6456"/><path d="M1164.6 897.7v-0.700a2.500 2.500 0 0 1 2.500 -2.500h89.5a2.500 2.500 0 0 1 2.500 2.500v0.700z" fill="#efa56e"/><text x="1211.8" y="884.6" font-size="18.2" text-anchor="middle" fill="#f0ad7a" textLength="45.3" lengthAdjust="spacingAndGlyphs" stroke="#f0ad7a" stroke-width="0.4">73 GB</text><text x="1211.8" y="1100.0" font-size="15" text-anchor="middle" fill="#d9d9dc" textLength="38.4" lengthAdjust="spacingAndGlyphs" stroke="#d9d9dc" stroke-width="0.25">sda11</text><rect x="1270.0" y="970.8" width="94.5" height="112.7" rx="3" fill="#5d705f"/><path d="M1270.0 974.0v-0.700a2.500 2.500 0 0 1 2.500 -2.500h89.5a2.500 2.500 0 0 1 2.500 2.500v0.700z" fill="#88c380"/><text x="1317.2" y="960.9" font-size="18.2" text-anchor="middle" fill="#90c888" textLength="45.3" lengthAdjust="spacingAndGlyphs" stroke="#90c888" stroke-width="0.4">44 GB</text><text x="1317.2" y="1100.0" font-size="15" text-anchor="middle" fill="#d9d9dc" textLength="39.4" lengthAdjust="spacingAndGlyphs" stroke="#d9d9dc" stroke-width="0.25">sda12</text><rect x="1375.3" y="1034.0" width="94.5" height="49.5" rx="3" fill="#53657f"/><path d="M1375.3 1037.2v-0.700a2.500 2.500 0 0 1 2.500 -2.500h89.5a2.500 2.500 0 0 1 2.500 2.500v0.700z" fill="#6f9fe0"/><text x="1422.6" y="1024.1" font-size="18.2" text-anchor="middle" fill="#78a5e4" textLength="45.3" lengthAdjust="spacingAndGlyphs" stroke="#78a5e4" stroke-width="0.4">19 GB</text><text x="1422.6" y="1100.0" font-size="15" text-anchor="middle" fill="#d9d9dc" textLength="39.4" lengthAdjust="spacingAndGlyphs" stroke="#d9d9dc" stroke-width="0.25">sda13</text><rect x="1480.7" y="1027.0" width="94.5" height="56.5" rx="3" fill="#53657f"/><path d="M1480.7 1030.2v-0.700a2.500 2.500 0 0 1 2.500 -2.500h89.5a2.500 2.500 0 0 1 2.500 2.500v0.700z" fill="#6f9fe0"/><text x="1527.9" y="1017.1" font-size="18.2" text-anchor="middle" fill="#78a5e4" textLength="45.3" lengthAdjust="spacingAndGlyphs" stroke="#78a5e4" stroke-width="0.4">22 GB</text><text x="1527.9" y="1100.0" font-size="15" text-anchor="middle" fill="#d9d9dc" textLength="39.4" lengthAdjust="spacingAndGlyphs" stroke="#d9d9dc" stroke-width="0.25">sda14</text><rect x="1586.0" y="1031.1" width="94.5" height="52.4" rx="3" fill="#53657f"/><path d="M1586.0 1034.3v-0.700a2.500 2.500 0 0 1 2.500 -2.500h89.5a2.500 2.500 0 0 1 2.500 2.500v0.700z" fill="#6f9fe0"/><text x="1633.3" y="1021.2" font-size="18.2" text-anchor="middle" fill="#78a5e4" textLength="45.3" lengthAdjust="spacingAndGlyphs" stroke="#78a5e4" stroke-width="0.4">20 GB</text><text x="1633.3" y="1100.0" font-size="15" text-anchor="middle" fill="#d9d9dc" textLength="39.4" lengthAdjust="spacingAndGlyphs" stroke="#d9d9dc" stroke-width="0.25">sda15</text><rect x="1691.4" y="873.4" width="94.5" height="210.1" rx="3" fill="#7a565c"/><path d="M1691.4 876.6v-0.700a2.500 2.500 0 0 1 2.500 -2.500h89.5a2.500 2.500 0 0 1 2.500 2.500v0.700z" fill="#e57373"/><text x="1738.7" y="863.5" font-size="18.2" text-anchor="middle" fill="#ea7c7c" textLength="45.3" lengthAdjust="spacingAndGlyphs" stroke="#ea7c7c" stroke-width="0.4">81 GB</text><text x="1738.7" y="1100.0" font-size="15" text-anchor="middle" fill="#d9d9dc" textLength="39.4" lengthAdjust="spacingAndGlyphs" stroke="#d9d9dc" stroke-width="0.25">sda16</text><path d="M1796.7 1112.0H1801.2V1107.5" stroke="#8e8e94" stroke-width="1.500" fill="none"/></g></svg>
</body>
</html>
